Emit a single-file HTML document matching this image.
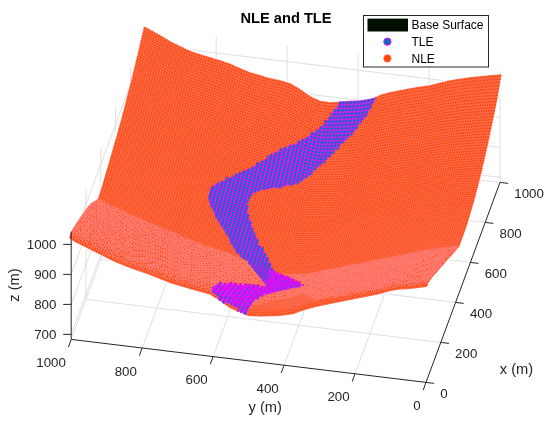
<!DOCTYPE html>
<html><head><meta charset="utf-8"><title>NLE and TLE</title>
<style>
html,body{margin:0;padding:0;background:#fff;}
body{width:550px;height:422px;overflow:hidden;font-family:"Liberation Sans",sans-serif;}
svg{display:block}
.g{stroke:#dfdfdf;stroke-width:1;fill:none}
.a{stroke:#262626;stroke-width:1;fill:none;stroke-linecap:butt}
.t{font-family:"Liberation Sans",sans-serif;font-size:13.33px;fill:#262626}
.l{font-family:"Liberation Sans",sans-serif;font-size:14.67px;fill:#262626}
.lg{font-family:"Liberation Sans",sans-serif;font-size:12px;fill:#000}
.ti{font-family:"Liberation Sans",sans-serif;font-size:14.67px;font-weight:bold;fill:#000}
.mo{fill:none;stroke:none;marker-start:url(#mo);marker-mid:url(#mo);marker-end:url(#mo)}
.mb{fill:none;stroke:none;marker-start:url(#mb);marker-mid:url(#mb);marker-end:url(#mb)}
.mp{fill:none;stroke:none;marker-start:url(#mp);marker-mid:url(#mp);marker-end:url(#mp)}
.mc{fill:none;stroke:none;marker-start:url(#mc);marker-mid:url(#mc);marker-end:url(#mc)}
</style></head><body>
<svg width="550" height="422" viewBox="0 0 550 422">
<defs>
<marker id="mo" markerWidth="5" markerHeight="5" refX="2.5" refY="2.5" markerUnits="userSpaceOnUse"><circle cx="2.5" cy="2.5" r="1.4" fill="#ff4500" stroke="#fb8078" stroke-width="0.55"/></marker>
<marker id="mb" markerWidth="5" markerHeight="5" refX="2.5" refY="2.5" markerUnits="userSpaceOnUse"><circle cx="2.5" cy="2.5" r="1.62" fill="#0072bd" stroke="#ff00ff" stroke-width="0.5"/></marker>
<marker id="mp" markerWidth="5" markerHeight="5" refX="2.5" refY="2.5" markerUnits="userSpaceOnUse"><circle shape-rendering="crispEdges" cx="2.5" cy="2.5" r="1.33" fill="#ff4500" stroke="#ff8280" stroke-width="0.67"/></marker>
<marker id="mc" markerWidth="5" markerHeight="5" refX="2.5" refY="2.5" markerUnits="userSpaceOnUse"><circle shape-rendering="crispEdges" cx="2.5" cy="2.5" r="1.4" fill="#0072bd" stroke="#ff00ff" stroke-width="0.8"/></marker>
</defs>
<rect width="550" height="422" fill="#fff"/>
<g><line class="g" x1="440.8" y1="342.4" x2="86.0" y2="299.4"/><line class="g" x1="355.0" y1="373.8" x2="429.0" y2="173.8"/><line class="g" x1="429.0" y1="173.8" x2="429.0" y2="62.8"/><line class="g" x1="86.0" y1="299.4" x2="86.0" y2="188.4"/><line class="g" x1="455.6" y1="302.4" x2="100.8" y2="259.4"/><line class="g" x1="284.1" y1="365.2" x2="358.1" y2="165.2"/><line class="g" x1="358.1" y1="165.2" x2="358.1" y2="54.2"/><line class="g" x1="100.8" y1="259.4" x2="100.8" y2="148.4"/><line class="g" x1="470.4" y1="262.4" x2="115.6" y2="219.4"/><line class="g" x1="213.1" y1="356.6" x2="287.1" y2="156.6"/><line class="g" x1="287.1" y1="156.6" x2="287.1" y2="45.6"/><line class="g" x1="115.6" y1="219.4" x2="115.6" y2="108.4"/><line class="g" x1="485.2" y1="222.4" x2="130.4" y2="179.4"/><line class="g" x1="142.2" y1="348.0" x2="216.2" y2="148.0"/><line class="g" x1="216.2" y1="148.0" x2="216.2" y2="37.0"/><line class="g" x1="130.4" y1="179.4" x2="130.4" y2="68.4"/><line class="g" x1="500.0" y1="182.4" x2="145.2" y2="139.4"/><line class="g" x1="71.2" y1="339.4" x2="145.2" y2="139.4"/><line class="g" x1="145.2" y1="139.4" x2="145.2" y2="28.4"/><line class="g" x1="145.2" y1="139.4" x2="145.2" y2="28.4"/><line class="g" x1="500.0" y1="182.4" x2="500.0" y2="71.4"/><line class="g" x1="500.0" y1="177.4" x2="145.2" y2="134.4"/><line class="g" x1="71.2" y1="334.4" x2="145.2" y2="134.4"/><line class="g" x1="500.0" y1="147.4" x2="145.2" y2="104.4"/><line class="g" x1="71.2" y1="304.4" x2="145.2" y2="104.4"/><line class="g" x1="500.0" y1="117.4" x2="145.2" y2="74.4"/><line class="g" x1="71.2" y1="274.4" x2="145.2" y2="74.4"/><line class="g" x1="500.0" y1="87.4" x2="145.2" y2="44.4"/><line class="g" x1="71.2" y1="244.4" x2="145.2" y2="44.4"/></g>
<polygon points="145.0,26.6 160.0,35.0 170.0,41.0 180.0,46.0 190.0,50.6 200.0,54.0 210.0,57.0 220.0,60.0 230.0,63.5 240.0,68.0 250.0,72.0 260.0,75.0 270.0,78.0 280.0,80.0 290.0,83.0 300.0,89.0 310.0,96.0 320.0,100.6 330.0,102.0 340.0,101.6 350.0,101.0 360.0,100.6 370.0,99.0 376.0,97.0 382.0,94.0 390.0,92.0 400.0,90.0 410.0,88.0 420.0,86.4 430.0,85.0 450.0,80.0 470.0,77.0 490.0,75.0 500.5,74.2 501.6,77.0 499.0,95.0 495.0,115.0 491.6,130.0 487.0,150.0 482.0,170.0 477.0,190.0 471.0,212.0 469.0,220.0 466.0,230.0 462.0,240.0 459.0,247.0 456.0,251.0 450.0,257.0 444.0,264.0 437.0,272.0 430.0,280.0 427.0,284.4 426.0,287.0 410.0,289.0 400.0,289.5 390.0,291.0 380.0,294.0 360.0,298.0 340.0,302.0 320.0,306.0 310.0,308.5 300.0,311.5 294.0,314.0 280.0,316.0 260.0,316.5 248.0,316.0 240.0,312.5 230.0,308.0 220.0,301.0 210.0,294.5 190.0,289.0 170.0,283.0 150.0,275.0 130.0,268.0 115.0,262.0 105.0,257.0 95.0,252.0 85.0,247.0 75.0,242.0 69.4,238.0 70.0,234.0 73.0,228.0 79.0,219.0 85.0,210.0 91.0,203.0 98.0,199.0 101.0,190.0 103.0,180.0 106.5,168.0 111.5,150.0 117.5,130.0 124.0,110.0 130.0,89.0 133.0,75.0 138.0,55.0 142.4,35.0" fill="#fb5a2a" stroke="#fff" stroke-width="2"/>
<polygon points="98.0,199.0 115.0,208.0 135.0,217.0 155.0,225.0 165.0,229.0 190.0,240.0 201.0,245.0 230.0,254.0 240.0,259.0 255.0,266.0 270.0,271.0 285.0,275.0 310.0,274.0 350.0,266.0 390.0,258.0 430.0,250.0 458.0,246.5 456.0,251.0 450.0,257.0 444.0,264.0 437.0,272.0 430.0,280.0 427.0,284.4 426.0,287.0 410.0,289.0 400.0,289.5 390.0,291.0 380.0,294.0 360.0,298.0 340.0,302.0 320.0,306.0 310.0,308.5 300.0,311.5 294.0,314.0 280.0,316.0 260.0,316.5 248.0,316.0 240.0,312.5 230.0,308.0 220.0,301.0 210.0,294.5 190.0,289.0 170.0,283.0 150.0,275.0 130.0,268.0 115.0,262.0 105.0,257.0 95.0,252.0 85.0,247.0 75.0,242.0 69.4,238.0 70.0,234.0 73.0,228.0 79.0,219.0 85.0,210.0 91.0,203.0" fill="#fd7a68"/>
<polygon points="339.0,102.0 335.0,109.0 330.0,115.0 324.0,123.0 316.0,130.0 308.0,136.0 300.0,141.0 290.0,144.5 280.0,149.0 270.0,155.0 260.0,162.0 250.0,168.0 240.0,173.0 230.0,177.0 220.0,181.0 212.0,186.0 209.0,192.0 208.0,200.0 210.0,206.0 214.0,215.0 220.0,225.0 226.0,235.0 231.0,245.0 238.0,255.0 246.0,262.0 256.0,274.0 264.0,284.0 266.0,287.0 250.0,285.0 230.0,283.0 218.0,283.0 212.0,287.0 211.0,292.0 220.0,300.0 230.0,306.0 240.0,311.0 248.0,315.5 250.0,308.0 254.0,302.0 264.0,296.0 276.0,293.0 290.0,290.0 300.0,288.0 304.0,286.0 294.0,280.0 284.0,276.0 276.0,272.0 272.0,268.0 268.0,258.0 264.0,250.0 260.0,245.0 256.0,235.0 252.0,225.0 249.0,215.0 248.0,205.0 250.0,198.0 253.0,195.0 260.0,191.0 270.0,189.0 280.0,188.0 290.0,186.0 300.0,183.0 310.0,176.0 318.0,168.0 326.0,161.0 334.0,153.0 342.0,145.0 350.0,137.0 358.0,128.0 364.0,120.0 370.0,111.0 374.0,104.0 376.4,97.4 370.0,99.0 360.0,100.6 350.0,101.0 340.0,101.6" fill="#c030ee"/>
<g>
<polyline class="mb" points="340.2,103.2 343.8,103 347.4,102.8 350.9,102.6 354.5,102.5 358,102.3 361.6,102 365.1,101.4 368.6,100.9 372.2,99.9 375.8,98.7"/>
<polyline class="mo" points="145,28.3 147.4,29.6 149.7,30.9 152.1,32.2 154.5,33.6 156.8,34.9 159.2,36.2 161.6,37.6 163.9,39 166.3,40.4 168.7,41.9 171,43.2 173.4,44.4 175.8,45.5 178.1,46.7 180.5,47.9 182.9,49 185.2,50.1 187.6,51.2 190,52.2 192.3,53.1 194.7,53.9 197.1,54.7 199.4,55.5 201.8,56.2 204.2,56.9 206.5,57.6 208.9,58.3 211.3,59 213.6,59.8 216,60.5 218.4,61.2 220.7,61.9 223.1,62.7 225.5,63.6 227.8,64.4 230.2,65.2 232.6,66.3 234.9,67.4 237.3,68.4 239.7,69.5 242,70.5 244.4,71.4 246.8,72.4 249.1,73.3 251.5,74.1 253.9,74.8 256.2,75.5 258.6,76.2 261,77 263.3,77.7 265.7,78.4 268.1,79.1 270.4,79.7 272.8,80.2 275.2,80.7 277.5,81.2 279.9,81.6 282.3,82.3 284.6,83 287,83.8 289.4,84.5 291.7,85.7 294.1,87.1 296.5,88.5 298.8,90 301.2,91.5 303.6,93.2 305.9,94.8 308.3,96.5 310.7,98 313,99.1 315.4,100.1 317.8,101.2 320.1,102.3 322.5,102.6 324.9,102.9 327.2,103.3 329.6,103.6 332,103.6 334.3,103.5 336.7,103.4"/>
<polyline class="mo" points="376.9,98.2 379.3,97 381.7,95.8 384,95.2 386.4,94.6 388.8,94 391.1,93.4 393.5,93 395.9,92.5 398.2,92 400.6,91.5 403,91.1 405.3,90.6 407.7,90.1 410.1,89.6 412.4,89.3 414.8,88.9 417.2,88.5 419.5,88.1 421.9,87.8 424.3,87.5 426.6,87.1 429,86.8 431.4,86.3 433.7,85.7 436.1,85.1 438.5,84.5 440.8,84 443.2,83.4 445.6,82.8 447.9,82.2 450.3,81.6 452.7,81.3 455,80.9 457.4,80.5 459.8,80.2 462.1,79.8 464.5,79.5 466.9,79.1 469.2,78.8 471.6,78.5 474,78.3 476.3,78 478.7,77.8 481.1,77.6 483.4,77.3 485.8,77.1 488.2,76.8 490.5,76.6 492.9,76.4 495.3,76.3 497.6,76.1 500,75.9"/>
<polyline class="mo" points="144.4,30.9 146.8,32.2 149.1,33.5 151.5,34.8 153.9,36.2 156.2,37.5 158.6,38.8 161,40.2 163.3,41.6 165.7,43.1 168.1,44.5 170.4,45.8 172.8,47 175.2,48.2 177.5,49.4 179.9,50.5 182.3,51.6 184.6,52.7 187,53.8 189.4,54.9 191.7,55.7 194.1,56.5 196.5,57.3 198.8,58.1 201.2,58.9 203.6,59.6 205.9,60.3 208.3,61 210.7,61.7 213,62.5 215.4,63.2 217.8,63.9 220.1,64.7 222.5,65.5 224.9,66.3 227.2,67.2 229.6,68 232,69.1 234.3,70.2 236.7,71.2 239.1,72.3 241.4,73.3 243.8,74.2 246.2,75.2 248.5,76.1 250.9,76.9 253.3,77.6 255.6,78.4 258,79.1 260.4,79.8 262.7,80.5 265.1,81.2 267.5,81.9 269.8,82.6 272.2,83.1 274.6,83.6 276.9,84.1 279.3,84.5 281.7,85.2 284,86 286.4,86.7 288.8,87.4 291.1,88.6 293.5,90.1 295.9,91.5 298.2,92.9 300.6,94.4 303,96.1 305.3,97.7 307.7,99.4 310.1,100.9 312.4,102 314.8,103.1 317.2,104.1 319.5,105.2 321.9,105.5 324.3,105.9 326.6,106.2 329,106.6 331.4,106.5 333.7,106.4 336.1,106.4"/>
<polyline class="mo" points="376.3,101.2 378.7,100.1 381.1,98.9 383.4,98.2 385.8,97.6 388.2,97.1 390.5,96.5 392.9,96.1 395.3,95.6 397.6,95.1 400,94.7 402.4,94.2 404.7,93.7 407.1,93.2 409.5,92.8 411.8,92.4 414.2,92 416.6,91.7 418.9,91.3 421.3,90.9 423.7,90.6 426,90.3 428.4,90 430.8,89.5 433.1,88.9 435.5,88.3 437.9,87.7 440.2,87.1 442.6,86.6 445,86 447.3,85.4 449.7,84.8 452.1,84.5 454.4,84.1 456.8,83.8 459.2,83.4 461.5,83.1 463.9,82.7 466.3,82.4 468.6,82 471,81.7 473.4,81.5 475.7,81.3 478.1,81 480.5,80.8 482.8,80.6 485.2,80.3 487.6,80.1 489.9,79.9 492.3,79.7 494.7,79.5 497,79.4 499.4,79.2"/>
<polyline class="mb" points="339.5,106.9 343.1,106.7 346.6,106.5 350.2,106.4 353.7,106.2 357.3,106.1 360.8,105.8 364.4,105.2 367.9,104.6 371.5,103.7"/>
<polyline class="mo" points="143.8,33.4 146.2,34.8 148.5,36.1 150.9,37.4 153.3,38.8 155.6,40.1 158,41.4 160.4,42.8 162.7,44.2 165.1,45.7 167.5,47.1 169.8,48.4 172.2,49.6 174.6,50.8 176.9,52 179.3,53.1 181.7,54.2 184,55.3 186.4,56.4 188.8,57.5 191.1,58.3 193.5,59.2 195.9,60 198.2,60.8 200.6,61.5 203,62.3 205.3,63 207.7,63.7 210.1,64.4 212.4,65.2 214.8,65.9 217.2,66.6 219.5,67.4 221.9,68.2 224.3,69.1 226.6,69.9 229,70.8 231.4,71.9 233.7,72.9 236.1,74 238.5,75.1 240.8,76 243.2,77 245.6,78 247.9,78.9 250.3,79.7 252.7,80.4 255,81.2 257.4,81.9 259.8,82.6 262.1,83.3 264.5,84 266.9,84.8 269.2,85.4 271.6,85.9 274,86.4 276.3,86.9 278.7,87.4 281.1,88.1 283.4,88.9 285.8,89.6 288.2,90.3 290.5,91.6 292.9,93 295.3,94.4 297.6,95.8 300,97.4 302.4,99 304.7,100.7 307.1,102.3 309.5,103.8 311.8,104.9 314.2,106 316.6,107 318.9,108.1 321.3,108.4 323.7,108.8 326,109.1 328.4,109.5 330.8,109.5 333.1,109.4"/>
<polyline class="mo" points="373.4,105.2 375.7,104.2 378.1,103.1 380.5,101.9 382.8,101.3 385.2,100.7 387.6,100.1 389.9,99.6 392.3,99.1 394.7,98.7 397,98.2 399.4,97.7 401.8,97.3 404.1,96.8 406.5,96.4 408.9,95.9 411.2,95.5 413.6,95.1 416,94.8 418.3,94.4 420.7,94.1 423.1,93.7 425.4,93.4 427.8,93.1 430.2,92.6 432.5,92 434.9,91.5 437.3,90.9 439.6,90.3 442,89.7 444.4,89.1 446.7,88.6 449.1,88 451.5,87.7 453.8,87.3 456.2,87 458.6,86.6 460.9,86.3 463.3,85.9 465.7,85.6 468,85.2 470.4,85 472.8,84.7 475.1,84.5 477.5,84.3 479.9,84 482.2,83.8 484.6,83.6 487,83.4 489.3,83.1 491.7,83 494.1,82.8 496.4,82.6 498.8,82.4"/>
<polyline class="mb" points="335.2,110.8 338.8,110.6 342.3,110.4 345.9,110.2 349.4,110.1 353,109.9 356.5,109.8 360.1,109.5 363.6,108.9 367.2,108.4 370.7,107.4"/>
<polyline class="mo" points="143.2,36 145.6,37.3 148,38.7 150.3,40 152.7,41.4 155.1,42.7 157.4,44 159.8,45.4 162.2,46.8 164.5,48.3 166.9,49.7 169.3,51 171.6,52.2 174,53.4 176.4,54.6 178.7,55.7 181.1,56.8 183.5,57.9 185.8,59 188.2,60.1 190.6,61 192.9,61.8 195.3,62.6 197.7,63.4 200,64.2 202.4,64.9 204.8,65.7 207.1,66.4 209.5,67.1 211.9,67.9 214.2,68.6 216.6,69.3 219,70.1 221.3,71 223.7,71.8 226.1,72.7 228.4,73.5 230.8,74.6 233.2,75.7 235.5,76.8 237.9,77.8 240.3,78.8 242.6,79.8 245,80.7 247.4,81.7 249.7,82.5 252.1,83.2 254.5,84 256.8,84.7 259.2,85.4 261.6,86.1 263.9,86.8 266.3,87.6 268.7,88.3 271,88.8 273.4,89.3 275.8,89.8 278.1,90.3 280.5,91 282.9,91.8 285.2,92.5 287.6,93.2 290,94.5 292.3,95.9 294.7,97.3 297.1,98.7 299.4,100.3 301.8,101.9 304.2,103.5 306.5,105.2 308.9,106.7 311.3,107.8 313.6,108.8 316,109.9 318.4,111 320.7,111.3 323.1,111.7 325.5,112 327.8,112.4 330.2,112.4"/>
<polyline class="mo" points="372.8,108.2 375.2,107.2 377.5,106.1 379.9,105 382.3,104.3 384.6,103.7 387,103.2 389.4,102.7 391.7,102.2 394.1,101.7 396.5,101.3 398.8,100.8 401.2,100.4 403.6,99.9 405.9,99.4 408.3,99 410.7,98.6 413,98.2 415.4,97.9 417.8,97.5 420.1,97.2 422.5,96.8 424.9,96.5 427.2,96.2 429.6,95.7 432,95.2 434.3,94.6 436.7,94 439.1,93.4 441.4,92.9 443.8,92.3 446.2,91.7 448.5,91.2 450.9,90.8 453.3,90.5 455.6,90.1 458,89.8 460.4,89.5 462.7,89.1 465.1,88.8 467.5,88.4 469.8,88.2 472.2,87.9 474.6,87.7 476.9,87.5 479.3,87.2 481.7,87 484,86.8 486.4,86.6 488.8,86.4 491.1,86.2 493.5,86 495.9,85.9 498.2,85.7"/>
<polyline class="mb" points="330.9,114.5 334.5,114.4 338,114.3 341.6,114.1 345.1,113.9 348.7,113.7 352.2,113.6 355.8,113.5 359.3,113.2 362.9,112.6 366.4,112.1"/>
<polyline class="mo" points="142.6,38.6 145,39.9 147.4,41.3 149.7,42.6 152.1,43.9 154.5,45.3 156.8,46.6 159.2,48 161.6,49.4 163.9,50.8 166.3,52.3 168.7,53.6 171,54.8 173.4,56 175.8,57.2 178.1,58.3 180.5,59.4 182.9,60.5 185.2,61.6 187.6,62.7 190,63.6 192.3,64.4 194.7,65.2 197.1,66.1 199.4,66.8 201.8,67.6 204.2,68.3 206.5,69 208.9,69.8 211.3,70.5 213.6,71.3 216,72 218.4,72.8 220.7,73.7 223.1,74.5 225.5,75.4 227.8,76.3 230.2,77.3 232.6,78.4 234.9,79.5 237.3,80.6 239.7,81.6 242,82.5 244.4,83.5 246.8,84.5 249.1,85.3 251.5,86 253.9,86.7 256.2,87.5 258.6,88.2 261,88.9 263.3,89.6 265.7,90.4 268.1,91.1 270.4,91.6 272.8,92.1 275.2,92.6 277.5,93.1 279.9,93.9 282.3,94.6 284.6,95.4 287,96.1 289.4,97.4 291.7,98.8 294.1,100.2 296.5,101.6 298.8,103.2 301.2,104.8 303.6,106.4 305.9,108.1 308.3,109.5 310.7,110.6 313,111.7 315.4,112.8 317.8,113.8 320.1,114.2 322.5,114.6 324.9,114.9 327.2,115.3 329.6,115.3"/>
<polyline class="mo" points="369.8,111.9 372.2,111.1 374.6,110.2 376.9,109.1 379.3,108 381.7,107.3 384,106.8 386.4,106.2 388.8,105.7 391.1,105.2 393.5,104.8 395.9,104.3 398.2,103.9 400.6,103.4 403,103 405.3,102.5 407.7,102 410.1,101.7 412.4,101.3 414.8,100.9 417.2,100.6 419.5,100.3 421.9,99.9 424.3,99.6 426.6,99.3 429,98.8 431.4,98.3 433.7,97.7 436.1,97.1 438.5,96.6 440.8,96 443.2,95.4 445.6,94.9 447.9,94.3 450.3,94 452.7,93.6 455,93.3 457.4,93 459.8,92.6 462.1,92.3 464.5,91.9 466.9,91.6 469.2,91.3 471.6,91.1 474,90.9 476.3,90.7 478.7,90.4 481.1,90.2 483.4,90 485.8,89.8 488.2,89.6 490.5,89.4 492.9,89.2 495.3,89.1 497.6,88.9"/>
<polyline class="mb" points="330.2,118.1 333.7,118 337.3,117.9 340.8,117.7 344.4,117.5 347.9,117.4 351.5,117.3 355,117.1 358.6,116.8 362.1,116.3 365.7,115.7"/>
<polyline class="mo" points="142,41.1 144.4,42.5 146.8,43.8 149.1,45.2 151.5,46.5 153.9,47.8 156.2,49.2 158.6,50.6 161,52 163.3,53.4 165.7,54.8 168.1,56.2 170.4,57.4 172.8,58.6 175.2,59.8 177.5,60.9 179.9,62 182.3,63.1 184.6,64.2 187,65.3 189.4,66.2 191.7,67 194.1,67.8 196.5,68.7 198.8,69.5 201.2,70.2 203.6,70.9 205.9,71.7 208.3,72.4 210.7,73.2 213,74 215.4,74.7 217.8,75.5 220.1,76.4 222.5,77.2 224.9,78.1 227.2,79 229.6,80.1 232,81.1 234.3,82.2 236.7,83.3 239.1,84.3 241.4,85.3 243.8,86.3 246.2,87.2 248.5,88 250.9,88.8 253.3,89.5 255.6,90.2 258,91 260.4,91.7 262.7,92.4 265.1,93.2 267.5,93.9 269.8,94.4 272.2,94.9 274.6,95.4 276.9,96 279.3,96.7 281.7,97.5 284,98.3 286.4,99 288.8,100.3 291.1,101.7 293.5,103.1 295.9,104.5 298.2,106 300.6,107.7 303,109.3 305.3,110.9 307.7,112.4 310.1,113.5 312.4,114.6 314.8,115.6 317.2,116.7 319.5,117.1 321.9,117.4 324.3,117.8 326.6,118.2"/>
<polyline class="mo" points="369.2,114.8 371.6,114.1 374,113.2 376.3,112.1 378.7,111 381.1,110.3 383.4,109.8 385.8,109.2 388.2,108.7 390.5,108.2 392.9,107.8 395.3,107.3 397.6,106.9 400,106.4 402.4,106 404.7,105.5 407.1,105.1 409.5,104.7 411.8,104.4 414.2,104 416.6,103.6 418.9,103.3 421.3,103 423.7,102.7 426,102.4 428.4,101.9 430.8,101.3 433.1,100.8 435.5,100.2 437.9,99.7 440.2,99.1 442.6,98.5 445,98 447.3,97.4 449.7,97.1 452.1,96.8 454.4,96.4 456.8,96.1 459.2,95.7 461.5,95.4 463.9,95.1 466.3,94.7 468.6,94.5 471,94.2 473.4,94 475.7,93.8 478.1,93.6 480.5,93.4 482.8,93.2 485.2,92.9 487.6,92.7 489.9,92.6 492.3,92.4 494.7,92.2 497,92.1"/>
<polyline class="mo" points="141.4,43.7 143.8,45 146.2,46.4 148.5,47.7 150.9,49.1 153.3,50.4 155.6,51.8 158,53.1 160.4,54.6 162.7,56 165.1,57.4 167.5,58.7 169.8,59.9 172.2,61.1 174.6,62.3 176.9,63.5 179.3,64.6 181.7,65.7 184,66.8 186.4,67.9 188.8,68.8 191.1,69.6 193.5,70.4 195.9,71.3 198.2,72.1 200.6,72.8 203,73.6 205.3,74.3 207.7,75.1 210.1,75.8 212.4,76.6 214.8,77.4 217.2,78.2 219.5,79 221.9,79.9 224.3,80.8 226.6,81.7 229,82.8 231.4,83.9 233.7,84.9 236.1,86 238.5,87 240.8,88 243.2,89 245.6,89.9 247.9,90.8 250.3,91.5 252.7,92.2 255,93 257.4,93.7 259.8,94.5 262.1,95.2 264.5,95.9 266.9,96.6 269.2,97.2 271.6,97.7 274,98.2 276.3,98.8 278.7,99.6 281.1,100.3 283.4,101.1 285.8,101.9 288.2,103.1 290.5,104.5 292.9,106 295.3,107.4 297.6,108.9 300,110.5 302.4,112.1 304.7,113.7 307.1,115.2 309.5,116.3 311.8,117.4 314.2,118.5 316.6,119.5 318.9,119.9 321.3,120.3 323.7,120.7"/>
<polyline class="mo" points="366.3,118.5 368.6,117.7 371,117 373.4,116.1 375.7,115 378.1,113.9 380.5,113.3 382.8,112.7 385.2,112.2 387.6,111.7 389.9,111.2 392.3,110.8 394.7,110.3 397,109.9 399.4,109.5 401.8,109 404.1,108.6 406.5,108.1 408.9,107.8 411.2,107.4 413.6,107 416,106.7 418.3,106.4 420.7,106 423.1,105.7 425.4,105.4 427.8,105 430.2,104.4 432.5,103.8 434.9,103.3 437.3,102.7 439.6,102.2 442,101.6 444.4,101.1 446.7,100.5 449.1,100.2 451.5,99.9 453.8,99.5 456.2,99.2 458.6,98.9 460.9,98.5 463.3,98.2 465.7,97.8 468,97.6 470.4,97.4 472.8,97.2 475.1,96.9 477.5,96.7 479.9,96.5 482.2,96.3 484.6,96.1 487,95.9 489.3,95.7 491.7,95.6 494.1,95.4 496.4,95.2"/>
<polyline class="mb" points="325.9,121.7 329.5,121.7 333,121.6 336.6,121.5 340.1,121.3 343.7,121.2 347.2,121 350.8,120.9 354.3,120.8 357.9,120.4 361.4,119.9"/>
<polyline class="mo" points="140.9,46.2 143.2,47.6 145.6,48.9 148,50.3 150.3,51.6 152.7,53 155.1,54.3 157.4,55.7 159.8,57.1 162.2,58.5 164.5,60 166.9,61.3 169.3,62.5 171.6,63.7 174,64.9 176.4,66.1 178.7,67.2 181.1,68.3 183.5,69.4 185.8,70.5 188.2,71.3 190.6,72.2 192.9,73 195.3,73.9 197.7,74.7 200,75.4 202.4,76.2 204.8,77 207.1,77.7 209.5,78.5 211.9,79.3 214.2,80 216.6,80.8 219,81.7 221.3,82.6 223.7,83.5 226.1,84.4 228.4,85.5 230.8,86.6 233.2,87.6 235.5,88.7 237.9,89.7 240.3,90.7 242.6,91.7 245,92.7 247.4,93.5 249.7,94.2 252.1,95 254.5,95.7 256.8,96.5 259.2,97.2 261.6,97.9 263.9,98.7 266.3,99.4 268.7,99.9 271,100.5 273.4,101 275.8,101.6 278.1,102.4 280.5,103.2 282.9,103.9 285.2,104.7 287.6,106 290,107.4 292.3,108.8 294.7,110.2 297.1,111.7 299.4,113.4 301.8,115 304.2,116.6 306.5,118 308.9,119.1 311.3,120.2 313.6,121.3 316,122.3 318.4,122.7 320.7,123.1 323.1,123.5"/>
<polyline class="mo" points="363.3,121.7 365.7,121.3 368.1,120.6 370.4,119.9 372.8,119 375.2,118 377.5,116.9 379.9,116.3 382.3,115.7 384.6,115.2 387,114.7 389.4,114.2 391.7,113.8 394.1,113.3 396.5,112.9 398.8,112.4 401.2,112 403.6,111.6 405.9,111.1 408.3,110.8 410.7,110.4 413,110.1 415.4,109.7 417.8,109.4 420.1,109.1 422.5,108.7 424.9,108.4 427.2,108 429.6,107.4 432,106.9 434.3,106.3 436.7,105.8 439.1,105.2 441.4,104.7 443.8,104.1 446.2,103.6 448.5,103.3 450.9,103 453.3,102.6 455.6,102.3 458,101.9 460.4,101.6 462.7,101.3 465.1,100.9 467.5,100.7 469.8,100.5 472.2,100.3 474.6,100 476.9,99.8 479.3,99.6 481.7,99.4 484,99.2 486.4,99 488.8,98.8 491.1,98.7 493.5,98.5 495.9,98.4"/>
<polyline class="mb" points="325.2,125.3 328.7,125.2 332.3,125.2 335.8,125.1 339.4,124.9 342.9,124.7 346.5,124.6 350,124.5 353.6,124.3 357.1,124 360.7,123.5"/>
<polyline class="mo" points="140.3,48.7 142.6,50.1 145,51.4 147.4,52.8 149.7,54.1 152.1,55.5 154.5,56.8 156.8,58.2 159.2,59.7 161.6,61.1 163.9,62.5 166.3,63.8 168.7,65 171,66.2 173.4,67.4 175.8,68.6 178.1,69.7 180.5,70.8 182.9,71.9 185.2,73.1 187.6,73.9 190,74.8 192.3,75.6 194.7,76.5 197.1,77.3 199.4,78 201.8,78.8 204.2,79.6 206.5,80.3 208.9,81.1 211.3,81.9 213.6,82.7 216,83.5 218.4,84.4 220.7,85.3 223.1,86.1 225.5,87 227.8,88.1 230.2,89.2 232.6,90.3 234.9,91.4 237.3,92.4 239.7,93.4 242,94.4 244.4,95.4 246.8,96.2 249.1,97 251.5,97.7 253.9,98.4 256.2,99.2 258.6,99.9 261,100.7 263.3,101.4 265.7,102.1 268.1,102.7 270.4,103.2 272.8,103.8 275.2,104.4 277.5,105.2 279.9,106 282.3,106.8 284.6,107.6 287,108.8 289.4,110.2 291.7,111.6 294.1,113.1 296.5,114.6 298.8,116.2 301.2,117.8 303.6,119.4 305.9,120.8 308.3,121.9 310.7,123 313,124.1 315.4,125.1 317.8,125.5 320.1,125.9"/>
<polyline class="mo" points="360.4,124.9 362.7,124.6 365.1,124.2 367.5,123.5 369.8,122.8 372.2,121.9 374.6,120.9 376.9,119.8 379.3,119.2 381.7,118.6 384,118.1 386.4,117.6 388.8,117.2 391.1,116.7 393.5,116.3 395.9,115.9 398.2,115.4 400.6,115 403,114.5 405.3,114.1 407.7,113.7 410.1,113.4 412.4,113 414.8,112.7 417.2,112.4 419.5,112.1 421.9,111.7 424.3,111.4 426.6,111 429,110.4 431.4,109.9 433.7,109.4 436.1,108.8 438.5,108.3 440.8,107.7 443.2,107.2 445.6,106.7 447.9,106.3 450.3,106 452.7,105.7 455,105.3 457.4,105 459.8,104.7 462.1,104.3 464.5,104 466.9,103.8 469.2,103.5 471.6,103.3 474,103.1 476.3,102.9 478.7,102.7 481.1,102.5 483.4,102.3 485.8,102.1 488.2,101.9 490.5,101.8 492.9,101.6 495.3,101.5"/>
<polyline class="mb" points="320.9,128.2 324.4,128.8 328,128.8 331.5,128.7 335.1,128.6 338.6,128.4 342.2,128.3 345.7,128.2 349.3,128.1 352.8,127.9 356.4,127.6"/>
<polyline class="mo" points="139.7,51.3 142,52.6 144.4,54 146.8,55.3 149.1,56.7 151.5,58 153.9,59.4 156.2,60.8 158.6,62.2 161,63.6 163.3,65 165.7,66.4 168.1,67.6 170.4,68.8 172.8,70 175.2,71.2 177.5,72.3 179.9,73.4 182.3,74.5 184.6,75.6 187,76.5 189.4,77.3 191.7,78.2 194.1,79 196.5,79.8 198.8,80.6 201.2,81.4 203.6,82.2 205.9,82.9 208.3,83.7 210.7,84.5 213,85.3 215.4,86.1 217.8,87 220.1,87.9 222.5,88.8 224.9,89.7 227.2,90.8 229.6,91.9 232,93 234.3,94.1 236.7,95.1 239.1,96.1 241.4,97.1 243.8,98.1 246.2,98.9 248.5,99.7 250.9,100.4 253.3,101.2 255.6,101.9 258,102.7 260.4,103.4 262.7,104.2 265.1,104.9 267.5,105.4 269.8,106 272.2,106.6 274.6,107.2 276.9,108 279.3,108.8 281.7,109.6 284,110.4 286.4,111.6 288.8,113 291.1,114.5 293.5,115.9 295.9,117.4 298.2,119 300.6,120.6 303,122.2 305.3,123.6 307.7,124.7 310.1,125.8 312.4,126.9 314.8,127.9 317.2,128.3"/>
<polyline class="mo" points="359.8,127.8 362.1,127.4 364.5,127.1 366.9,126.4 369.2,125.7 371.6,124.8 374,123.8 376.3,122.7 378.7,122.1 381.1,121.6 383.4,121 385.8,120.5 388.2,120.1 390.5,119.7 392.9,119.2 395.3,118.8 397.6,118.4 400,117.9 402.4,117.5 404.7,117.1 407.1,116.7 409.5,116.4 411.8,116 414.2,115.7 416.6,115.3 418.9,115 421.3,114.7 423.7,114.4 426,114 428.4,113.4 430.8,112.9 433.1,112.4 435.5,111.8 437.9,111.3 440.2,110.7 442.6,110.2 445,109.7 447.3,109.4 449.7,109 452.1,108.7 454.4,108.4 456.8,108 459.2,107.7 461.5,107.4 463.9,107.1 466.3,106.8 468.6,106.6 471,106.4 473.4,106.2 475.7,106 478.1,105.8 480.5,105.6 482.8,105.4 485.2,105.2 487.6,105 489.9,104.9 492.3,104.7 494.7,104.6"/>
<polyline class="mb" points="316.6,131.1 320.1,131.7 323.7,132.3 327.2,132.3 330.8,132.2 334.3,132.1 337.9,132 341.4,131.8 345,131.7 348.5,131.6 352.1,131.4"/>
<polyline class="mo" points="139.1,53.8 141.4,55.1 143.8,56.5 146.2,57.8 148.5,59.2 150.9,60.5 153.3,61.9 155.6,63.3 158,64.7 160.4,66.1 162.7,67.5 165.1,68.9 167.5,70.1 169.8,71.3 172.2,72.5 174.6,73.7 176.9,74.8 179.3,75.9 181.7,77 184,78.1 186.4,79 188.8,79.9 191.1,80.7 193.5,81.6 195.9,82.4 198.2,83.2 200.6,84 203,84.7 205.3,85.5 207.7,86.3 210.1,87.1 212.4,87.9 214.8,88.7 217.2,89.6 219.5,90.5 221.9,91.4 224.3,92.4 226.6,93.5 229,94.6 231.4,95.7 233.7,96.8 236.1,97.8 238.5,98.8 240.8,99.8 243.2,100.8 245.6,101.6 247.9,102.3 250.3,103.1 252.7,103.9 255,104.6 257.4,105.4 259.8,106.1 262.1,106.9 264.5,107.6 266.9,108.1 269.2,108.7 271.6,109.3 274,109.9 276.3,110.7 278.7,111.6 281.1,112.4 283.4,113.2 285.8,114.4 288.2,115.8 290.5,117.3 292.9,118.7 295.3,120.2 297.6,121.8 300,123.3 302.4,124.9 304.7,126.4 307.1,127.5 309.5,128.5 311.8,129.6 314.2,130.6"/>
<polyline class="mo" points="356.8,131 359.2,130.6 361.5,130.3 363.9,129.9 366.3,129.2 368.6,128.5 371,127.7 373.4,126.6 375.7,125.6 378.1,125 380.5,124.5 382.8,123.9 385.2,123.4 387.6,123 389.9,122.6 392.3,122.2 394.7,121.7 397,121.3 399.4,120.9 401.8,120.4 404.1,120 406.5,119.7 408.9,119.3 411.2,119 413.6,118.6 416,118.3 418.3,118 420.7,117.7 423.1,117.4 425.4,116.9 427.8,116.4 430.2,115.9 432.5,115.3 434.9,114.8 437.3,114.3 439.6,113.7 442,113.2 444.4,112.7 446.7,112.4 449.1,112 451.5,111.7 453.8,111.4 456.2,111.1 458.6,110.7 460.9,110.4 463.3,110.1 465.7,109.8 468,109.6 470.4,109.4 472.8,109.2 475.1,109 477.5,108.8 479.9,108.6 482.2,108.4 484.6,108.2 487,108.1 489.3,107.9 491.7,107.8 494.1,107.6"/>
<polyline class="mo" points="138.5,56.3 140.9,57.6 143.2,59 145.6,60.3 148,61.7 150.3,63.1 152.7,64.4 155.1,65.8 157.4,67.2 159.8,68.6 162.2,70.1 164.5,71.4 166.9,72.6 169.3,73.8 171.6,75 174,76.2 176.4,77.3 178.7,78.4 181.1,79.5 183.5,80.7 185.8,81.5 188.2,82.4 190.6,83.3 192.9,84.1 195.3,85 197.7,85.7 200,86.5 202.4,87.3 204.8,88.1 207.1,88.9 209.5,89.7 211.9,90.5 214.2,91.4 216.6,92.3 219,93.2 221.3,94.1 223.7,95 226.1,96.1 228.4,97.2 230.8,98.3 233.2,99.4 235.5,100.5 237.9,101.5 240.3,102.5 242.6,103.4 245,104.3 247.4,105 249.7,105.8 252.1,106.5 254.5,107.3 256.8,108.1 259.2,108.8 261.6,109.6 263.9,110.3 266.3,110.9 268.7,111.4 271,112.1 273.4,112.7 275.8,113.5 278.1,114.3 280.5,115.1 282.9,115.9 285.2,117.2 287.6,118.6 290,120 292.3,121.5 294.7,123 297.1,124.5 299.4,126.1 301.8,127.7 304.2,129.1 306.5,130.2 308.9,131.3 311.3,132.4"/>
<polyline class="mo" points="353.9,134.1 356.2,133.8 358.6,133.4 361,133.1 363.3,132.7 365.7,132.1 368.1,131.4 370.4,130.5 372.8,129.5 375.2,128.5 377.5,127.9 379.9,127.3 382.3,126.8 384.6,126.3 387,125.9 389.4,125.5 391.7,125.1 394.1,124.6 396.5,124.2 398.8,123.8 401.2,123.3 403.6,122.9 405.9,122.6 408.3,122.2 410.7,121.9 413,121.5 415.4,121.2 417.8,120.9 420.1,120.6 422.5,120.3 424.9,119.9 427.2,119.3 429.6,118.8 432,118.3 434.3,117.8 436.7,117.2 439.1,116.7 441.4,116.2 443.8,115.7 446.2,115.4 448.5,115 450.9,114.7 453.3,114.4 455.6,114.1 458,113.7 460.4,113.4 462.7,113.1 465.1,112.8 467.5,112.6 469.8,112.4 472.2,112.2 474.6,112 476.9,111.8 479.3,111.6 481.7,111.4 484,111.2 486.4,111.1 488.8,110.9 491.1,110.8 493.5,110.6"/>
<polyline class="mb" points="312.3,133.6 315.8,134.5 319.4,135.1 322.9,135.7 326.5,135.7 330,135.7 333.6,135.6 337.1,135.4 340.7,135.3 344.2,135.2 347.8,135.1 351.3,135"/>
<polyline class="mo" points="137.9,58.7 140.3,60.1 142.6,61.5 145,62.8 147.4,64.2 149.7,65.6 152.1,66.9 154.5,68.3 156.8,69.7 159.2,71.1 161.6,72.6 163.9,73.9 166.3,75.1 168.7,76.3 171,77.5 173.4,78.7 175.8,79.8 178.1,80.9 180.5,82.1 182.9,83.2 185.2,84.1 187.6,84.9 190,85.8 192.3,86.7 194.7,87.5 197.1,88.3 199.4,89.1 201.8,89.9 204.2,90.7 206.5,91.5 208.9,92.3 211.3,93.1 213.6,94 216,94.9 218.4,95.8 220.7,96.7 223.1,97.6 225.5,98.7 227.8,99.8 230.2,101 232.6,102.1 234.9,103.1 237.3,104.1 239.7,105.1 242,106.1 244.4,106.9 246.8,107.7 249.1,108.4 251.5,109.2 253.9,110 256.2,110.7 258.6,111.5 261,112.3 263.3,113 265.7,113.5 268.1,114.1 270.4,114.8 272.8,115.4 275.2,116.2 277.5,117.1 279.9,117.9 282.3,118.7 284.6,120 287,121.4 289.4,122.8 291.7,124.2 294.1,125.7 296.5,127.3 298.8,128.9 301.2,130.4 303.6,131.9 305.9,132.9 308.3,134"/>
<polyline class="mo" points="350.9,137 353.3,136.9 355.6,136.6 358,136.2 360.4,135.9 362.7,135.5 365.1,134.9 367.5,134.2 369.8,133.4 372.2,132.3 374.6,131.3 376.9,130.7 379.3,130.2 381.7,129.7 384,129.2 386.4,128.8 388.8,128.4 391.1,127.9 393.5,127.5 395.9,127.1 398.2,126.7 400.6,126.2 403,125.8 405.3,125.5 407.7,125.1 410.1,124.8 412.4,124.4 414.8,124.1 417.2,123.8 419.5,123.5 421.9,123.2 424.3,122.8 426.6,122.3 429,121.7 431.4,121.2 433.7,120.7 436.1,120.2 438.5,119.7 440.8,119.1 443.2,118.6 445.6,118.3 447.9,118 450.3,117.7 452.7,117.3 455,117 457.4,116.7 459.8,116.4 462.1,116.1 464.5,115.8 466.9,115.6 469.2,115.4 471.6,115.2 474,115 476.3,114.8 478.7,114.6 481.1,114.4 483.4,114.2 485.8,114.1 488.2,113.9 490.5,113.8 492.9,113.6"/>
<polyline class="mb" points="311.6,137 315.1,137.9 318.7,138.6 322.2,139.2 325.8,139.2 329.3,139.1 332.9,139 336.4,138.9 340,138.8 343.5,138.7 347.1,138.6"/>
<polyline class="mo" points="137.3,61.2 139.7,62.6 142,63.9 144.4,65.3 146.8,66.7 149.1,68 151.5,69.4 153.9,70.8 156.2,72.2 158.6,73.6 161,75 163.3,76.4 165.7,77.6 168.1,78.8 170.4,80 172.8,81.2 175.2,82.3 177.5,83.4 179.9,84.6 182.3,85.7 184.6,86.6 187,87.4 189.4,88.3 191.7,89.2 194.1,90 196.5,90.8 198.8,91.6 201.2,92.4 203.6,93.2 205.9,94.1 208.3,94.9 210.7,95.7 213,96.5 215.4,97.5 217.8,98.4 220.1,99.3 222.5,100.2 224.9,101.3 227.2,102.5 229.6,103.6 232,104.7 234.3,105.7 236.7,106.8 239.1,107.8 241.4,108.7 243.8,109.6 246.2,110.3 248.5,111.1 250.9,111.9 253.3,112.6 255.6,113.4 258,114.2 260.4,114.9 262.7,115.7 265.1,116.2 267.5,116.8 269.8,117.5 272.2,118.1 274.6,119 276.9,119.8 279.3,120.6 281.7,121.5 284,122.7 286.4,124.1 288.8,125.6 291.1,127 293.5,128.5 295.9,130 298.2,131.6 300.6,133.1 303,134.6 305.3,135.7"/>
<polyline class="mo" points="347.9,139.9 350.3,139.8 352.7,139.7 355,139.3 357.4,139 359.8,138.6 362.1,138.3 364.5,137.6 366.9,137 369.2,136.2 371.6,135.1 374,134.1 376.3,133.6 378.7,133 381.1,132.5 383.4,132.1 385.8,131.6 388.2,131.2 390.5,130.8 392.9,130.4 395.3,130 397.6,129.5 400,129.1 402.4,128.7 404.7,128.4 407.1,128 409.5,127.7 411.8,127.3 414.2,127 416.6,126.7 418.9,126.4 421.3,126.1 423.7,125.7 426,125.2 428.4,124.7 430.8,124.1 433.1,123.6 435.5,123.1 437.9,122.6 440.2,122.1 442.6,121.6 445,121.3 447.3,120.9 449.7,120.6 452.1,120.3 454.4,120 456.8,119.6 459.2,119.3 461.5,119 463.9,118.7 466.3,118.5 468.6,118.3 471,118.2 473.4,118 475.7,117.8 478.1,117.6 480.5,117.4 482.8,117.2 485.2,117.1 487.6,116.9 489.9,116.8 492.3,116.6"/>
<polyline class="mb" points="307.3,138.8 310.8,140.3 314.4,141.3 317.9,141.9 321.5,142.6 325,142.6 328.6,142.5 332.1,142.5 335.7,142.3 339.2,142.2 342.8,142.1"/>
<polyline class="mo" points="136.7,63.7 139.1,65.1 141.4,66.4 143.8,67.8 146.2,69.2 148.5,70.5 150.9,71.9 153.3,73.3 155.6,74.7 158,76.1 160.4,77.5 162.7,78.8 165.1,80.1 167.5,81.3 169.8,82.5 172.2,83.7 174.6,84.8 176.9,85.9 179.3,87 181.7,88.2 184,89.1 186.4,89.9 188.8,90.8 191.1,91.7 193.5,92.5 195.9,93.3 198.2,94.2 200.6,95 203,95.8 205.3,96.6 207.7,97.4 210.1,98.3 212.4,99.1 214.8,100 217.2,101 219.5,101.9 221.9,102.8 224.3,103.9 226.6,105.1 229,106.2 231.4,107.3 233.7,108.3 236.1,109.4 238.5,110.4 240.8,111.3 243.2,112.2 245.6,113 247.9,113.7 250.3,114.5 252.7,115.3 255,116 257.4,116.8 259.8,117.6 262.1,118.3 264.5,118.9 266.9,119.5 269.2,120.2 271.6,120.8 274,121.7 276.3,122.5 278.7,123.4 281.1,124.2 283.4,125.5 285.8,126.9 288.2,128.3 290.5,129.7 292.9,131.2 295.3,132.7 297.6,134.3 300,135.8 302.4,137.3"/>
<polyline class="mo" points="345,142.8 347.3,142.7 349.7,142.6 352.1,142.4 354.4,142.1 356.8,141.7 359.2,141.4 361.5,141.1 363.9,140.4 366.3,139.7 368.6,138.9 371,137.9 373.4,137 375.7,136.4 378.1,135.9 380.5,135.3 382.8,134.9 385.2,134.5 387.6,134 389.9,133.6 392.3,133.2 394.7,132.8 397,132.4 399.4,132 401.8,131.6 404.1,131.2 406.5,130.9 408.9,130.5 411.2,130.2 413.6,129.9 416,129.6 418.3,129.3 420.7,129 423.1,128.6 425.4,128 427.8,127.5 430.2,127 432.5,126.5 434.9,126 437.3,125.5 439.6,125 442,124.5 444.4,124.2 446.7,123.8 449.1,123.5 451.5,123.2 453.8,122.9 456.2,122.6 458.6,122.3 460.9,121.9 463.3,121.7 465.7,121.5 468,121.3 470.4,121.1 472.8,120.9 475.1,120.7 477.5,120.5 479.9,120.3 482.2,120.2 484.6,120 487,119.9 489.3,119.7 491.7,119.6"/>
<polyline class="mb" points="303,140.5 306.5,142.1 310.1,143.7 313.6,144.6 317.2,145.3 320.7,146 324.3,146 327.8,145.9 331.4,145.9 334.9,145.7 338.5,145.6"/>
<polyline class="mo" points="136.1,66.1 138.5,67.5 140.9,68.9 143.2,70.3 145.6,71.6 148,73 150.3,74.4 152.7,75.8 155.1,77.2 157.4,78.6 159.8,80 162.2,81.3 164.5,82.5 166.9,83.8 169.3,85 171.6,86.2 174,87.3 176.4,88.4 178.7,89.5 181.1,90.6 183.5,91.5 185.8,92.4 188.2,93.3 190.6,94.2 192.9,95 195.3,95.9 197.7,96.7 200,97.5 202.4,98.3 204.8,99.1 207.1,100 209.5,100.8 211.9,101.7 214.2,102.6 216.6,103.5 219,104.5 221.3,105.4 223.7,106.5 226.1,107.7 228.4,108.8 230.8,109.9 233.2,111 235.5,112 237.9,113 240.3,114 242.6,114.8 245,115.6 247.4,116.3 249.7,117.1 252.1,117.9 254.5,118.7 256.8,119.4 259.2,120.2 261.6,121 263.9,121.5 266.3,122.1 268.7,122.8 271,123.5 273.4,124.4 275.8,125.2 278.1,126.1 280.5,126.9 282.9,128.2 285.2,129.6 287.6,131 290,132.4 292.3,133.9 294.7,135.4 297.1,137 299.4,138.5"/>
<polyline class="mo" points="342,145.5 344.4,145.5 346.8,145.4 349.1,145.3 351.5,145.2 353.9,144.8 356.2,144.5 358.6,144.1 361,143.8 363.3,143.2 365.7,142.5 368.1,141.7 370.4,140.7 372.8,139.7 375.2,139.2 377.5,138.7 379.9,138.2 382.3,137.7 384.6,137.3 387,136.9 389.4,136.4 391.7,136 394.1,135.6 396.5,135.2 398.8,134.8 401.2,134.4 403.6,134 405.9,133.7 408.3,133.4 410.7,133 413,132.7 415.4,132.4 417.8,132.1 420.1,131.8 422.5,131.4 424.9,130.9 427.2,130.4 429.6,129.9 432,129.4 434.3,128.9 436.7,128.4 439.1,127.9 441.4,127.4 443.8,127.1 446.2,126.7 448.5,126.4 450.9,126.1 453.3,125.8 455.6,125.5 458,125.2 460.4,124.8 462.7,124.6 465.1,124.4 467.5,124.2 469.8,124 472.2,123.8 474.6,123.6 476.9,123.4 479.3,123.2 481.7,123.1 484,122.9 486.4,122.8 488.8,122.6 491.1,122.5"/>
<polyline class="mo" points="135.5,68.6 137.9,70 140.3,71.3 142.6,72.7 145,74.1 147.4,75.4 149.7,76.8 152.1,78.2 154.5,79.6 156.8,81 159.2,82.4 161.6,83.8 163.9,85 166.3,86.2 168.7,87.4 171,88.6 173.4,89.8 175.8,90.9 178.1,92 180.5,93.1 182.9,94 185.2,94.9 187.6,95.8 190,96.7 192.3,97.5 194.7,98.4 197.1,99.2 199.4,100 201.8,100.8 204.2,101.7 206.5,102.5 208.9,103.4 211.3,104.2 213.6,105.2 216,106.1 218.4,107 220.7,108 223.1,109.1 225.5,110.2 227.8,111.4 230.2,112.5 232.6,113.5 234.9,114.6 237.3,115.6 239.7,116.5 242,117.4 244.4,118.2 246.8,119 249.1,119.7 251.5,120.5 253.9,121.3 256.2,122.1 258.6,122.8 261,123.6 263.3,124.2 265.7,124.8 268.1,125.5 270.4,126.2 272.8,127 275.2,127.9 277.5,128.8 279.9,129.6 282.3,130.9 284.6,132.3 287,133.7 289.4,135.1 291.7,136.6 294.1,138.1 296.5,139.7 298.8,141.2"/>
<polyline class="mo" points="339.1,148.3 341.4,148.3 343.8,148.2 346.2,148.1 348.5,148 350.9,147.9 353.3,147.5 355.6,147.2 358,146.9 360.4,146.5 362.7,145.9 365.1,145.2 367.5,144.4 369.8,143.5 372.2,142.5 374.6,141.9 376.9,141.4 379.3,140.9 381.7,140.5 384,140.1 386.4,139.7 388.8,139.2 391.1,138.8 393.5,138.4 395.9,138 398.2,137.6 400.6,137.2 403,136.9 405.3,136.5 407.7,136.2 410.1,135.9 412.4,135.5 414.8,135.2 417.2,134.9 419.5,134.7 421.9,134.2 424.3,133.7 426.6,133.2 429,132.7 431.4,132.2 433.7,131.7 436.1,131.2 438.5,130.7 440.8,130.2 443.2,129.9 445.6,129.6 447.9,129.3 450.3,129 452.7,128.7 455,128.3 457.4,128 459.8,127.7 462.1,127.5 464.5,127.3 466.9,127.1 469.2,126.9 471.6,126.7 474,126.5 476.3,126.3 478.7,126.1 481.1,126 483.4,125.8 485.8,125.7 488.2,125.5 490.5,125.4"/>
<polyline class="mb" points="298.7,141.9 302.2,143.8 305.8,145.4 309.3,147 312.9,148 316.4,148.7 320,149.3 323.5,149.3 327.1,149.3 330.6,149.2 334.2,149.1 337.7,149"/>
<polyline class="mo" points="134.9,71 137.3,72.4 139.7,73.8 142,75.1 144.4,76.5 146.8,77.9 149.1,79.3 151.5,80.7 153.9,82.1 156.2,83.5 158.6,84.9 161,86.2 163.3,87.4 165.7,88.7 168.1,89.9 170.4,91.1 172.8,92.2 175.2,93.3 177.5,94.4 179.9,95.6 182.3,96.5 184.6,97.4 187,98.3 189.4,99.2 191.7,100 194.1,100.8 196.5,101.7 198.8,102.5 201.2,103.3 203.6,104.2 205.9,105 208.3,105.9 210.7,106.8 213,107.7 215.4,108.6 217.8,109.6 220.1,110.5 222.5,111.7 224.9,112.8 227.2,113.9 229.6,115.1 232,116.1 234.3,117.2 236.7,118.2 239.1,119.1 241.4,120 243.8,120.8 246.2,121.5 248.5,122.3 250.9,123.1 253.3,123.9 255.6,124.7 258,125.4 260.4,126.2 262.7,126.8 265.1,127.4 267.5,128.1 269.8,128.8 272.2,129.7 274.6,130.6 276.9,131.4 279.3,132.3 281.7,133.6 284,135 286.4,136.4 288.8,137.8 291.1,139.3 293.5,140.8 295.9,142.3"/>
<polyline class="mo" points="336.1,151.1 338.5,151 340.8,151 343.2,150.9 345.6,150.8 347.9,150.7 350.3,150.6 352.7,150.2 355,149.9 357.4,149.6 359.8,149.2 362.1,148.6 364.5,147.9 366.9,147.2 369.2,146.2 371.6,145.3 374,144.7 376.3,144.2 378.7,143.7 381.1,143.2 383.4,142.8 385.8,142.4 388.2,142 390.5,141.6 392.9,141.2 395.3,140.8 397.6,140.4 400,140 402.4,139.7 404.7,139.3 407.1,139 409.5,138.7 411.8,138.3 414.2,138 416.6,137.8 418.9,137.5 421.3,137 423.7,136.5 426,136 428.4,135.5 430.8,135.1 433.1,134.6 435.5,134.1 437.9,133.6 440.2,133.1 442.6,132.8 445,132.5 447.3,132.1 449.7,131.8 452.1,131.5 454.4,131.2 456.8,130.9 459.2,130.6 461.5,130.3 463.9,130.1 466.3,129.9 468.6,129.7 471,129.6 473.4,129.4 475.7,129.2 478.1,129 480.5,128.8 482.8,128.7 485.2,128.6 487.6,128.4 489.9,128.3"/>
<polyline class="mb" points="297.9,145.2 301.5,147.1 305,148.7 308.6,150.3 312.1,151.3 315.7,152 319.2,152.6 322.8,152.6 326.3,152.6 329.9,152.6 333.4,152.5"/>
<polyline class="mo" points="134.3,73.5 136.7,74.8 139.1,76.2 141.4,77.6 143.8,79 146.2,80.3 148.5,81.7 150.9,83.1 153.3,84.5 155.6,85.9 158,87.3 160.4,88.6 162.7,89.9 165.1,91.1 167.5,92.3 169.8,93.5 172.2,94.6 174.6,95.8 176.9,96.9 179.3,98 181.7,98.9 184,99.8 186.4,100.7 188.8,101.6 191.1,102.5 193.5,103.3 195.9,104.2 198.2,105 200.6,105.8 203,106.7 205.3,107.5 207.7,108.4 210.1,109.3 212.4,110.2 214.8,111.2 217.2,112.1 219.5,113.1 221.9,114.2 224.3,115.3 226.6,116.5 229,117.6 231.4,118.7 233.7,119.7 236.1,120.7 238.5,121.7 240.8,122.6 243.2,123.3 245.6,124.1 247.9,124.9 250.3,125.7 252.7,126.5 255,127.3 257.4,128 259.8,128.8 262.1,129.4 264.5,130 266.9,130.7 269.2,131.5 271.6,132.3 274,133.2 276.3,134.1 278.7,135 281.1,136.3 283.4,137.7 285.8,139.1 288.2,140.5 290.5,141.9 292.9,143.5"/>
<polyline class="mo" points="335.5,153.7 337.9,153.7 340.2,153.6 342.6,153.6 345,153.5 347.3,153.4 349.7,153.2 352.1,152.9 354.4,152.6 356.8,152.2 359.2,151.9 361.5,151.3 363.9,150.6 366.3,149.9 368.6,148.9 371,148 373.4,147.4 375.7,146.9 378.1,146.4 380.5,146 382.8,145.6 385.2,145.2 387.6,144.8 389.9,144.4 392.3,144 394.7,143.6 397,143.2 399.4,142.8 401.8,142.4 404.1,142.1 406.5,141.8 408.9,141.4 411.2,141.1 413.6,140.8 416,140.5 418.3,140.2 420.7,139.8 423.1,139.3 425.4,138.8 427.8,138.3 430.2,137.9 432.5,137.4 434.9,136.9 437.3,136.4 439.6,135.9 442,135.6 444.4,135.3 446.7,135 449.1,134.6 451.5,134.3 453.8,134 456.2,133.7 458.6,133.4 460.9,133.1 463.3,132.9 465.7,132.8 468,132.6 470.4,132.4 472.8,132.2 475.1,132 477.5,131.9 479.9,131.7 482.2,131.5 484.6,131.4 487,131.3 489.3,131.1"/>
<polyline class="mb" points="293.7,146.2 297.2,148.5 300.8,150.4 304.3,152 307.9,153.6 311.4,154.5 315,155.3 318.5,155.9 322.1,156 325.6,155.9 329.2,155.9"/>
<polyline class="mo" points="133.8,75.9 136.1,77.2 138.5,78.6 140.9,80 143.2,81.4 145.6,82.8 148,84.1 150.3,85.5 152.7,86.9 155.1,88.3 157.4,89.7 159.8,91.1 162.2,92.3 164.5,93.5 166.9,94.7 169.3,96 171.6,97.1 174,98.2 176.4,99.3 178.7,100.4 181.1,101.4 183.5,102.3 185.8,103.2 188.2,104.1 190.6,104.9 192.9,105.8 195.3,106.6 197.7,107.5 200,108.3 202.4,109.2 204.8,110 207.1,110.9 209.5,111.8 211.9,112.7 214.2,113.7 216.6,114.7 219,115.6 221.3,116.8 223.7,117.9 226.1,119 228.4,120.2 230.8,121.2 233.2,122.3 235.5,123.3 237.9,124.3 240.3,125.1 242.6,125.9 245,126.7 247.4,127.5 249.7,128.3 252.1,129 254.5,129.8 256.8,130.6 259.2,131.4 261.6,132 263.9,132.6 266.3,133.4 268.7,134.1 271,135 273.4,135.9 275.8,136.8 278.1,137.6 280.5,138.9 282.9,140.3 285.2,141.7 287.6,143.2"/>
<polyline class="mo" points="332.6,156.4 334.9,156.4 337.3,156.3 339.7,156.3 342,156.3 344.4,156.2 346.8,156 349.1,155.9 351.5,155.6 353.9,155.2 356.2,154.9 358.6,154.6 361,153.9 363.3,153.3 365.7,152.6 368.1,151.6 370.4,150.7 372.8,150.1 375.2,149.7 377.5,149.2 379.9,148.7 382.3,148.3 384.6,147.9 387,147.5 389.4,147.1 391.7,146.7 394.1,146.3 396.5,145.9 398.8,145.5 401.2,145.2 403.6,144.8 405.9,144.5 408.3,144.2 410.7,143.9 413,143.6 415.4,143.3 417.8,143 420.1,142.6 422.5,142.1 424.9,141.6 427.2,141.1 429.6,140.6 432,140.1 434.3,139.7 436.7,139.2 439.1,138.7 441.4,138.4 443.8,138.1 446.2,137.8 448.5,137.4 450.9,137.1 453.3,136.8 455.6,136.5 458,136.2 460.4,135.9 462.7,135.7 465.1,135.6 467.5,135.4 469.8,135.2 472.2,135 474.6,134.9 476.9,134.7 479.3,134.5 481.7,134.4 484,134.2 486.4,134.1 488.8,134"/>
<polyline class="mb" points="289.4,147.2 292.9,149.5 296.5,151.7 300,153.6 303.6,155.3 307.1,156.8 310.7,157.8 314.2,158.5 317.8,159.2 321.3,159.2 324.9,159.2"/>
<polyline class="mo" points="133.2,78.3 135.5,79.7 137.9,81 140.3,82.4 142.6,83.8 145,85.2 147.4,86.6 149.7,88 152.1,89.4 154.5,90.8 156.8,92.2 159.2,93.5 161.6,94.7 163.9,95.9 166.3,97.2 168.7,98.4 171,99.5 173.4,100.6 175.8,101.7 178.1,102.9 180.5,103.8 182.9,104.7 185.2,105.6 187.6,106.5 190,107.4 192.3,108.2 194.7,109.1 197.1,109.9 199.4,110.8 201.8,111.7 204.2,112.5 206.5,113.4 208.9,114.3 211.3,115.2 213.6,116.2 216,117.2 218.4,118.1 220.7,119.3 223.1,120.4 225.5,121.5 227.8,122.7 230.2,123.8 232.6,124.8 234.9,125.8 237.3,126.8 239.7,127.7 242,128.4 244.4,129.2 246.8,130 249.1,130.8 251.5,131.6 253.9,132.4 256.2,133.2 258.6,133.9 261,134.6 263.3,135.2 265.7,135.9 268.1,136.7 270.4,137.6 272.8,138.5 275.2,139.4 277.5,140.3 279.9,141.6 282.3,143 284.6,144.4 287,145.8"/>
<polyline class="mo" points="329.6,159.1 332,159.1 334.3,159 336.7,159 339.1,158.9 341.4,158.9 343.8,158.8 346.2,158.7 348.5,158.5 350.9,158.2 353.3,157.9 355.6,157.5 358,157.2 360.4,156.6 362.7,156 365.1,155.2 367.5,154.3 369.8,153.4 372.2,152.8 374.6,152.4 376.9,151.9 379.3,151.4 381.7,151 384,150.6 386.4,150.2 388.8,149.8 391.1,149.4 393.5,149 395.9,148.6 398.2,148.2 400.6,147.9 403,147.6 405.3,147.2 407.7,146.9 410.1,146.6 412.4,146.3 414.8,146 417.2,145.7 419.5,145.3 421.9,144.8 424.3,144.4 426.6,143.9 429,143.4 431.4,142.9 433.7,142.4 436.1,141.9 438.5,141.5 440.8,141.2 443.2,140.9 445.6,140.5 447.9,140.2 450.3,139.9 452.7,139.6 455,139.3 457.4,139 459.8,138.7 462.1,138.5 464.5,138.3 466.9,138.2 469.2,138 471.6,137.8 474,137.6 476.3,137.5 478.7,137.3 481.1,137.2 483.4,137 485.8,136.9 488.2,136.8"/>
<polyline class="mo" points="132.6,80.7 134.9,82.1 137.3,83.4 139.7,84.8 142,86.2 144.4,87.6 146.8,89 149.1,90.4 151.5,91.8 153.9,93.2 156.2,94.6 158.6,95.9 161,97.1 163.3,98.3 165.7,99.6 168.1,100.8 170.4,101.9 172.8,103 175.2,104.1 177.5,105.3 179.9,106.2 182.3,107.1 184.6,108 187,109 189.4,109.8 191.7,110.7 194.1,111.5 196.5,112.4 198.8,113.2 201.2,114.1 203.6,115 205.9,115.9 208.3,116.8 210.7,117.7 213,118.7 215.4,119.7 217.8,120.6 220.1,121.8 222.5,122.9 224.9,124.1 227.2,125.2 229.6,126.3 232,127.3 234.3,128.4 236.7,129.3 239.1,130.2 241.4,131 243.8,131.8 246.2,132.6 248.5,133.4 250.9,134.1 253.3,134.9 255.6,135.7 258,136.5 260.4,137.1 262.7,137.8 265.1,138.5 267.5,139.3 269.8,140.2 272.2,141.1 274.6,142 276.9,142.9 279.3,144.2 281.7,145.6 284,147"/>
<polyline class="mo" points="326.6,161.8 329,161.7 331.4,161.7 333.7,161.6 336.1,161.6 338.5,161.5 340.8,161.5 343.2,161.4 345.6,161.3 347.9,161.1 350.3,160.8 352.7,160.5 355,160.2 357.4,159.8 359.8,159.2 362.1,158.6 364.5,157.9 366.9,157 369.2,156.1 371.6,155.5 374,155 376.3,154.6 378.7,154.1 381.1,153.7 383.4,153.3 385.8,152.9 388.2,152.5 390.5,152.1 392.9,151.7 395.3,151.3 397.6,150.9 400,150.6 402.4,150.3 404.7,150 407.1,149.6 409.5,149.3 411.8,149 414.2,148.7 416.6,148.4 418.9,148 421.3,147.6 423.7,147.1 426,146.6 428.4,146.1 430.8,145.6 433.1,145.2 435.5,144.7 437.9,144.2 440.2,143.9 442.6,143.6 445,143.3 447.3,143 449.7,142.7 452.1,142.4 454.4,142 456.8,141.7 459.2,141.5 461.5,141.3 463.9,141.1 466.3,140.9 468.6,140.8 471,140.6 473.4,140.4 475.7,140.2 478.1,140.1 480.5,139.9 482.8,139.8 485.2,139.7 487.6,139.5"/>
<polyline class="mb" points="285.1,148.4 288.6,150.5 292.2,152.7 295.7,155 299.3,156.9 302.8,158.5 306.4,160 309.9,161 313.5,161.8 317,162.4 320.6,162.5 324.1,162.4"/>
<polyline class="mo" points="132,83.1 134.3,84.4 136.7,85.8 139.1,87.2 141.4,88.6 143.8,90 146.2,91.4 148.5,92.8 150.9,94.2 153.3,95.6 155.6,97 158,98.3 160.4,99.5 162.7,100.7 165.1,102 167.5,103.2 169.8,104.3 172.2,105.4 174.6,106.5 176.9,107.7 179.3,108.6 181.7,109.5 184,110.4 186.4,111.4 188.8,112.2 191.1,113.1 193.5,114 195.9,114.8 198.2,115.7 200.6,116.6 203,117.5 205.3,118.3 207.7,119.2 210.1,120.2 212.4,121.2 214.8,122.2 217.2,123.1 219.5,124.3 221.9,125.4 224.3,126.6 226.6,127.7 229,128.8 231.4,129.8 233.7,130.9 236.1,131.8 238.5,132.7 240.8,133.5 243.2,134.3 245.6,135.1 247.9,135.9 250.3,136.7 252.7,137.5 255,138.3 257.4,139 259.8,139.7 262.1,140.3 264.5,141.1 266.9,141.9 269.2,142.8 271.6,143.7 274,144.6 276.3,145.5 278.7,146.8 281.1,148.2"/>
<polyline class="mo" points="323.7,164.4 326,164.4 328.4,164.3 330.8,164.3 333.1,164.2 335.5,164.2 337.9,164.1 340.2,164.1 342.6,164 345,163.9 347.3,163.7 349.7,163.4 352.1,163.1 354.4,162.8 356.8,162.4 359.2,161.8 361.5,161.2 363.9,160.5 366.3,159.6 368.6,158.7 371,158.2 373.4,157.7 375.7,157.2 378.1,156.8 380.5,156.4 382.8,156 385.2,155.6 387.6,155.2 389.9,154.8 392.3,154.4 394.7,154 397,153.6 399.4,153.3 401.8,153 404.1,152.6 406.5,152.3 408.9,152 411.2,151.7 413.6,151.4 416,151.1 418.3,150.7 420.7,150.3 423.1,149.8 425.4,149.3 427.8,148.8 430.2,148.4 432.5,147.9 434.9,147.4 437.3,147 439.6,146.6 442,146.3 444.4,146 446.7,145.7 449.1,145.4 451.5,145.1 453.8,144.8 456.2,144.5 458.6,144.2 460.9,144 463.3,143.8 465.7,143.7 468,143.5 470.4,143.3 472.8,143.1 475.1,143 477.5,142.8 479.9,142.7 482.2,142.5 484.6,142.4 487,142.3"/>
<polyline class="mb" points="280.8,149.5 284.3,151.6 287.9,153.7 291.4,155.9 295,158.2 298.5,160.1 302.1,161.7 305.6,163.2 309.2,164.2 312.7,165 316.3,165.7 319.8,165.7"/>
<polyline class="mo" points="131.4,85.4 133.8,86.8 136.1,88.2 138.5,89.6 140.9,91 143.2,92.4 145.6,93.7 148,95.2 150.3,96.5 152.7,97.9 155.1,99.3 157.4,100.7 159.8,101.9 162.2,103.1 164.5,104.3 166.9,105.6 169.3,106.7 171.6,107.8 174,108.9 176.4,110.1 178.7,111 181.1,111.9 183.5,112.8 185.8,113.8 188.2,114.6 190.6,115.5 192.9,116.4 195.3,117.2 197.7,118.1 200,119 202.4,119.9 204.8,120.8 207.1,121.7 209.5,122.7 211.9,123.7 214.2,124.6 216.6,125.6 219,126.8 221.3,127.9 223.7,129 226.1,130.2 228.4,131.3 230.8,132.3 233.2,133.4 235.5,134.3 237.9,135.2 240.3,136 242.6,136.8 245,137.6 247.4,138.4 249.7,139.2 252.1,140 254.5,140.8 256.8,141.6 259.2,142.2 261.6,142.9 263.9,143.6 266.3,144.4 268.7,145.3 271,146.3 273.4,147.2 275.8,148.1 278.1,149.4"/>
<polyline class="mo" points="320.7,167 323.1,167 325.5,166.9 327.8,166.9 330.2,166.9 332.6,166.8 334.9,166.8 337.3,166.7 339.7,166.7 342,166.6 344.4,166.5 346.8,166.3 349.1,166 351.5,165.7 353.9,165.3 356.2,165 358.6,164.4 361,163.8 363.3,163.1 365.7,162.2 368.1,161.3 370.4,160.8 372.8,160.3 375.2,159.9 377.5,159.4 379.9,159 382.3,158.6 384.6,158.2 387,157.9 389.4,157.5 391.7,157.1 394.1,156.7 396.5,156.3 398.8,156 401.2,155.6 403.6,155.3 405.9,155 408.3,154.7 410.7,154.4 413,154.1 415.4,153.8 417.8,153.4 420.1,152.9 422.5,152.5 424.9,152 427.2,151.5 429.6,151 432,150.6 434.3,150.1 436.7,149.7 439.1,149.3 441.4,149 443.8,148.7 446.2,148.4 448.5,148.1 450.9,147.8 453.3,147.5 455.6,147.2 458,146.9 460.4,146.7 462.7,146.6 465.1,146.4 467.5,146.2 469.8,146 472.2,145.9 474.6,145.7 476.9,145.5 479.3,145.4 481.7,145.3 484,145.1 486.4,145"/>
<polyline class="mb" points="280,152.7 283.6,154.8 287.1,156.9 290.7,159.1 294.2,161.3 297.8,163.2 301.3,164.8 304.9,166.4 308.4,167.4 312,168.1 315.5,168.8"/>
<polyline class="mo" points="130.8,87.8 133.2,89.2 135.5,90.6 137.9,92 140.3,93.4 142.6,94.7 145,96.1 147.4,97.5 149.7,98.9 152.1,100.3 154.5,101.7 156.8,103 159.2,104.3 161.6,105.5 163.9,106.7 166.3,107.9 168.7,109.1 171,110.2 173.4,111.3 175.8,112.4 178.1,113.4 180.5,114.3 182.9,115.2 185.2,116.2 187.6,117 190,117.9 192.3,118.8 194.7,119.6 197.1,120.5 199.4,121.4 201.8,122.3 204.2,123.2 206.5,124.1 208.9,125.1 211.3,126.1 213.6,127.1 216,128.1 218.4,129.2 220.7,130.4 223.1,131.5 225.5,132.7 227.8,133.8 230.2,134.8 232.6,135.9 234.9,136.8 237.3,137.7 239.7,138.5 242,139.3 244.4,140.1 246.8,140.9 249.1,141.7 251.5,142.5 253.9,143.3 256.2,144.1 258.6,144.7 261,145.4 263.3,146.2 265.7,147 268.1,147.9 270.4,148.8 272.8,149.8 275.2,150.7"/>
<polyline class="mo" points="317.8,169.5 320.1,169.5 322.5,169.5 324.9,169.5 327.2,169.5 329.6,169.4 332,169.4 334.3,169.3 336.7,169.3 339.1,169.3 341.4,169.2 343.8,169 346.2,168.9 348.5,168.6 350.9,168.2 353.3,167.9 355.6,167.6 358,167 360.4,166.4 362.7,165.7 365.1,164.8 367.5,163.9 369.8,163.4 372.2,162.9 374.6,162.5 376.9,162 379.3,161.7 381.7,161.3 384,160.9 386.4,160.5 388.8,160.1 391.1,159.7 393.5,159.3 395.9,158.9 398.2,158.6 400.6,158.3 403,158 405.3,157.6 407.7,157.3 410.1,157 412.4,156.7 414.8,156.5 417.2,156.1 419.5,155.6 421.9,155.1 424.3,154.7 426.6,154.2 429,153.7 431.4,153.2 433.7,152.8 436.1,152.3 438.5,152 440.8,151.7 443.2,151.4 445.6,151.1 447.9,150.8 450.3,150.5 452.7,150.2 455,149.9 457.4,149.6 459.8,149.4 462.1,149.2 464.5,149.1 466.9,148.9 469.2,148.7 471.6,148.6 474,148.4 476.3,148.2 478.7,148.1 481.1,148 483.4,147.8 485.8,147.7"/>
<polyline class="mb" points="275.8,153.8 279.3,155.9 282.9,158 286.4,160.1 290,162.3 293.5,164.5 297.1,166.4 300.6,168 304.2,169.5 307.7,170.5 311.3,171.3"/>
<polyline class="mo" points="130.2,90.2 132.6,91.6 134.9,92.9 137.3,94.3 139.7,95.7 142,97.1 144.4,98.5 146.8,99.9 149.1,101.3 151.5,102.7 153.9,104.1 156.2,105.4 158.6,106.6 161,107.8 163.3,109.1 165.7,110.3 168.1,111.4 170.4,112.5 172.8,113.7 175.2,114.8 177.5,115.7 179.9,116.7 182.3,117.6 184.6,118.5 187,119.4 189.4,120.3 191.7,121.2 194.1,122 196.5,122.9 198.8,123.8 201.2,124.7 203.6,125.7 205.9,126.6 208.3,127.6 210.7,128.6 213,129.5 215.4,130.5 217.8,131.7 220.1,132.8 222.5,134 224.9,135.1 227.2,136.2 229.6,137.3 232,138.3 234.3,139.3 236.7,140.2 239.1,141 241.4,141.8 243.8,142.6 246.2,143.4 248.5,144.2 250.9,145 253.3,145.8 255.6,146.6 258,147.2 260.4,147.9 262.7,148.7 265.1,149.5 267.5,150.4 269.8,151.4 272.2,152.3"/>
<polyline class="mo" points="314.8,172 317.2,172.1 319.5,172 321.9,172 324.3,172 326.6,172 329,172 331.4,171.9 333.7,171.9 336.1,171.8 338.5,171.8 340.8,171.7 343.2,171.6 345.6,171.4 347.9,171.1 350.3,170.8 352.7,170.4 355,170.1 357.4,169.5 359.8,168.9 362.1,168.2 364.5,167.4 366.9,166.5 369.2,166 371.6,165.5 374,165.1 376.3,164.7 378.7,164.3 381.1,163.9 383.4,163.5 385.8,163.1 388.2,162.7 390.5,162.3 392.9,161.9 395.3,161.6 397.6,161.2 400,160.9 402.4,160.6 404.7,160.3 407.1,160 409.5,159.7 411.8,159.4 414.2,159.1 416.6,158.7 418.9,158.2 421.3,157.8 423.7,157.3 426,156.8 428.4,156.4 430.8,155.9 433.1,155.4 435.5,155 437.9,154.7 440.2,154.4 442.6,154.1 445,153.8 447.3,153.4 449.7,153.1 452.1,152.8 454.4,152.5 456.8,152.3 459.2,152.1 461.5,151.9 463.9,151.7 466.3,151.6 468.6,151.4 471,151.2 473.4,151.1 475.7,150.9 478.1,150.8 480.5,150.6 482.8,150.5 485.2,150.4"/>
<polyline class="mo" points="129.6,92.5 132,93.9 134.3,95.3 136.7,96.7 139.1,98.1 141.4,99.5 143.8,100.8 146.2,102.2 148.5,103.6 150.9,105 153.3,106.4 155.6,107.7 158,109 160.4,110.2 162.7,111.4 165.1,112.6 167.5,113.8 169.8,114.9 172.2,116 174.6,117.1 176.9,118.1 179.3,119 181.7,120 184,120.9 186.4,121.8 188.8,122.7 191.1,123.6 193.5,124.4 195.9,125.3 198.2,126.2 200.6,127.2 203,128.1 205.3,129 207.7,130 210.1,131 212.4,132 214.8,133 217.2,134.1 219.5,135.3 221.9,136.4 224.3,137.6 226.6,138.7 229,139.8 231.4,140.8 233.7,141.7 236.1,142.6 238.5,143.4 240.8,144.2 243.2,145 245.6,145.8 247.9,146.6 250.3,147.5 252.7,148.3 255,149 257.4,149.7 259.8,150.4 262.1,151.2 264.5,152 266.9,153 269.2,153.9"/>
<polyline class="mo" points="314.2,174.5 316.6,174.6 318.9,174.6 321.3,174.5 323.7,174.5 326,174.5 328.4,174.5 330.8,174.4 333.1,174.4 335.5,174.4 337.9,174.4 340.2,174.3 342.6,174.1 345,173.9 347.3,173.6 349.7,173.3 352.1,173 354.4,172.6 356.8,172.1 359.2,171.5 361.5,170.8 363.9,169.9 366.3,169.1 368.6,168.6 371,168.1 373.4,167.7 375.7,167.2 378.1,166.9 380.5,166.5 382.8,166.1 385.2,165.7 387.6,165.3 389.9,164.9 392.3,164.5 394.7,164.2 397,163.8 399.4,163.5 401.8,163.2 404.1,162.9 406.5,162.6 408.9,162.3 411.2,162 413.6,161.7 416,161.3 418.3,160.8 420.7,160.4 423.1,159.9 425.4,159.4 427.8,159 430.2,158.5 432.5,158.1 434.9,157.6 437.3,157.3 439.6,157 442,156.7 444.4,156.4 446.7,156.1 449.1,155.8 451.5,155.5 453.8,155.2 456.2,154.9 458.6,154.7 460.9,154.5 463.3,154.4 465.7,154.2 468,154 470.4,153.9 472.8,153.7 475.1,153.5 477.5,153.4 479.9,153.3 482.2,153.1 484.6,153"/>
<polyline class="mb" points="271.5,155.5 275,157 278.6,159.1 282.1,161.2 285.7,163.3 289.2,165.5 292.8,167.6 296.3,169.5 299.9,171.1 303.4,172.6 307,173.6 310.5,174.4"/>
<polyline class="mo" points="129,94.9 131.4,96.2 133.7,97.6 136.1,99 138.5,100.4 140.8,101.8 143.2,103.2 145.6,104.6 147.9,106 150.3,107.4 152.7,108.7 155,110.1 157.4,111.3 159.8,112.5 162.1,113.8 164.5,115 166.9,116.1 169.2,117.2 171.6,118.4 174,119.5 176.3,120.4 178.7,121.4 181.1,122.3 183.4,123.3 185.8,124.2 188.2,125 190.5,125.9 192.9,126.8 195.3,127.7 197.6,128.6 200,129.5 202.4,130.5 204.7,131.4 207.1,132.4 209.5,133.4 211.8,134.4 214.2,135.4 216.6,136.5 218.9,137.7 221.3,138.9 223.7,140 226,141.1 228.4,142.2 230.8,143.2 233.1,144.2 235.5,145.1 237.9,145.9 240.2,146.7 242.6,147.5 245,148.3 247.3,149.1 249.7,149.9 252.1,150.7 254.4,151.5 256.8,152.2 259.2,152.9 261.5,153.7 263.9,154.5 266.3,155.5"/>
<polyline class="mo" points="311.2,176.5 313.6,177 316,177.1 318.3,177 320.7,177 323.1,177 325.4,177 327.8,177 330.2,176.9 332.5,176.9 334.9,176.9 337.3,176.9 339.6,176.8 342,176.6 344.4,176.5 346.7,176.1 349.1,175.8 351.5,175.5 353.8,175.2 356.2,174.6 358.6,174 360.9,173.3 363.3,172.5 365.7,171.7 368,171.1 370.4,170.7 372.8,170.2 375.1,169.8 377.5,169.4 379.9,169 382.2,168.6 384.6,168.3 387,167.9 389.3,167.5 391.7,167.1 394.1,166.7 396.4,166.4 398.8,166.1 401.2,165.8 403.5,165.4 405.9,165.1 408.3,164.8 410.6,164.6 413,164.3 415.4,163.9 417.7,163.4 420.1,163 422.5,162.5 424.8,162 427.2,161.6 429.6,161.1 431.9,160.7 434.3,160.2 436.7,159.9 439,159.6 441.4,159.3 443.8,159 446.1,158.7 448.5,158.4 450.9,158.1 453.2,157.8 455.6,157.5 458,157.3 460.3,157.1 462.7,157 465.1,156.8 467.4,156.6 469.8,156.5 472.2,156.3 474.5,156.2 476.9,156 479.3,155.9 481.6,155.8 484,155.6"/>
<polyline class="mb" points="267.2,157.2 270.7,158.6 274.3,160.2 277.8,162.3 281.4,164.4 284.9,166.4 288.5,168.6 292,170.7 295.6,172.6 299.1,174.2 302.7,175.7 306.2,176.7"/>
<polyline class="mo" points="128.4,97.2 130.8,98.6 133.2,100 135.5,101.4 137.9,102.7 140.3,104.1 142.6,105.5 145,106.9 147.4,108.3 149.7,109.7 152.1,111.1 154.5,112.4 156.8,113.6 159.2,114.9 161.6,116.1 163.9,117.3 166.3,118.4 168.7,119.6 171,120.7 173.4,121.8 175.8,122.8 178.1,123.7 180.5,124.7 182.9,125.6 185.2,126.5 187.6,127.4 190,128.3 192.3,129.2 194.7,130.1 197.1,131 199.4,131.9 201.8,132.9 204.2,133.8 206.5,134.8 208.9,135.8 211.3,136.8 213.6,137.8 216,139 218.4,140.1 220.7,141.3 223.1,142.4 225.5,143.5 227.8,144.6 230.2,145.7 232.6,146.6 234.9,147.5 237.3,148.3 239.7,149.1 242,149.9 244.4,150.7 246.8,151.5 249.1,152.4 251.5,153.2 253.9,154 256.2,154.6 258.6,155.3 261,156.2 263.3,157 265.7,158"/>
<polyline class="mo" points="308.3,178.5 310.7,179 313,179.5 315.4,179.5 317.8,179.5 320.1,179.5 322.5,179.5 324.9,179.5 327.2,179.5 329.6,179.4 332,179.4 334.3,179.4 336.7,179.4 339.1,179.3 341.4,179.1 343.8,178.9 346.2,178.6 348.5,178.3 350.9,178 353.3,177.6 355.6,177.1 358,176.5 360.4,175.8 362.7,175 365.1,174.2 367.5,173.7 369.8,173.2 372.2,172.8 374.6,172.3 376.9,172 379.3,171.6 381.7,171.2 384,170.8 386.4,170.4 388.8,170.1 391.1,169.7 393.5,169.3 395.9,169 398.2,168.6 400.6,168.3 403,168 405.3,167.7 407.7,167.4 410.1,167.1 412.4,166.8 414.8,166.4 417.2,166 419.5,165.5 421.9,165.1 424.3,164.6 426.6,164.2 429,163.7 431.4,163.3 433.7,162.8 436.1,162.5 438.5,162.2 440.8,161.9 443.2,161.6 445.6,161.3 447.9,161 450.3,160.7 452.7,160.4 455,160.1 457.4,159.9 459.8,159.7 462.1,159.6 464.5,159.4 466.9,159.2 469.2,159.1 471.6,158.9 474,158.7 476.3,158.6 478.7,158.5 481.1,158.4 483.4,158.2"/>
<polyline class="mb" points="266.4,160.3 270,161.8 273.5,163.3 277.1,165.4 280.6,167.5 284.2,169.6 287.7,171.7 291.3,173.8 294.8,175.7 298.4,177.2 301.9,178.7"/>
<polyline class="mo" points="127.8,99.5 130.2,100.9 132.6,102.3 134.9,103.7 137.3,105.1 139.7,106.5 142,107.9 144.4,109.3 146.8,110.6 149.1,112 151.5,113.4 153.9,114.7 156.2,115.9 158.6,117.2 161,118.4 163.3,119.6 165.7,120.7 168.1,121.9 170.4,123 172.8,124.1 175.2,125.1 177.5,126 179.9,127 182.3,127.9 184.6,128.8 187,129.7 189.4,130.6 191.7,131.5 194.1,132.4 196.5,133.4 198.8,134.3 201.2,135.2 203.6,136.2 205.9,137.2 208.3,138.2 210.7,139.2 213,140.2 215.4,141.4 217.8,142.5 220.1,143.7 222.5,144.8 224.9,145.9 227.2,147 229.6,148.1 232,149 234.3,149.9 236.7,150.7 239.1,151.5 241.4,152.3 243.8,153.2 246.2,154 248.5,154.8 250.9,155.6 253.3,156.4 255.6,157.1 258,157.8 260.4,158.6 262.7,159.5"/>
<polyline class="mo" points="305.3,180.4 307.7,180.9 310.1,181.5 312.4,181.9 314.8,182 317.2,182 319.5,182 321.9,182 324.3,182 326.6,181.9 329,181.9 331.4,181.9 333.7,181.8 336.1,181.8 338.5,181.7 340.8,181.6 343.2,181.4 345.6,181.1 347.9,180.8 350.3,180.4 352.7,180.1 355,179.6 357.4,179 359.8,178.3 362.1,177.5 364.5,176.7 366.9,176.2 369.2,175.7 371.6,175.3 374,174.9 376.3,174.5 378.7,174.1 381.1,173.7 383.4,173.3 385.8,173 388.2,172.6 390.5,172.2 392.9,171.8 395.3,171.5 397.6,171.2 400,170.9 402.4,170.5 404.7,170.2 407.1,169.9 409.5,169.6 411.8,169.4 414.2,169 416.6,168.5 418.9,168.1 421.3,167.6 423.7,167.2 426,166.7 428.4,166.3 430.8,165.8 433.1,165.4 435.5,165.1 437.9,164.8 440.2,164.5 442.6,164.2 445,163.8 447.3,163.5 449.7,163.2 452.1,162.9 454.4,162.7 456.8,162.5 459.2,162.3 461.5,162.1 463.9,162 466.3,161.8 468.6,161.6 471,161.5 473.4,161.3 475.7,161.2 478.1,161.1 480.5,160.9 482.8,160.8"/>
<polyline class="mb" points="262.1,161.9 265.7,163.4 269.2,164.9 272.8,166.4 276.3,168.5 279.9,170.6 283.4,172.6 287,174.8 290.5,176.9 294.1,178.7 297.6,180.3 301.2,181.8"/>
<polyline class="mo" points="127.2,101.8 129.6,103.2 132,104.6 134.3,106 136.7,107.4 139.1,108.8 141.4,110.2 143.8,111.6 146.2,112.9 148.5,114.3 150.9,115.7 153.3,117 155.6,118.2 158,119.5 160.4,120.7 162.7,121.9 165.1,123.1 167.5,124.2 169.8,125.3 172.2,126.4 174.6,127.4 176.9,128.3 179.3,129.3 181.7,130.3 184,131.2 186.4,132.1 188.8,133 191.1,133.9 193.5,134.8 195.9,135.7 198.2,136.7 200.6,137.6 203,138.5 205.3,139.6 207.7,140.6 210.1,141.6 212.4,142.6 214.8,143.7 217.2,144.9 219.5,146.1 221.9,147.2 224.3,148.3 226.6,149.4 229,150.5 231.4,151.4 233.7,152.3 236.1,153.1 238.5,153.9 240.8,154.7 243.2,155.6 245.6,156.4 247.9,157.2 250.3,158 252.7,158.8 255,159.5 257.4,160.2 259.8,161.1"/>
<polyline class="mo" points="302.4,182.3 304.7,182.8 307.1,183.4 309.5,183.9 311.8,184.4 314.2,184.4 316.6,184.4 318.9,184.4 321.3,184.4 323.7,184.4 326,184.4 328.4,184.3 330.8,184.3 333.1,184.3 335.5,184.3 337.9,184.2 340.2,184 342.6,183.8 345,183.5 347.3,183.2 349.7,182.9 352.1,182.6 354.4,182 356.8,181.4 359.2,180.8 361.5,180 363.9,179.2 366.3,178.7 368.6,178.2 371,177.8 373.4,177.4 375.7,177 378.1,176.6 380.5,176.2 382.8,175.9 385.2,175.5 387.6,175.1 389.9,174.7 392.3,174.3 394.7,174 397,173.7 399.4,173.4 401.8,173.1 404.1,172.8 406.5,172.5 408.9,172.2 411.2,171.9 413.6,171.5 416,171 418.3,170.6 420.7,170.1 423.1,169.7 425.4,169.3 427.8,168.8 430.2,168.4 432.5,167.9 434.9,167.6 437.3,167.3 439.6,167 442,166.7 444.4,166.4 446.7,166.1 449.1,165.8 451.5,165.5 453.8,165.2 456.2,165 458.6,164.8 460.9,164.7 463.3,164.5 465.7,164.3 468,164.2 470.4,164 472.8,163.9 475.1,163.7 477.5,163.6 479.9,163.5 482.2,163.3"/>
<polyline class="mo" points="126.6,104.1 129,105.5 131.4,106.9 133.7,108.3 136.1,109.7 138.5,111.1 140.8,112.5 143.2,113.9 145.6,115.2 147.9,116.6 150.3,118 152.7,119.3 155,120.5 157.4,121.8 159.8,123 162.1,124.2 164.5,125.3 166.9,126.5 169.2,127.6 171.6,128.7 174,129.7 176.3,130.6 178.7,131.6 181.1,132.6 183.4,133.5 185.8,134.4 188.2,135.3 190.5,136.2 192.9,137.1 195.3,138.1 197.6,139 200,139.9 202.4,140.9 204.7,141.9 207.1,142.9 209.5,143.9 211.8,145 214.2,146.1 216.6,147.3 218.9,148.4 221.3,149.6 223.7,150.7 226,151.8 228.4,152.9 230.8,153.8 233.1,154.7 235.5,155.5 237.9,156.3 240.2,157.1 242.6,158 245,158.8 247.3,159.6 249.7,160.4 252.1,161.2 254.4,161.9 256.8,162.6"/>
<polyline class="mo" points="299.4,183.7 301.8,184.7 304.1,185.2 306.5,185.8 308.9,186.3 311.2,186.8 313.6,186.8 316,186.8 318.3,186.8 320.7,186.8 323.1,186.8 325.4,186.8 327.8,186.8 330.2,186.8 332.5,186.7 334.9,186.7 337.3,186.6 339.6,186.5 342,186.3 344.4,186 346.7,185.6 349.1,185.3 351.5,185 353.8,184.4 356.2,183.9 358.6,183.2 360.9,182.4 363.3,181.7 365.7,181.2 368,180.7 370.4,180.3 372.8,179.9 375.1,179.5 377.5,179.1 379.9,178.7 382.2,178.3 384.6,178 387,177.6 389.3,177.2 391.7,176.8 394.1,176.5 396.4,176.2 398.8,175.9 401.2,175.5 403.5,175.2 405.9,175 408.3,174.7 410.6,174.4 413,174 415.4,173.5 417.7,173.1 420.1,172.6 422.5,172.2 424.8,171.8 427.2,171.3 429.6,170.9 431.9,170.4 434.3,170.1 436.7,169.8 439,169.5 441.4,169.2 443.8,168.9 446.1,168.6 448.5,168.3 450.9,168 453.2,167.7 455.6,167.5 458,167.4 460.3,167.2 462.7,167 465.1,166.9 467.4,166.7 469.8,166.5 472.2,166.4 474.5,166.2 476.9,166.1 479.3,166 481.6,165.8"/>
<polyline class="mb" points="257.9,163.6 261.4,165 265,166.5 268.5,167.9 272.1,169.5 275.6,171.6 279.2,173.7 282.7,175.7 286.3,177.8 289.8,179.9 293.4,181.7 296.9,183.3"/>
<polyline class="mo" points="126.1,106.4 128.4,107.8 130.8,109.2 133.2,110.6 135.5,112 137.9,113.4 140.3,114.8 142.6,116.2 145,117.5 147.4,118.9 149.7,120.3 152.1,121.6 154.5,122.8 156.8,124 159.2,125.3 161.6,126.5 163.9,127.6 166.3,128.8 168.7,129.9 171,131 173.4,132 175.8,132.9 178.1,133.9 180.5,134.9 182.9,135.8 185.2,136.7 187.6,137.6 190,138.5 192.3,139.4 194.7,140.4 197.1,141.3 199.4,142.3 201.8,143.2 204.2,144.3 206.5,145.3 208.9,146.3 211.3,147.3 213.6,148.5 216,149.6 218.4,150.8 220.7,152 223.1,153.1 225.5,154.2 227.8,155.2 230.2,156.2 232.6,157.1 234.9,157.9 237.3,158.7 239.7,159.5 242,160.3 244.4,161.2 246.8,162 249.1,162.8 251.5,163.6 253.9,164.3"/>
<polyline class="mo" points="296.5,185.1 298.8,186.1 301.2,187 303.6,187.6 305.9,188.2 308.3,188.7 310.7,189.2 313,189.2 315.4,189.3 317.8,189.3 320.1,189.3 322.5,189.2 324.9,189.2 327.2,189.2 329.6,189.2 332,189.2 334.3,189.2 336.7,189 339.1,188.9 341.4,188.7 343.8,188.4 346.2,188 348.5,187.7 350.9,187.4 353.3,186.9 355.6,186.3 358,185.7 360.4,184.9 362.7,184.1 365.1,183.6 367.5,183.2 369.8,182.7 372.2,182.3 374.6,181.9 376.9,181.6 379.3,181.2 381.7,180.8 384,180.4 386.4,180.1 388.8,179.7 391.1,179.3 393.5,179 395.9,178.7 398.2,178.3 400.6,178 403,177.7 405.3,177.4 407.7,177.1 410.1,176.8 412.4,176.5 414.8,176 417.2,175.6 419.5,175.1 421.9,174.7 424.3,174.2 426.6,173.8 429,173.4 431.4,172.9 433.7,172.6 436.1,172.3 438.5,172 440.8,171.7 443.2,171.4 445.6,171.1 447.9,170.8 450.3,170.5 452.7,170.2 455,170 457.4,169.8 459.8,169.7 462.1,169.5 464.5,169.4 466.9,169.2 469.2,169 471.6,168.9 474,168.7 476.3,168.6 478.7,168.5 481.1,168.3"/>
<polyline class="mb" points="257.1,166.6 260.7,168 264.2,169.5 267.8,171 271.3,172.6 274.9,174.6 278.4,176.7 282,178.7 285.5,180.8 289.1,182.9 292.6,184.7"/>
<polyline class="mo" points="125.5,108.7 127.8,110.1 130.2,111.5 132.6,112.9 134.9,114.3 137.3,115.7 139.7,117 142,118.4 144.4,119.8 146.8,121.2 149.1,122.5 151.5,123.9 153.9,125.1 156.2,126.3 158.6,127.6 161,128.8 163.3,129.9 165.7,131 168.1,132.2 170.4,133.3 172.8,134.2 175.2,135.2 177.5,136.2 179.9,137.1 182.3,138.1 184.6,139 187,139.9 189.4,140.8 191.7,141.7 194.1,142.7 196.5,143.6 198.8,144.6 201.2,145.6 203.6,146.6 205.9,147.6 208.3,148.6 210.7,149.7 213,150.8 215.4,152 217.8,153.2 220.1,154.3 222.5,155.4 224.9,156.6 227.2,157.6 229.6,158.5 232,159.4 234.3,160.2 236.7,161.1 239.1,161.9 241.4,162.7 243.8,163.5 246.2,164.3 248.5,165.2 250.9,166"/>
<polyline class="mo" points="293.5,186.4 295.9,187.5 298.2,188.4 300.6,189.4 303,190 305.3,190.5 307.7,191.1 310.1,191.6 312.4,191.6 314.8,191.6 317.2,191.6 319.5,191.6 321.9,191.6 324.3,191.6 326.6,191.6 329,191.6 331.4,191.6 333.7,191.6 336.1,191.4 338.5,191.3 340.8,191.1 343.2,190.8 345.6,190.4 347.9,190.1 350.3,189.8 352.7,189.3 355,188.7 357.4,188.1 359.8,187.3 362.1,186.5 364.5,186 366.9,185.6 369.2,185.2 371.6,184.8 374,184.4 376.3,184 378.7,183.6 381.1,183.3 383.4,182.9 385.8,182.5 388.2,182.1 390.5,181.8 392.9,181.4 395.3,181.1 397.6,180.8 400,180.5 402.4,180.2 404.7,179.9 407.1,179.6 409.5,179.3 411.8,178.9 414.2,178.5 416.6,178 418.9,177.6 421.3,177.1 423.7,176.7 426,176.3 428.4,175.8 430.8,175.4 433.1,175.1 435.5,174.8 437.9,174.5 440.2,174.2 442.6,173.9 445,173.6 447.3,173.2 449.7,172.9 452.1,172.7 454.4,172.5 456.8,172.3 459.2,172.1 461.5,172 463.9,171.8 466.3,171.7 468.6,171.5 471,171.3 473.4,171.2 475.7,171.1 478.1,170.9 480.5,170.8"/>
<polyline class="mb" points="252.8,168.4 256.4,169.6 259.9,171 263.5,172.5 267,174 270.6,175.6 274.1,177.7 277.7,179.7 281.2,181.8 284.8,183.8 288.3,185.9"/>
<polyline class="mo" points="124.9,110.9 127.2,112.3 129.6,113.7 132,115.1 134.3,116.5 136.7,117.9 139.1,119.3 141.4,120.7 143.8,122.1 146.2,123.4 148.5,124.8 150.9,126.1 153.3,127.3 155.6,128.6 158,129.8 160.4,131 162.7,132.2 165.1,133.3 167.5,134.4 169.8,135.5 172.2,136.5 174.6,137.5 176.9,138.4 179.3,139.4 181.7,140.3 184,141.3 186.4,142.2 188.8,143.1 191.1,144 193.5,145 195.9,146 198.2,146.9 200.6,147.9 203,148.9 205.3,149.9 207.7,151 210.1,152 212.4,153.2 214.8,154.3 217.2,155.5 219.5,156.7 221.9,157.8 224.3,158.9 226.6,159.9 229,160.9 231.4,161.8 233.7,162.6 236.1,163.4 238.5,164.2 240.8,165.1 243.2,165.9 245.6,166.7 247.9,167.5"/>
<polyline class="mo" points="288.2,186.5 290.5,187.7 292.9,188.8 295.3,189.8 297.6,190.8 300,191.8 302.4,192.3 304.7,192.9 307.1,193.5 309.5,194 311.8,194 314.2,194 316.6,194 318.9,194 321.3,194 323.7,194 326,194 328.4,193.9 330.8,193.9 333.1,193.9 335.5,193.8 337.9,193.6 340.2,193.5 342.6,193.1 345,192.8 347.3,192.5 349.7,192.2 352.1,191.6 354.4,191.1 356.8,190.5 359.2,189.7 361.5,188.9 363.9,188.5 366.3,188 368.6,187.6 371,187.2 373.4,186.8 375.7,186.4 378.1,186.1 380.5,185.7 382.8,185.3 385.2,184.9 387.6,184.6 389.9,184.2 392.3,183.9 394.7,183.5 397,183.2 399.4,182.9 401.8,182.6 404.1,182.3 406.5,182 408.9,181.7 411.2,181.3 413.6,180.9 416,180.5 418.3,180 420.7,179.6 423.1,179.2 425.4,178.7 427.8,178.3 430.2,177.9 432.5,177.5 434.9,177.2 437.3,176.9 439.6,176.6 442,176.3 444.4,176 446.7,175.7 449.1,175.4 451.5,175.1 453.8,174.9 456.2,174.7 458.6,174.6 460.9,174.4 463.3,174.3 465.7,174.1 468,173.9 470.4,173.8 472.8,173.6 475.1,173.5 477.5,173.4 479.9,173.2"/>
<polyline class="mb" points="248.5,170.3 252.1,171.4 255.6,172.6 259.2,173.9 262.7,175.5 266.3,177 269.8,178.6 273.4,180.7 276.9,182.7 280.5,184.7 284,186.8"/>
<polyline class="mo" points="124.3,113.2 126.6,114.6 129,116 131.4,117.4 133.7,118.8 136.1,120.2 138.5,121.6 140.8,123 143.2,124.3 145.6,125.7 147.9,127.1 150.3,128.4 152.7,129.6 155,130.8 157.4,132.1 159.8,133.3 162.1,134.4 164.5,135.5 166.9,136.7 169.2,137.8 171.6,138.8 174,139.7 176.3,140.7 178.7,141.7 181.1,142.6 183.4,143.5 185.8,144.4 188.2,145.4 190.5,146.3 192.9,147.3 195.3,148.2 197.6,149.2 200,150.2 202.4,151.2 204.7,152.3 207.1,153.3 209.5,154.3 211.8,155.5 214.2,156.6 216.6,157.8 218.9,159 221.3,160.1 223.7,161.2 226,162.3 228.4,163.2 230.8,164.1 233.1,164.9 235.5,165.7 237.9,166.6 240.2,167.4 242.6,168.2 245,169"/>
<polyline class="mo" points="285.2,187.5 287.6,188.8 289.9,190.1 292.3,191.1 294.7,192.2 297,193.1 299.4,194.1 301.8,194.7 304.1,195.2 306.5,195.8 308.9,196.3 311.2,196.4 313.6,196.4 316,196.4 318.3,196.4 320.7,196.4 323.1,196.3 325.4,196.3 327.8,196.3 330.2,196.3 332.5,196.3 334.9,196.2 337.3,196 339.6,195.8 342,195.5 344.4,195.2 346.7,194.8 349.1,194.5 351.5,194 353.8,193.4 356.2,192.8 358.6,192.1 360.9,191.3 363.3,190.9 365.7,190.4 368,190 370.4,189.6 372.8,189.2 375.1,188.8 377.5,188.5 379.9,188.1 382.2,187.7 384.6,187.3 387,187 389.3,186.6 391.7,186.3 394.1,186 396.4,185.6 398.8,185.3 401.2,185 403.5,184.7 405.9,184.4 408.3,184.1 410.6,183.7 413,183.3 415.4,182.9 417.7,182.4 420.1,182 422.5,181.6 424.8,181.1 427.2,180.7 429.6,180.3 431.9,180 434.3,179.7 436.7,179.4 439,179 441.4,178.7 443.8,178.4 446.1,178.1 448.5,177.8 450.9,177.5 453.2,177.3 455.6,177.2 458,177 460.3,176.8 462.7,176.7 465.1,176.5 467.4,176.4 469.8,176.2 472.2,176.1 474.5,175.9 476.9,175.8 479.3,175.7"/>
<polyline class="mo" points="123.7,115.5 126.1,116.9 128.4,118.2 130.8,119.6 133.2,121 135.5,122.4 137.9,123.8 140.3,125.2 142.6,126.6 145,127.9 147.4,129.3 149.7,130.6 152.1,131.8 154.5,133.1 156.8,134.3 159.2,135.5 161.6,136.6 163.9,137.8 166.3,138.9 168.7,140 171,141 173.4,142 175.8,142.9 178.1,143.9 180.5,144.9 182.9,145.8 185.2,146.7 187.6,147.6 190,148.6 192.3,149.6 194.7,150.5 197.1,151.5 199.4,152.5 201.8,153.5 204.2,154.6 206.5,155.6 208.9,156.6 211.3,157.8 213.6,159 216,160.1 218.4,161.3 220.7,162.4 223.1,163.5 225.5,164.6 227.8,165.5 230.2,166.4 232.6,167.2 234.9,168.1 237.3,168.9 239.7,169.7 242,170.5"/>
<polyline class="mo" points="282.3,188.5 284.6,189.8 287,191.2 289.4,192.4 291.7,193.5 294.1,194.5 296.5,195.5 298.8,196.4 301.2,197 303.6,197.6 305.9,198.1 308.3,198.6 310.7,198.7 313,198.7 315.4,198.7 317.8,198.7 320.1,198.7 322.5,198.7 324.9,198.7 327.2,198.7 329.6,198.6 332,198.7 334.3,198.5 336.7,198.3 339.1,198.1 341.4,197.8 343.8,197.5 346.2,197.2 348.5,196.8 350.9,196.3 353.3,195.8 355.6,195.2 358,194.4 360.4,193.7 362.7,193.2 365.1,192.8 367.5,192.4 369.8,192 372.2,191.6 374.6,191.2 376.9,190.8 379.3,190.5 381.7,190.1 384,189.7 386.4,189.4 388.8,189 391.1,188.7 393.5,188.3 395.9,188 398.2,187.7 400.6,187.4 403,187.1 405.3,186.8 407.7,186.5 410.1,186.1 412.4,185.7 414.8,185.3 417.2,184.8 419.5,184.4 421.9,184 424.3,183.5 426.6,183.1 429,182.7 431.4,182.4 433.7,182.1 436.1,181.8 438.5,181.4 440.8,181.1 443.2,180.8 445.6,180.5 447.9,180.2 450.3,179.9 452.7,179.7 455,179.6 457.4,179.4 459.8,179.2 462.1,179.1 464.5,178.9 466.9,178.7 469.2,178.6 471.6,178.5 474,178.3 476.3,178.2 478.7,178"/>
<polyline class="mb" points="244.2,171.9 247.8,173.2 251.3,174.3 254.9,175.5 258.4,176.9 262,178.5 265.5,180 269.1,181.6 272.6,183.6 276.2,185.7 279.7,187.7"/>
<polyline class="mo" points="123.1,117.7 125.5,119.1 127.8,120.5 130.2,121.9 132.6,123.3 134.9,124.7 137.3,126.1 139.7,127.5 142,128.8 144.4,130.2 146.8,131.5 149.1,132.8 151.5,134.1 153.9,135.3 156.2,136.5 158.6,137.7 161,138.9 163.3,140 165.7,141.1 168.1,142.2 170.4,143.2 172.8,144.2 175.2,145.2 177.5,146.2 179.9,147.1 182.3,148 184.6,149 187,149.9 189.4,150.8 191.7,151.8 194.1,152.8 196.5,153.8 198.8,154.8 201.2,155.8 203.6,156.8 205.9,157.9 208.3,158.9 210.7,160.1 213,161.2 215.4,162.4 217.8,163.6 220.1,164.7 222.5,165.8 224.9,166.9 227.2,167.8 229.6,168.7 232,169.5 234.3,170.4 236.7,171.2 239.1,172"/>
<polyline class="mo" points="279.3,189.5 281.7,190.8 284,192.1 286.4,193.5 288.8,194.7 291.1,195.8 293.5,196.8 295.9,197.8 298.2,198.7 300.6,199.3 303,199.9 305.3,200.5 307.7,201 310.1,201 312.4,201 314.8,201 317.2,201 319.5,201 321.9,201 324.3,201 326.6,201 329,201 331.4,201 333.7,200.8 336.1,200.7 338.5,200.5 340.8,200.1 343.2,199.8 345.6,199.5 347.9,199.2 350.3,198.6 352.7,198.1 355,197.5 357.4,196.8 359.8,196.1 362.1,195.6 364.5,195.2 366.9,194.7 369.2,194.3 371.6,194 374,193.6 376.3,193.2 378.7,192.8 381.1,192.5 383.4,192.1 385.8,191.7 388.2,191.4 390.5,191 392.9,190.7 395.3,190.4 397.6,190.1 400,189.8 402.4,189.5 404.7,189.2 407.1,188.9 409.5,188.5 411.8,188 414.2,187.6 416.6,187.2 418.9,186.8 421.3,186.3 423.7,185.9 426,185.5 428.4,185.1 430.8,184.8 433.1,184.4 435.5,184.1 437.9,183.8 440.2,183.5 442.6,183.2 445,182.9 447.3,182.6 449.7,182.3 452.1,182.1 454.4,181.9 456.8,181.8 459.2,181.6 461.5,181.4 463.9,181.3 466.3,181.1 468.6,181 471,180.8 473.4,180.7 475.7,180.5 478.1,180.4"/>
<polyline class="mb" points="240,173.6 243.5,174.8 247.1,176.1 250.6,177.2 254.2,178.4 257.7,179.8 261.3,181.4 264.8,182.9 268.4,184.5 271.9,186.6"/>
<polyline class="mo" points="122.5,119.9 124.9,121.3 127.2,122.7 129.6,124.1 132,125.5 134.3,126.9 136.7,128.3 139.1,129.7 141.4,131 143.8,132.4 146.2,133.7 148.5,135 150.9,136.3 153.3,137.5 155.6,138.7 158,140 160.4,141.1 162.7,142.2 165.1,143.3 167.5,144.5 169.8,145.4 172.2,146.4 174.6,147.4 176.9,148.4 179.3,149.3 181.7,150.3 184,151.2 186.4,152.1 188.8,153.1 191.1,154.1 193.5,155 195.9,156 198.2,157 200.6,158.1 203,159.1 205.3,160.2 207.7,161.2 210.1,162.4 212.4,163.5 214.8,164.7 217.2,165.9 219.5,167 221.9,168.1 224.3,169.2 226.6,170.1 229,171 231.4,171.8 233.7,172.7 236.1,173.5"/>
<polyline class="mo" points="274,189.1 276.3,190.5 278.7,191.8 281.1,193.1 283.4,194.5 285.8,195.8 288.2,197 290.5,198.1 292.9,199.1 295.3,200 297.6,201 300,201.6 302.4,202.2 304.7,202.8 307.1,203.3 309.5,203.3 311.8,203.3 314.2,203.3 316.6,203.3 318.9,203.3 321.3,203.3 323.7,203.3 326,203.3 328.4,203.3 330.8,203.3 333.1,203.1 335.5,203 337.9,202.7 340.2,202.4 342.6,202.1 345,201.8 347.3,201.4 349.7,200.9 352.1,200.4 354.4,199.8 356.8,199.1 359.2,198.4 361.5,197.9 363.9,197.5 366.3,197.1 368.6,196.7 371,196.3 373.4,195.9 375.7,195.6 378.1,195.2 380.5,194.8 382.8,194.4 385.2,194.1 387.6,193.7 389.9,193.4 392.3,193.1 394.7,192.7 397,192.4 399.4,192.1 401.8,191.8 404.1,191.5 406.5,191.2 408.9,190.8 411.2,190.4 413.6,190 416,189.5 418.3,189.1 420.7,188.7 423.1,188.3 425.4,187.8 427.8,187.4 430.2,187.1 432.5,186.8 434.9,186.5 437.3,186.2 439.6,185.9 442,185.5 444.4,185.2 446.7,184.9 449.1,184.6 451.5,184.4 453.8,184.3 456.2,184.1 458.6,183.9 460.9,183.8 463.3,183.6 465.7,183.5 468,183.3 470.4,183.2 472.8,183 475.1,182.9 477.5,182.7"/>
<polyline class="mb" points="235.7,175.2 239.2,176.4 242.8,177.7 246.3,178.9 249.9,180 253.4,181.3 257,182.7 260.5,184.3 264.1,185.9 267.6,187.5"/>
<polyline class="mo" points="121.9,122.1 124.3,123.5 126.6,124.9 129,126.3 131.4,127.7 133.7,129.1 136.1,130.5 138.5,131.9 140.8,133.3 143.2,134.6 145.6,136 147.9,137.3 150.3,138.5 152.7,139.7 155,140.9 157.4,142.2 159.8,143.3 162.1,144.4 164.5,145.5 166.9,146.7 169.2,147.6 171.6,148.6 174,149.6 176.3,150.6 178.7,151.5 181.1,152.5 183.4,153.4 185.8,154.4 188.2,155.3 190.5,156.3 192.9,157.3 195.3,158.3 197.6,159.3 200,160.3 202.4,161.4 204.7,162.4 207.1,163.5 209.5,164.6 211.8,165.8 214.2,167 216.6,168.2 218.9,169.3 221.3,170.4 223.7,171.5 226,172.4 228.4,173.3 230.8,174.1 233.1,174.9"/>
<polyline class="mo" points="271,190.1 273.4,191.5 275.7,192.8 278.1,194.1 280.5,195.5 282.8,196.8 285.2,198.1 287.6,199.3 289.9,200.4 292.3,201.4 294.7,202.3 297,203.2 299.4,203.8 301.8,204.4 304.1,205 306.5,205.5 308.9,205.6 311.2,205.6 313.6,205.6 316,205.6 318.3,205.6 320.7,205.6 323.1,205.6 325.4,205.6 327.8,205.6 330.2,205.6 332.5,205.4 334.9,205.2 337.3,205 339.6,204.7 342,204.4 344.4,204 346.7,203.7 349.1,203.2 351.5,202.7 353.8,202.1 356.2,201.4 358.6,200.7 360.9,200.2 363.3,199.8 365.7,199.4 368,199 370.4,198.6 372.8,198.2 375.1,197.9 377.5,197.5 379.9,197.1 382.2,196.8 384.6,196.4 387,196 389.3,195.7 391.7,195.4 394.1,195 396.4,194.7 398.8,194.4 401.2,194.1 403.5,193.8 405.9,193.5 408.3,193.1 410.6,192.7 413,192.3 415.4,191.9 417.7,191.4 420.1,191 422.5,190.6 424.8,190.2 427.2,189.8 429.6,189.4 431.9,189.1 434.3,188.8 436.7,188.5 439,188.2 441.4,187.9 443.8,187.6 446.1,187.2 448.5,187 450.9,186.7 453.2,186.6 455.6,186.4 458,186.3 460.3,186.1 462.7,185.9 465.1,185.8 467.4,185.6 469.8,185.5 472.2,185.3 474.5,185.2 476.9,185.1"/>
<polyline class="mb" points="231.4,176.8 234.9,178 238.5,179.3 242,180.5 245.6,181.8 249.1,182.9 252.7,184.2 256.2,185.6 259.8,187.2 263.3,188.8"/>
<polyline class="mo" points="121.3,124.4 123.7,125.8 126.1,127.1 128.4,128.5 130.8,129.9 133.2,131.3 135.5,132.7 137.9,134.1 140.3,135.5 142.6,136.8 145,138.2 147.4,139.4 149.7,140.7 152.1,141.9 154.5,143.1 156.8,144.4 159.2,145.5 161.6,146.6 163.9,147.7 166.3,148.8 168.7,149.8 171,150.8 173.4,151.8 175.8,152.8 178.1,153.7 180.5,154.7 182.9,155.6 185.2,156.6 187.6,157.5 190,158.5 192.3,159.5 194.7,160.5 197.1,161.5 199.4,162.6 201.8,163.6 204.2,164.7 206.5,165.7 208.9,166.9 211.3,168.1 213.6,169.2 216,170.4 218.4,171.5 220.7,172.7 223.1,173.7 225.5,174.7 227.8,175.5 230.2,176.4"/>
<polyline class="mo" points="268.1,191.1 270.4,192.4 272.8,193.8 275.2,195.2 277.5,196.4 279.9,197.7 282.3,199.1 284.6,200.4 287,201.6 289.4,202.6 291.7,203.6 294.1,204.6 296.5,205.5 298.8,206.1 301.2,206.7 303.6,207.3 305.9,207.8 308.3,207.8 310.7,207.9 313,207.9 315.4,207.9 317.8,207.9 320.1,207.9 322.5,207.8 324.9,207.8 327.2,207.8 329.6,207.8 332,207.7 334.3,207.5 336.7,207.3 339.1,207 341.4,206.6 343.8,206.3 346.2,206 348.5,205.5 350.9,205 353.3,204.4 355.6,203.7 358,203 360.4,202.5 362.7,202.1 365.1,201.7 367.5,201.3 369.8,200.9 372.2,200.5 374.6,200.2 376.9,199.8 379.3,199.4 381.7,199.1 384,198.7 386.4,198.3 388.8,198 391.1,197.7 393.5,197.4 395.9,197 398.2,196.7 400.6,196.4 403,196.1 405.3,195.8 407.7,195.4 410.1,195 412.4,194.6 414.8,194.2 417.2,193.7 419.5,193.3 421.9,192.9 424.3,192.5 426.6,192.1 429,191.7 431.4,191.4 433.7,191.1 436.1,190.8 438.5,190.5 440.8,190.2 443.2,189.9 445.6,189.5 447.9,189.3 450.3,189 452.7,188.9 455,188.7 457.4,188.6 459.8,188.4 462.1,188.2 464.5,188.1 466.9,187.9 469.2,187.8 471.6,187.6 474,187.5 476.3,187.3"/>
<polyline class="mo" points="120.7,126.6 123.1,128 125.5,129.3 127.8,130.7 130.2,132.1 132.6,133.5 134.9,134.9 137.3,136.3 139.7,137.7 142,139 144.4,140.3 146.8,141.6 149.1,142.9 151.5,144.1 153.9,145.3 156.2,146.5 158.6,147.7 161,148.8 163.3,149.9 165.7,151 168.1,152 170.4,153 172.8,154 175.2,155 177.5,155.9 179.9,156.9 182.3,157.8 184.6,158.8 187,159.7 189.4,160.7 191.7,161.7 194.1,162.7 196.5,163.7 198.8,164.8 201.2,165.9 203.6,166.9 205.9,168 208.3,169.1 210.7,170.3 213,171.5 215.4,172.7 217.8,173.8 220.1,174.9 222.5,176 224.9,176.9 227.2,177.8"/>
<polyline class="mo" points="262.7,191.1 265.1,192.1 267.5,193.4 269.8,194.7 272.2,196.1 274.6,197.5 276.9,198.7 279.3,200 281.7,201.3 284,202.6 286.4,203.8 288.8,204.9 291.1,205.8 293.5,206.8 295.9,207.7 298.2,208.3 300.6,208.9 303,209.5 305.3,210 307.7,210.1 310.1,210.1 312.4,210.1 314.8,210.1 317.2,210.1 319.5,210.1 321.9,210.1 324.3,210.1 326.6,210.1 329,210.1 331.4,209.9 333.7,209.7 336.1,209.5 338.5,209.2 340.8,208.9 343.2,208.5 345.6,208.2 347.9,207.7 350.3,207.2 352.7,206.6 355,205.9 357.4,205.3 359.8,204.8 362.1,204.4 364.5,204 366.9,203.6 369.2,203.2 371.6,202.8 374,202.5 376.3,202.1 378.7,201.7 381.1,201.3 383.4,201 385.8,200.6 388.2,200.3 390.5,200 392.9,199.6 395.3,199.3 397.6,199 400,198.7 402.4,198.4 404.7,198.1 407.1,197.7 409.5,197.3 411.8,196.9 414.2,196.4 416.6,196 418.9,195.6 421.3,195.2 423.7,194.8 426,194.3 428.4,194 430.8,193.7 433.1,193.4 435.5,193.1 437.9,192.8 440.2,192.4 442.6,192.1 445,191.8 447.3,191.5 449.7,191.3 452.1,191.1 454.4,191 456.8,190.8 459.2,190.7 461.5,190.5 463.9,190.3 466.3,190.2 468.6,190 471,189.9 473.4,189.7 475.7,189.6"/>
<polyline class="mb" points="227.1,178.3 230.6,179.6 234.2,180.8 237.7,182.1 241.3,183.3 244.8,184.6 248.4,185.7 251.9,187 255.5,188.4 259,190.1"/>
<polyline class="mo" points="120.1,128.7 122.5,130.1 124.9,131.5 127.2,132.9 129.6,134.3 132,135.7 134.3,137.1 136.7,138.5 139.1,139.8 141.4,141.2 143.8,142.5 146.2,143.8 148.5,145 150.9,146.3 153.3,147.5 155.6,148.7 158,149.8 160.4,150.9 162.7,152.1 165.1,153.2 167.5,154.2 169.8,155.2 172.2,156.2 174.6,157.2 176.9,158.1 179.3,159.1 181.7,160 184,161 186.4,161.9 188.8,162.9 191.1,163.9 193.5,164.9 195.9,166 198.2,167 200.6,168.1 203,169.1 205.3,170.2 207.7,171.4 210.1,172.5 212.4,173.7 214.8,174.9 217.2,176 219.5,177.2 221.9,178.2 224.3,179.1"/>
<polyline class="mo" points="259.8,192.3 262.1,193.4 264.5,194.4 266.9,195.7 269.2,197 271.6,198.4 274,199.7 276.3,201 278.7,202.3 281.1,203.6 283.4,204.9 285.8,206.1 288.2,207.1 290.5,208.1 292.9,209 295.3,209.9 297.6,210.5 300,211.2 302.4,211.8 304.7,212.3 307.1,212.3 309.5,212.3 311.8,212.3 314.2,212.4 316.6,212.3 318.9,212.3 321.3,212.3 323.7,212.3 326,212.3 328.4,212.3 330.8,212.2 333.1,212 335.5,211.7 337.9,211.4 340.2,211.1 342.6,210.8 345,210.4 347.3,209.9 349.7,209.4 352.1,208.9 354.4,208.2 356.8,207.5 359.2,207.1 361.5,206.6 363.9,206.2 366.3,205.8 368.6,205.5 371,205.1 373.4,204.7 375.7,204.3 378.1,204 380.5,203.6 382.8,203.2 385.2,202.9 387.6,202.5 389.9,202.2 392.3,201.9 394.7,201.6 397,201.2 399.4,200.9 401.8,200.6 404.1,200.3 406.5,199.9 408.9,199.5 411.2,199.1 413.6,198.7 416,198.3 418.3,197.9 420.7,197.4 423.1,197 425.4,196.6 427.8,196.3 430.2,196 432.5,195.7 434.9,195.3 437.3,195 439.6,194.7 442,194.4 444.4,194.1 446.7,193.8 449.1,193.6 451.5,193.4 453.8,193.2 456.2,193.1 458.6,192.9 460.9,192.7 463.3,192.6 465.7,192.4 468,192.3 470.4,192.1 472.8,192 475.1,191.8"/>
<polyline class="mb" points="226.3,181.1 229.9,182.4 233.4,183.6 237,184.9 240.5,186.1 244.1,187.4 247.6,188.5 251.2,189.8 254.7,191.3"/>
<polyline class="mo" points="119.5,130.9 121.9,132.3 124.3,133.7 126.6,135.1 129,136.5 131.4,137.9 133.7,139.3 136.1,140.7 138.5,142 140.8,143.3 143.2,144.7 145.6,146 147.9,147.2 150.3,148.4 152.7,149.6 155,150.9 157.4,152 159.8,153.1 162.1,154.2 164.5,155.3 166.9,156.3 169.2,157.3 171.6,158.3 174,159.3 176.3,160.3 178.7,161.2 181.1,162.2 183.4,163.1 185.8,164.1 188.2,165.1 190.5,166.1 192.9,167.1 195.3,168.2 197.6,169.2 200,170.3 202.4,171.3 204.7,172.4 207.1,173.6 209.5,174.7 211.8,175.9 214.2,177.1 216.6,178.2 218.9,179.4 221.3,180.4"/>
<polyline class="mo" points="256.8,193.5 259.2,194.6 261.5,195.6 263.9,196.7 266.3,198 268.6,199.3 271,200.7 273.4,202 275.7,203.3 278.1,204.5 280.5,205.8 282.8,207.1 285.2,208.3 287.6,209.3 289.9,210.3 292.3,211.2 294.7,212.1 297,212.7 299.4,213.4 301.8,214 304.1,214.5 306.5,214.5 308.9,214.5 311.2,214.6 313.6,214.6 316,214.6 318.3,214.6 320.7,214.5 323.1,214.5 325.4,214.5 327.8,214.5 330.2,214.4 332.5,214.2 334.9,213.9 337.3,213.6 339.6,213.3 342,213 344.4,212.6 346.7,212.1 349.1,211.6 351.5,211.1 353.8,210.4 356.2,209.7 358.6,209.3 360.9,208.9 363.3,208.5 365.7,208.1 368,207.7 370.4,207.3 372.8,207 375.1,206.6 377.5,206.2 379.9,205.8 382.2,205.5 384.6,205.1 387,204.8 389.3,204.5 391.7,204.1 394.1,203.8 396.4,203.5 398.8,203.2 401.2,202.9 403.5,202.5 405.9,202.2 408.3,201.8 410.6,201.3 413,200.9 415.4,200.5 417.7,200.1 420.1,199.7 422.5,199.3 424.8,198.9 427.2,198.5 429.6,198.2 431.9,197.9 434.3,197.6 436.7,197.2 439,196.9 441.4,196.6 443.8,196.3 446.1,196 448.5,195.8 450.9,195.6 453.2,195.4 455.6,195.3 458,195.1 460.3,194.9 462.7,194.8 465.1,194.6 467.4,194.5 469.8,194.3 472.2,194.2 474.5,194"/>
<polyline class="mb" points="222.1,182.5 225.6,183.9 229.2,185.1 232.7,186.4 236.3,187.6 239.8,188.9 243.4,190.1 246.9,191.3 250.5,192.6 254,194.1"/>
<polyline class="mo" points="119,133.1 121.3,134.5 123.7,135.9 126.1,137.3 128.4,138.7 130.8,140.1 133.2,141.5 135.5,142.9 137.9,144.2 140.3,145.5 142.6,146.8 145,148.1 147.4,149.3 149.7,150.6 152.1,151.8 154.5,153 156.8,154.1 159.2,155.2 161.6,156.4 163.9,157.5 166.3,158.5 168.7,159.5 171,160.5 173.4,161.5 175.8,162.4 178.1,163.4 180.5,164.3 182.9,165.3 185.2,166.3 187.6,167.3 190,168.3 192.3,169.3 194.7,170.3 197.1,171.4 199.4,172.5 201.8,173.5 204.2,174.6 206.5,175.8 208.9,176.9 211.3,178.1 213.6,179.3 216,180.4 218.4,181.6"/>
<polyline class="mo" points="253.9,194.6 256.2,195.7 258.6,196.8 261,197.9 263.3,198.9 265.7,200.2 268.1,201.6 270.4,202.9 272.8,204.3 275.2,205.5 277.5,206.8 279.9,208 282.3,209.3 284.6,210.5 287,211.5 289.4,212.5 291.7,213.4 294.1,214.3 296.5,214.9 298.8,215.5 301.2,216.2 303.6,216.7 305.9,216.7 308.3,216.7 310.7,216.7 313,216.8 315.4,216.8 317.8,216.7 320.1,216.7 322.5,216.7 324.9,216.7 327.2,216.7 329.6,216.6 332,216.4 334.3,216.1 336.7,215.8 339.1,215.5 341.4,215.1 343.8,214.8 346.2,214.3 348.5,213.8 350.9,213.3 353.3,212.6 355.6,212 358,211.5 360.4,211.1 362.7,210.7 365.1,210.3 367.5,209.9 369.8,209.5 372.2,209.2 374.6,208.8 376.9,208.4 379.3,208.1 381.7,207.7 384,207.3 386.4,207 388.8,206.7 391.1,206.3 393.5,206 395.9,205.7 398.2,205.4 400.6,205.1 403,204.8 405.3,204.4 407.7,204 410.1,203.5 412.4,203.1 414.8,202.7 417.2,202.3 419.5,201.9 421.9,201.5 424.3,201.1 426.6,200.7 429,200.4 431.4,200.1 433.7,199.8 436.1,199.5 438.5,199.1 440.8,198.8 443.2,198.5 445.6,198.2 447.9,198 450.3,197.8 452.7,197.6 455,197.5 457.4,197.3 459.8,197.1 462.1,197 464.5,196.8 466.9,196.7 469.2,196.5 471.6,196.4 474,196.2"/>
<polyline class="mb" points="217.8,183.8 221.3,185.3 224.9,186.6 228.4,187.9 232,189.1 235.5,190.4 239.1,191.6 242.6,192.9 246.2,194 249.7,195.3"/>
<polyline class="mo" points="118.4,135.3 120.7,136.7 123.1,138 125.5,139.4 127.8,140.8 130.2,142.2 132.6,143.6 134.9,145 137.3,146.3 139.7,147.7 142,149 144.4,150.3 146.8,151.5 149.1,152.7 151.5,153.9 153.9,155.1 156.2,156.3 158.6,157.4 161,158.5 163.3,159.6 165.7,160.6 168.1,161.6 170.4,162.6 172.8,163.6 175.2,164.6 177.5,165.5 179.9,166.5 182.3,167.5 184.6,168.4 187,169.5 189.4,170.5 191.7,171.5 194.1,172.5 196.5,173.6 198.8,174.7 201.2,175.7 203.6,176.8 205.9,178 208.3,179.1 210.7,180.3 213,181.5 215.4,182.6"/>
<polyline class="mo" points="253.3,196.9 255.6,198 258,199.1 260.4,200.1 262.7,201.2 265.1,202.5 267.5,203.8 269.8,205.2 272.2,206.5 274.6,207.7 276.9,209 279.3,210.2 281.7,211.5 284,212.7 286.4,213.7 288.8,214.6 291.1,215.6 293.5,216.5 295.9,217.1 298.2,217.7 300.6,218.3 303,218.9 305.3,218.9 307.7,218.9 310.1,218.9 312.4,218.9 314.8,218.9 317.2,218.9 319.5,218.9 321.9,218.9 324.3,218.9 326.6,218.9 329,218.8 331.4,218.5 333.7,218.3 336.1,218 338.5,217.6 340.8,217.3 343.2,217 345.6,216.5 347.9,216 350.3,215.4 352.7,214.8 355,214.1 357.4,213.7 359.8,213.3 362.1,212.9 364.5,212.5 366.9,212.1 369.2,211.7 371.6,211.4 374,211 376.3,210.6 378.7,210.3 381.1,209.9 383.4,209.5 385.8,209.2 388.2,208.9 390.5,208.5 392.9,208.2 395.3,207.9 397.6,207.6 400,207.2 402.4,206.9 404.7,206.6 407.1,206.1 409.5,205.7 411.8,205.3 414.2,204.9 416.6,204.5 418.9,204.1 421.3,203.7 423.7,203.3 426,202.9 428.4,202.6 430.8,202.3 433.1,202 435.5,201.6 437.9,201.3 440.2,201 442.6,200.7 445,200.4 447.3,200.2 449.7,200 452.1,199.8 454.4,199.6 456.8,199.5 459.2,199.3 461.5,199.1 463.9,199 466.3,198.8 468.6,198.7 471,198.5 473.4,198.4"/>
<polyline class="mo" points="117.8,137.4 120.1,138.8 122.5,140.2 124.9,141.6 127.2,143 129.6,144.4 132,145.8 134.3,147.2 136.7,148.5 139.1,149.8 141.4,151.1 143.8,152.4 146.2,153.6 148.5,154.8 150.9,156.1 153.3,157.3 155.6,158.4 158,159.5 160.4,160.6 162.7,161.7 165.1,162.7 167.5,163.7 169.8,164.7 172.2,165.7 174.6,166.7 176.9,167.7 179.3,168.6 181.7,169.6 184,170.6 186.4,171.6 188.8,172.6 191.1,173.7 193.5,174.7 195.9,175.8 198.2,176.8 200.6,177.9 203,179 205.3,180.1 207.7,181.3 210.1,182.5 212.4,183.7"/>
<polyline class="mo" points="250.3,198.1 252.7,199.1 255,200.2 257.4,201.3 259.8,202.4 262.1,203.4 264.5,204.7 266.9,206 269.2,207.4 271.6,208.7 274,209.9 276.3,211.2 278.7,212.4 281.1,213.6 283.4,214.8 285.8,215.8 288.2,216.8 290.5,217.7 292.9,218.6 295.3,219.2 297.6,219.9 300,220.5 302.4,221 304.7,221.1 307.1,221.1 309.5,221.1 311.8,221.1 314.2,221.1 316.6,221.1 318.9,221.1 321.3,221.1 323.7,221.1 326,221.1 328.4,220.9 330.8,220.7 333.1,220.4 335.5,220.1 337.9,219.8 340.2,219.4 342.6,219.1 345,218.6 347.3,218.1 349.7,217.6 352.1,217 354.4,216.3 356.8,215.9 359.2,215.5 361.5,215 363.9,214.7 366.3,214.3 368.6,213.9 371,213.5 373.4,213.2 375.7,212.8 378.1,212.4 380.5,212.1 382.8,211.7 385.2,211.4 387.6,211 389.9,210.7 392.3,210.4 394.7,210 397,209.7 399.4,209.4 401.8,209.1 404.1,208.7 406.5,208.3 408.9,207.9 411.2,207.5 413.6,207.1 416,206.7 418.3,206.2 420.7,205.8 423.1,205.4 425.4,205.1 427.8,204.8 430.2,204.5 432.5,204.1 434.9,203.8 437.3,203.5 439.6,203.1 442,202.8 444.4,202.5 446.7,202.3 449.1,202.1 451.5,202 453.8,201.8 456.2,201.6 458.6,201.5 460.9,201.3 463.3,201.1 465.7,201 468,200.8 470.4,200.7 472.8,200.5"/>
<polyline class="mb" points="217,186.5 220.6,188 224.1,189.3 227.7,190.6 231.2,191.8 234.8,193.1 238.3,194.4 241.9,195.6 245.4,196.8 249,198.1"/>
<polyline class="mo" points="117.2,139.6 119.5,140.9 121.9,142.3 124.3,143.7 126.6,145.1 129,146.5 131.4,147.9 133.7,149.3 136.1,150.6 138.5,151.9 140.8,153.2 143.2,154.5 145.6,155.7 147.9,157 150.3,158.2 152.7,159.4 155,160.5 157.4,161.6 159.8,162.7 162.1,163.8 164.5,164.8 166.9,165.8 169.2,166.8 171.6,167.8 174,168.8 176.3,169.8 178.7,170.8 181.1,171.7 183.4,172.7 185.8,173.7 188.2,174.8 190.5,175.8 192.9,176.8 195.3,177.9 197.6,179 200,180.1 202.4,181.1 204.7,182.3 207.1,183.5 209.5,184.6 211.8,185.8"/>
<polyline class="mo" points="249.7,200.2 252.1,201.3 254.4,202.4 256.8,203.5 259.2,204.6 261.5,205.6 263.9,206.9 266.3,208.2 268.6,209.6 271,210.9 273.4,212.1 275.7,213.4 278.1,214.6 280.5,215.8 282.8,217 285.2,218 287.6,218.9 289.9,219.8 292.3,220.7 294.7,221.4 297,222 299.4,222.6 301.8,223.2 304.1,223.2 306.5,223.2 308.9,223.2 311.2,223.2 313.6,223.2 316,223.2 318.3,223.2 320.7,223.2 323.1,223.2 325.4,223.2 327.8,223 330.2,222.8 332.5,222.6 334.9,222.2 337.3,221.9 339.6,221.6 342,221.2 344.4,220.7 346.7,220.3 349.1,219.7 351.5,219.1 353.8,218.5 356.2,218 358.6,217.6 360.9,217.2 363.3,216.8 365.7,216.4 368,216.1 370.4,215.7 372.8,215.3 375.1,215 377.5,214.6 379.9,214.2 382.2,213.9 384.6,213.5 387,213.2 389.3,212.8 391.7,212.5 394.1,212.2 396.4,211.9 398.8,211.6 401.2,211.2 403.5,210.9 405.9,210.4 408.3,210 410.6,209.6 413,209.2 415.4,208.8 417.7,208.4 420.1,208 422.5,207.6 424.8,207.3 427.2,206.9 429.6,206.6 431.9,206.3 434.3,205.9 436.7,205.6 439,205.3 441.4,205 443.8,204.7 446.1,204.4 448.5,204.3 450.9,204.1 453.2,203.9 455.6,203.7 458,203.6 460.3,203.4 462.7,203.2 465.1,203.1 467.4,202.9 469.8,202.8 472.2,202.6"/>
<polyline class="mb" points="212.7,187.5 216.3,189.2 219.8,190.7 223.4,192 226.9,193.3 230.5,194.5 234,195.8 237.6,197.1 241.1,198.3 244.7,199.5 248.2,200.8"/>
<polyline class="mo" points="116.6,141.7 119,143.1 121.3,144.5 123.7,145.9 126.1,147.3 128.4,148.7 130.8,150 133.2,151.4 135.5,152.7 137.9,154 140.3,155.3 142.6,156.6 145,157.8 147.4,159.1 149.7,160.3 152.1,161.5 154.5,162.6 156.8,163.7 159.2,164.8 161.6,165.9 163.9,166.9 166.3,167.9 168.7,168.9 171,169.9 173.4,170.9 175.8,171.9 178.1,172.9 180.5,173.8 182.9,174.8 185.2,175.9 187.6,176.9 190,177.9 192.3,179 194.7,180 197.1,181.1 199.4,182.2 201.8,183.3 204.2,184.4 206.5,185.6 208.9,186.8"/>
<polyline class="mo" points="249.1,202.4 251.5,203.4 253.9,204.6 256.2,205.7 258.6,206.8 261,207.8 263.3,209.1 265.7,210.4 268.1,211.8 270.4,213.1 272.8,214.3 275.2,215.5 277.5,216.7 279.9,217.9 282.3,219.1 284.6,220.1 287,221.1 289.4,222 291.7,222.9 294.1,223.5 296.5,224.1 298.8,224.8 301.2,225.3 303.6,225.3 305.9,225.3 308.3,225.3 310.7,225.3 313,225.3 315.4,225.3 317.8,225.3 320.1,225.3 322.5,225.3 324.9,225.3 327.2,225.2 329.6,224.9 332,224.7 334.3,224.3 336.7,224 339.1,223.7 341.4,223.3 343.8,222.8 346.2,222.4 348.5,221.8 350.9,221.2 353.3,220.6 355.6,220.2 358,219.7 360.4,219.3 362.7,218.9 365.1,218.6 367.5,218.2 369.8,217.8 372.2,217.5 374.6,217.1 376.9,216.7 379.3,216.4 381.7,216 384,215.7 386.4,215.3 388.8,215 391.1,214.6 393.5,214.3 395.9,214 398.2,213.7 400.6,213.3 403,213 405.3,212.6 407.7,212.2 410.1,211.7 412.4,211.3 414.8,210.9 417.2,210.5 419.5,210.1 421.9,209.7 424.3,209.4 426.6,209 429,208.7 431.4,208.4 433.7,208.1 436.1,207.7 438.5,207.4 440.8,207.1 443.2,206.8 445.6,206.5 447.9,206.4 450.3,206.2 452.7,206 455,205.8 457.4,205.7 459.8,205.5 462.1,205.3 464.5,205.2 466.9,205 469.2,204.9 471.6,204.7"/>
<polyline class="mb" points="212,190.2 215.5,191.9 219.1,193.4 222.6,194.7 226.2,196 229.7,197.2 233.3,198.5 236.8,199.7 240.4,201 243.9,202.1 247.5,203.5"/>
<polyline class="mo" points="116,143.8 118.4,145.2 120.7,146.6 123.1,148 125.5,149.4 127.8,150.8 130.2,152.2 132.6,153.5 134.9,154.8 137.3,156.1 139.7,157.4 142,158.7 144.4,159.9 146.8,161.1 149.1,162.4 151.5,163.6 153.9,164.7 156.2,165.8 158.6,166.9 161,168 163.3,169 165.7,170 168.1,171 170.4,172 172.8,173 175.2,174 177.5,175 179.9,175.9 182.3,176.9 184.6,178 187,179 189.4,180 191.7,181.1 194.1,182.2 196.5,183.3 198.8,184.3 201.2,185.4 203.6,186.6 205.9,187.7 208.3,188.9"/>
<polyline class="mo" points="248.5,204.6 250.9,205.6 253.3,206.7 255.6,207.9 258,208.9 260.4,210 262.7,211.3 265.1,212.6 267.5,213.9 269.8,215.3 272.2,216.5 274.6,217.7 276.9,218.9 279.3,220.1 281.7,221.2 284,222.2 286.4,223.2 288.8,224.1 291.1,224.9 293.5,225.6 295.9,226.2 298.2,226.9 300.6,227.4 303,227.4 305.3,227.4 307.7,227.4 310.1,227.4 312.4,227.5 314.8,227.4 317.2,227.4 319.5,227.4 321.9,227.4 324.3,227.4 326.6,227.3 329,227 331.4,226.8 333.7,226.4 336.1,226.1 338.5,225.7 340.8,225.4 343.2,224.9 345.6,224.5 347.9,223.9 350.3,223.3 352.7,222.7 355,222.3 357.4,221.9 359.8,221.5 362.1,221.1 364.5,220.7 366.9,220.3 369.2,220 371.6,219.6 374,219.2 376.3,218.8 378.7,218.5 381.1,218.1 383.4,217.8 385.8,217.4 388.2,217.1 390.5,216.7 392.9,216.4 395.3,216.1 397.6,215.8 400,215.4 402.4,215.1 404.7,214.7 407.1,214.2 409.5,213.8 411.8,213.4 414.2,213 416.6,212.6 418.9,212.2 421.3,211.8 423.7,211.5 426,211.1 428.4,210.8 430.8,210.5 433.1,210.1 435.5,209.8 437.9,209.5 440.2,209.1 442.6,208.8 445,208.6 447.3,208.4 449.7,208.3 452.1,208.1 454.4,207.9 456.8,207.7 459.2,207.6 461.5,207.4 463.9,207.2 466.3,207.1 468.6,206.9 471,206.8"/>
<polyline class="mb" points="211.3,192.8 214.8,194.5 218.4,196 221.9,197.4 225.5,198.6 229,199.9 232.6,201.1 236.1,202.4 239.7,203.6 243.2,204.8 246.8,206.2"/>
<polyline class="mo" points="115.4,145.9 117.8,147.3 120.1,148.7 122.5,150.1 124.9,151.5 127.2,152.9 129.6,154.3 132,155.6 134.3,156.9 136.7,158.2 139.1,159.5 141.4,160.8 143.8,162 146.2,163.2 148.5,164.5 150.9,165.7 153.3,166.8 155.6,167.9 158,169 160.4,170.1 162.7,171.1 165.1,172.1 167.5,173.1 169.8,174.1 172.2,175.1 174.6,176.1 176.9,177.1 179.3,178 181.7,179 184,180.1 186.4,181.1 188.8,182.2 191.1,183.2 193.5,184.3 195.9,185.4 198.2,186.4 200.6,187.5 203,188.7 205.3,189.9 207.7,191"/>
<polyline class="mo" points="250.3,207.8 252.7,208.9 255,210 257.4,211.1 259.8,212.2 262.1,213.5 264.5,214.8 266.9,216.1 269.2,217.4 271.6,218.6 274,219.8 276.3,221 278.7,222.2 281.1,223.3 283.4,224.3 285.8,225.3 288.2,226.1 290.5,227 292.9,227.7 295.3,228.3 297.6,228.9 300,229.5 302.4,229.5 304.7,229.5 307.1,229.5 309.5,229.5 311.8,229.5 314.2,229.5 316.6,229.5 318.9,229.5 321.3,229.5 323.7,229.5 326,229.3 328.4,229.1 330.8,228.8 333.1,228.5 335.5,228.1 337.9,227.8 340.2,227.5 342.6,227 345,226.5 347.3,226 349.7,225.4 352.1,224.8 354.4,224.4 356.8,224 359.2,223.6 361.5,223.2 363.9,222.8 366.3,222.4 368.6,222 371,221.7 373.4,221.3 375.7,220.9 378.1,220.6 380.5,220.2 382.8,219.9 385.2,219.5 387.6,219.2 389.9,218.8 392.3,218.5 394.7,218.2 397,217.8 399.4,217.5 401.8,217.1 404.1,216.7 406.5,216.3 408.9,215.9 411.2,215.5 413.6,215.1 416,214.7 418.3,214.3 420.7,213.9 423.1,213.5 425.4,213.2 427.8,212.9 430.2,212.5 432.5,212.2 434.9,211.9 437.3,211.5 439.6,211.2 442,210.9 444.4,210.7 446.7,210.5 449.1,210.3 451.5,210.1 453.8,209.9 456.2,209.8 458.6,209.6 460.9,209.4 463.3,209.3 465.7,209.1 468,208.9 470.4,208.8"/>
<polyline class="mo" points="114.8,148 117.2,149.4 119.5,150.8 121.9,152.2 124.3,153.6 126.6,155 129,156.4 131.4,157.7 133.7,159 136.1,160.3 138.5,161.6 140.8,162.9 143.2,164.1 145.6,165.3 147.9,166.5 150.3,167.7 152.7,168.8 155,169.9 157.4,171 159.8,172.1 162.1,173.2 164.5,174.2 166.9,175.2 169.2,176.2 171.6,177.2 174,178.2 176.3,179.1 178.7,180.1 181.1,181.1 183.4,182.2 185.8,183.2 188.2,184.2 190.5,185.3 192.9,186.4 195.3,187.5 197.6,188.6 200,189.6 202.4,190.8 204.7,192 207.1,193.2"/>
<polyline class="mo" points="249.7,209.9 252.1,211 254.4,212.2 256.8,213.3 259.2,214.3 261.5,215.6 263.9,216.9 266.3,218.2 268.6,219.6 271,220.7 273.4,221.9 275.7,223.1 278.1,224.3 280.5,225.4 282.8,226.4 285.2,227.3 287.6,228.2 289.9,229.1 292.3,229.7 294.7,230.4 297,231 299.4,231.5 301.8,231.6 304.1,231.6 306.5,231.6 308.9,231.6 311.2,231.6 313.6,231.6 316,231.6 318.3,231.6 320.7,231.6 323.1,231.6 325.4,231.4 327.8,231.1 330.2,230.9 332.5,230.5 334.9,230.2 337.3,229.8 339.6,229.5 342,229 344.4,228.6 346.7,228.1 349.1,227.5 351.5,226.9 353.8,226.4 356.2,226 358.6,225.6 360.9,225.2 363.3,224.9 365.7,224.5 368,224.1 370.4,223.7 372.8,223.4 375.1,223 377.5,222.6 379.9,222.3 382.2,221.9 384.6,221.6 387,221.2 389.3,220.9 391.7,220.6 394.1,220.2 396.4,219.9 398.8,219.6 401.2,219.2 403.5,218.8 405.9,218.4 408.3,218 410.6,217.6 413,217.1 415.4,216.7 417.7,216.3 420.1,215.9 422.5,215.6 424.8,215.3 427.2,214.9 429.6,214.6 431.9,214.2 434.3,213.9 436.7,213.6 439,213.2 441.4,212.9 443.8,212.7 446.1,212.5 448.5,212.3 450.9,212.1 453.2,212 455.6,211.8 458,211.6 460.3,211.4 462.7,211.3 465.1,211.1 467.4,211 469.8,210.8"/>
<polyline class="mb" points="210.5,195.4 214.1,197.2 217.6,198.7 221.2,200 224.7,201.2 228.3,202.5 231.8,203.8 235.4,205 238.9,206.3 242.5,207.4 246,208.8"/>
<polyline class="mo" points="114.2,150.1 116.6,151.5 118.9,152.9 121.3,154.3 123.7,155.7 126,157.1 128.4,158.4 130.8,159.8 133.1,161.1 135.5,162.4 137.9,163.7 140.2,164.9 142.6,166.2 145,167.4 147.3,168.6 149.7,169.8 152.1,170.9 154.4,172 156.8,173.1 159.2,174.2 161.5,175.2 163.9,176.2 166.3,177.2 168.6,178.2 171,179.2 173.4,180.2 175.7,181.2 178.1,182.2 180.5,183.2 182.8,184.2 185.2,185.3 187.6,186.3 189.9,187.4 192.3,188.5 194.7,189.6 197,190.6 199.4,191.7 201.8,192.9 204.1,194.1 206.5,195.2"/>
<polyline class="mo" points="249.1,212 251.5,213.1 253.8,214.3 256.2,215.4 258.6,216.5 260.9,217.7 263.3,219.1 265.7,220.4 268,221.7 270.4,222.9 272.8,224 275.1,225.2 277.5,226.3 279.9,227.5 282.2,228.4 284.6,229.4 287,230.3 289.3,231.1 291.7,231.8 294.1,232.4 296.4,233.1 298.8,233.6 301.2,233.6 303.5,233.6 305.9,233.6 308.3,233.7 310.6,233.7 313,233.6 315.4,233.6 317.7,233.6 320.1,233.6 322.5,233.6 324.8,233.4 327.2,233.2 329.6,232.9 331.9,232.6 334.3,232.2 336.7,231.9 339,231.5 341.4,231.1 343.8,230.6 346.1,230.1 348.5,229.5 350.9,228.9 353.2,228.5 355.6,228.1 358,227.7 360.3,227.3 362.7,226.9 365.1,226.5 367.4,226.2 369.8,225.8 372.2,225.4 374.5,225.1 376.9,224.7 379.3,224.3 381.6,224 384,223.6 386.4,223.3 388.7,222.9 391.1,222.6 393.5,222.3 395.8,221.9 398.2,221.6 400.6,221.2 402.9,220.8 405.3,220.4 407.7,220 410,219.6 412.4,219.2 414.8,218.8 417.1,218.4 419.5,218 421.9,217.6 424.2,217.3 426.6,216.9 429,216.6 431.3,216.3 433.7,215.9 436.1,215.6 438.4,215.2 440.8,214.9 443.2,214.7 445.5,214.5 447.9,214.3 450.3,214.1 452.6,214 455,213.8 457.4,213.6 459.7,213.4 462.1,213.3 464.5,213.1 466.8,212.9 469.2,212.8"/>
<polyline class="mb" points="209.8,198 213.3,199.8 216.9,201.3 220.4,202.6 224,203.8 227.5,205.1 231.1,206.4 234.6,207.6 238.2,208.9 241.7,210 245.3,211.4"/>
<polyline class="mo" points="113.6,152.2 116,153.6 118.4,155 120.7,156.4 123.1,157.7 125.5,159.1 127.8,160.5 130.2,161.9 132.6,163.2 134.9,164.4 137.3,165.7 139.7,167 142,168.2 144.4,169.4 146.8,170.6 149.1,171.8 151.5,172.9 153.9,174 156.2,175.1 158.6,176.2 161,177.2 163.3,178.3 165.7,179.3 168.1,180.3 170.4,181.3 172.8,182.3 175.2,183.2 177.5,184.2 179.9,185.2 182.3,186.3 184.6,187.3 187,188.4 189.4,189.5 191.7,190.5 194.1,191.6 196.5,192.7 198.8,193.8 201.2,195 203.6,196.1 205.9,197.3"/>
<polyline class="mo" points="250.9,215.3 253.3,216.4 255.6,217.5 258,218.6 260.4,219.9 262.7,221.2 265.1,222.5 267.5,223.8 269.8,225 272.2,226.1 274.6,227.3 276.9,228.4 279.3,229.5 281.7,230.5 284,231.4 286.4,232.3 288.8,233.1 291.1,233.8 293.5,234.4 295.9,235.1 298.2,235.6 300.6,235.7 303,235.7 305.3,235.7 307.7,235.7 310.1,235.7 312.4,235.7 314.8,235.7 317.2,235.7 319.5,235.7 321.9,235.7 324.3,235.5 326.6,235.2 329,234.9 331.4,234.6 333.7,234.2 336.1,233.9 338.5,233.5 340.8,233.1 343.2,232.6 345.6,232.1 347.9,231.5 350.3,231 352.7,230.5 355,230.1 357.4,229.7 359.8,229.3 362.1,229 364.5,228.6 366.9,228.2 369.2,227.8 371.6,227.5 374,227.1 376.3,226.7 378.7,226.3 381.1,226 383.4,225.6 385.8,225.3 388.2,224.9 390.5,224.6 392.9,224.3 395.3,223.9 397.6,223.6 400,223.2 402.4,222.8 404.7,222.4 407.1,222 409.5,221.6 411.8,221.2 414.2,220.8 416.6,220.4 418.9,220 421.3,219.6 423.7,219.3 426,218.9 428.4,218.6 430.8,218.3 433.1,217.9 435.5,217.6 437.9,217.2 440.2,216.9 442.6,216.7 445,216.5 447.3,216.3 449.7,216.1 452.1,215.9 454.4,215.7 456.8,215.6 459.2,215.4 461.5,215.2 463.9,215.1 466.3,214.9 468.6,214.7"/>
<polyline class="mb" points="209,200.6 212.6,202.4 216.1,203.9 219.7,205.2 223.2,206.4 226.8,207.7 230.3,208.9 233.9,210.2 237.4,211.4 241,212.6 244.5,214 248.1,215.7"/>
<polyline class="mo" points="113,154.3 115.4,155.7 117.8,157 120.1,158.4 122.5,159.8 124.9,161.2 127.2,162.6 129.6,163.9 132,165.2 134.3,166.5 136.7,167.8 139.1,169 141.4,170.2 143.8,171.5 146.2,172.7 148.5,173.9 150.9,175 153.3,176.1 155.6,177.2 158,178.3 160.4,179.3 162.7,180.3 165.1,181.3 167.5,182.3 169.8,183.3 172.2,184.3 174.6,185.3 176.9,186.3 179.3,187.3 181.7,188.3 184,189.4 186.4,190.5 188.8,191.5 191.1,192.6 193.5,193.7 195.9,194.8 198.2,195.9 200.6,197 203,198.2 205.3,199.4 207.7,200.6"/>
<polyline class="mo" points="250.3,217.3 252.7,218.5 255,219.6 257.4,220.7 259.8,222 262.1,223.3 264.5,224.6 266.9,225.9 269.2,227 271.6,228.2 274,229.3 276.3,230.4 278.7,231.5 281.1,232.5 283.4,233.4 285.8,234.3 288.2,235.2 290.5,235.8 292.9,236.5 295.3,237.1 297.6,237.6 300,237.7 302.4,237.7 304.7,237.7 307.1,237.7 309.5,237.7 311.8,237.7 314.2,237.7 316.6,237.7 318.9,237.7 321.3,237.7 323.7,237.5 326,237.2 328.4,236.9 330.8,236.6 333.1,236.2 335.5,235.9 337.9,235.5 340.2,235.1 342.6,234.6 345,234.1 347.3,233.5 349.7,233 352.1,232.5 354.4,232.1 356.8,231.7 359.2,231.3 361.5,231 363.9,230.6 366.3,230.2 368.6,229.8 371,229.5 373.4,229.1 375.7,228.7 378.1,228.3 380.5,228 382.8,227.6 385.2,227.3 387.6,226.9 389.9,226.6 392.3,226.3 394.7,225.9 397,225.6 399.4,225.2 401.8,224.8 404.1,224.4 406.5,224 408.9,223.6 411.2,223.2 413.6,222.8 416,222.4 418.3,222 420.7,221.6 423.1,221.3 425.4,220.9 427.8,220.6 430.2,220.2 432.5,219.9 434.9,219.5 437.3,219.2 439.6,218.9 442,218.6 444.4,218.4 446.7,218.2 449.1,218.1 451.5,217.9 453.8,217.7 456.2,217.5 458.6,217.3 460.9,217.2 463.3,217 465.7,216.8 468,216.6"/>
<polyline class="mb" points="211.8,204.9 215.4,206.4 218.9,207.7 222.5,209 226,210.2 229.6,211.5 233.1,212.8 236.7,214 240.2,215.2 243.8,216.6 247.3,218.2"/>
<polyline class="mo" points="112.4,156.3 114.8,157.7 117.2,159.1 119.5,160.5 121.9,161.9 124.3,163.3 126.6,164.6 129,166 131.4,167.3 133.7,168.5 136.1,169.8 138.5,171.1 140.8,172.3 143.2,173.5 145.6,174.7 147.9,175.9 150.3,177 152.7,178.1 155,179.2 157.4,180.3 159.8,181.3 162.1,182.3 164.5,183.3 166.9,184.3 169.2,185.3 171.6,186.3 174,187.3 176.3,188.3 178.7,189.3 181.1,190.4 183.4,191.4 185.8,192.5 188.2,193.6 190.5,194.7 192.9,195.8 195.3,196.8 197.6,197.9 200,199.1 202.4,200.3 204.7,201.4 207.1,202.6"/>
<polyline class="mo" points="252.1,220.6 254.4,221.7 256.8,222.8 259.2,224.1 261.5,225.3 263.9,226.6 266.3,227.9 268.6,229.1 271,230.2 273.4,231.3 275.7,232.5 278.1,233.6 280.5,234.5 282.8,235.4 285.2,236.3 287.6,237.1 289.9,237.8 292.3,238.5 294.7,239.1 297,239.6 299.4,239.7 301.8,239.7 304.1,239.7 306.5,239.7 308.9,239.7 311.2,239.7 313.6,239.7 316,239.7 318.3,239.7 320.7,239.7 323.1,239.5 325.4,239.2 327.8,238.9 330.2,238.5 332.5,238.2 334.9,237.8 337.3,237.5 339.6,237 342,236.6 344.4,236.1 346.7,235.5 349.1,235 351.5,234.5 353.8,234.1 356.2,233.7 358.6,233.3 360.9,233 363.3,232.6 365.7,232.2 368,231.8 370.4,231.5 372.8,231.1 375.1,230.7 377.5,230.3 379.9,230 382.2,229.6 384.6,229.3 387,228.9 389.3,228.6 391.7,228.2 394.1,227.9 396.4,227.5 398.8,227.2 401.2,226.8 403.5,226.4 405.9,225.9 408.3,225.5 410.6,225.1 413,224.7 415.4,224.3 417.7,223.9 420.1,223.6 422.5,223.2 424.8,222.9 427.2,222.5 429.6,222.2 431.9,221.8 434.3,221.5 436.7,221.1 439,220.8 441.4,220.5 443.8,220.4 446.1,220.2 448.5,220 450.9,219.8 453.2,219.6 455.6,219.4 458,219.2 460.3,219.1 462.7,218.9 465.1,218.7 467.4,218.5"/>
<polyline class="mo" points="111.8,158.4 114.2,159.8 116.6,161.1 118.9,162.5 121.3,163.9 123.7,165.3 126,166.7 128.4,168 130.8,169.3 133.1,170.6 135.5,171.8 137.9,173.1 140.2,174.3 142.6,175.5 145,176.7 147.3,177.9 149.7,179 152.1,180.1 154.4,181.2 156.8,182.3 159.2,183.3 161.5,184.3 163.9,185.3 166.3,186.3 168.6,187.3 171,188.3 173.4,189.3 175.7,190.3 178.1,191.3 180.5,192.4 182.8,193.5 185.2,194.5 187.6,195.6 189.9,196.7 192.3,197.8 194.7,198.9 197,200 199.4,201.1 201.8,202.3 204.1,203.5 206.5,204.7 208.9,205.8"/>
<polyline class="mo" points="251.5,222.6 253.8,223.8 256.2,224.9 258.6,226.1 260.9,227.4 263.3,228.7 265.7,230 268,231.1 270.4,232.3 272.8,233.4 275.1,234.5 277.5,235.6 279.9,236.5 282.2,237.4 284.6,238.3 287,239.1 289.3,239.8 291.7,240.4 294.1,241.1 296.4,241.6 298.8,241.7 301.2,241.7 303.5,241.7 305.9,241.7 308.3,241.7 310.6,241.7 313,241.7 315.4,241.6 317.7,241.6 320.1,241.6 322.5,241.4 324.8,241.1 327.2,240.8 329.6,240.5 331.9,240.1 334.3,239.8 336.7,239.4 339,239 341.4,238.5 343.8,238 346.1,237.5 348.5,236.9 350.9,236.5 353.2,236.1 355.6,235.7 358,235.3 360.3,234.9 362.7,234.6 365.1,234.2 367.4,233.8 369.8,233.4 372.2,233 374.5,232.7 376.9,232.3 379.3,231.9 381.6,231.6 384,231.2 386.4,230.9 388.7,230.5 391.1,230.2 393.5,229.8 395.8,229.5 398.2,229.1 400.6,228.7 402.9,228.3 405.3,227.9 407.7,227.5 410,227.1 412.4,226.7 414.8,226.3 417.1,225.9 419.5,225.5 421.9,225.2 424.2,224.8 426.6,224.4 429,224.1 431.3,223.7 433.7,223.4 436.1,223 438.4,222.7 440.8,222.4 443.2,222.3 445.5,222.1 447.9,221.9 450.3,221.7 452.6,221.5 455,221.3 457.4,221.1 459.7,221 462.1,220.8 464.5,220.6 466.8,220.4"/>
<polyline class="mb" points="211.1,207.5 214.7,209 218.2,210.3 221.8,211.5 225.3,212.8 228.9,214 232.4,215.3 236,216.5 239.5,217.7 243.1,219.1 246.6,220.8 250.2,222.6"/>
<polyline class="mo" points="111.3,160.4 113.6,161.8 116,163.2 118.4,164.6 120.7,166 123.1,167.3 125.5,168.7 127.8,170.1 130.2,171.3 132.6,172.6 134.9,173.9 137.3,175.1 139.7,176.3 142,177.5 144.4,178.7 146.8,179.9 149.1,181 151.5,182.1 153.9,183.2 156.2,184.3 158.6,185.3 161,186.3 163.3,187.3 165.7,188.3 168.1,189.3 170.4,190.3 172.8,191.3 175.2,192.3 177.5,193.3 179.9,194.4 182.3,195.5 184.6,196.5 187,197.6 189.4,198.7 191.7,199.8 194.1,200.9 196.5,202 198.8,203.2 201.2,204.3 203.6,205.5 205.9,206.7 208.3,207.8 210.7,209"/>
<polyline class="mo" points="253.3,225.8 255.6,226.9 258,228.2 260.4,229.5 262.7,230.8 265.1,232 267.5,233.2 269.8,234.3 272.2,235.4 274.6,236.5 276.9,237.5 279.3,238.5 281.7,239.4 284,240.2 286.4,241.1 288.8,241.7 291.1,242.4 293.5,243.1 295.9,243.6 298.2,243.6 300.6,243.6 303,243.6 305.3,243.6 307.7,243.6 310.1,243.6 312.4,243.6 314.8,243.6 317.2,243.6 319.5,243.6 321.9,243.4 324.3,243.1 326.6,242.8 329,242.4 331.4,242.1 333.7,241.7 336.1,241.4 338.5,240.9 340.8,240.5 343.2,240 345.6,239.4 347.9,238.9 350.3,238.5 352.7,238.1 355,237.7 357.4,237.3 359.8,236.9 362.1,236.5 364.5,236.1 366.9,235.7 369.2,235.4 371.6,235 374,234.6 376.3,234.2 378.7,233.9 381.1,233.5 383.4,233.2 385.8,232.8 388.2,232.4 390.5,232.1 392.9,231.7 395.3,231.4 397.6,231 400,230.6 402.4,230.2 404.7,229.8 407.1,229.4 409.5,229 411.8,228.6 414.2,228.2 416.6,227.8 418.9,227.4 421.3,227.1 423.7,226.7 426,226.4 428.4,226 430.8,225.6 433.1,225.3 435.5,224.9 437.9,224.6 440.2,224.3 442.6,224.1 445,223.9 447.3,223.8 449.7,223.6 452.1,223.4 454.4,223.2 456.8,223 459.2,222.8 461.5,222.6 463.9,222.4 466.3,222.3"/>
<polyline class="mb" points="213.9,211.5 217.5,212.8 221,214 224.6,215.3 228.1,216.5 231.7,217.8 235.2,219.1 238.8,220.2 242.3,221.7 245.9,223.4 249.4,225.1"/>
<polyline class="mo" points="110.7,162.5 113,163.8 115.4,165.2 117.8,166.6 120.1,168 122.5,169.4 124.9,170.7 127.2,172.1 129.6,173.3 132,174.6 134.3,175.9 136.7,177.1 139.1,178.3 141.4,179.5 143.8,180.7 146.2,181.9 148.5,183 150.9,184.1 153.3,185.2 155.6,186.2 158,187.3 160.4,188.3 162.7,189.3 165.1,190.3 167.5,191.3 169.8,192.3 172.2,193.3 174.6,194.3 176.9,195.3 179.3,196.4 181.7,197.5 184,198.6 186.4,199.6 188.8,200.7 191.1,201.8 193.5,202.9 195.9,204 198.2,205.2 200.6,206.3 203,207.5 205.3,208.7 207.7,209.9 210.1,211 212.4,212.1"/>
<polyline class="mo" points="255,229 257.4,230.2 259.8,231.5 262.1,232.8 264.5,234.1 266.9,235.2 269.2,236.3 271.6,237.4 274,238.4 276.3,239.5 278.7,240.5 281.1,241.4 283.4,242.2 285.8,243 288.2,243.7 290.5,244.3 292.9,245 295.3,245.5 297.6,245.6 300,245.6 302.4,245.6 304.7,245.6 307.1,245.6 309.5,245.6 311.8,245.5 314.2,245.5 316.6,245.5 318.9,245.5 321.3,245.3 323.7,245 326,244.7 328.4,244.3 330.8,244 333.1,243.6 335.5,243.3 337.9,242.8 340.2,242.4 342.6,241.9 345,241.4 347.3,240.8 349.7,240.4 352.1,240 354.4,239.6 356.8,239.2 359.2,238.8 361.5,238.4 363.9,238.1 366.3,237.7 368.6,237.3 371,236.9 373.4,236.5 375.7,236.2 378.1,235.8 380.5,235.4 382.8,235.1 385.2,234.7 387.6,234.4 389.9,234 392.3,233.6 394.7,233.3 397,232.9 399.4,232.5 401.8,232.1 404.1,231.7 406.5,231.3 408.9,230.9 411.2,230.5 413.6,230.1 416,229.7 418.3,229.3 420.7,228.9 423.1,228.6 425.4,228.2 427.8,227.9 430.2,227.5 432.5,227.1 434.9,226.8 437.3,226.4 439.6,226.2 442,226 444.4,225.8 446.7,225.6 449.1,225.4 451.5,225.2 453.8,225 456.2,224.8 458.6,224.6 460.9,224.5 463.3,224.3 465.7,224.1"/>
<polyline class="mb" points="216.7,215.3 220.3,216.5 223.8,217.8 227.4,219 230.9,220.3 234.5,221.5 238,222.7 241.6,224.2 245.1,225.9 248.7,227.7 252.2,229.4"/>
<polyline class="mo" points="110.1,164.5 112.4,165.9 114.8,167.2 117.2,168.6 119.5,170 121.9,171.4 124.3,172.8 126.6,174.1 129,175.3 131.4,176.6 133.7,177.9 136.1,179.1 138.5,180.3 140.8,181.5 143.2,182.7 145.6,183.9 147.9,185 150.3,186 152.7,187.1 155,188.2 157.4,189.2 159.8,190.3 162.1,191.3 164.5,192.3 166.9,193.3 169.2,194.3 171.6,195.3 174,196.3 176.3,197.3 178.7,198.4 181.1,199.5 183.4,200.5 185.8,201.6 188.2,202.7 190.5,203.8 192.9,204.9 195.3,206 197.6,207.2 200,208.3 202.4,209.5 204.7,210.7 207.1,211.9 209.5,213 211.8,214.1"/>
<polyline class="mo" points="254.4,231 256.8,232.2 259.2,233.5 261.5,234.8 263.9,236.1 266.3,237.2 268.6,238.3 271,239.3 273.4,240.4 275.7,241.4 278.1,242.4 280.5,243.3 282.8,244.1 285.2,244.9 287.6,245.6 289.9,246.3 292.3,246.9 294.7,247.5 297,247.5 299.4,247.5 301.8,247.5 304.1,247.5 306.5,247.5 308.9,247.5 311.2,247.5 313.6,247.5 316,247.5 318.3,247.5 320.7,247.2 323.1,246.9 325.4,246.6 327.8,246.2 330.2,245.9 332.5,245.5 334.9,245.1 337.3,244.7 339.6,244.3 342,243.8 344.4,243.3 346.7,242.7 349.1,242.3 351.5,241.9 353.8,241.5 356.2,241.1 358.6,240.7 360.9,240.3 363.3,240 365.7,239.6 368,239.2 370.4,238.8 372.8,238.4 375.1,238.1 377.5,237.7 379.9,237.3 382.2,237 384.6,236.6 387,236.2 389.3,235.9 391.7,235.5 394.1,235.2 396.4,234.8 398.8,234.4 401.2,234 403.5,233.6 405.9,233.2 408.3,232.7 410.6,232.3 413,231.9 415.4,231.5 417.7,231.2 420.1,230.8 422.5,230.4 424.8,230.1 427.2,229.7 429.6,229.4 431.9,229 434.3,228.6 436.7,228.3 439,228 441.4,227.8 443.8,227.6 446.1,227.4 448.5,227.2 450.9,227 453.2,226.8 455.6,226.6 458,226.5 460.3,226.3 462.7,226.1 465.1,225.9"/>
<polyline class="mb" points="216,217.8 219.5,219 223.1,220.3 226.6,221.5 230.2,222.8 233.7,224 237.3,225.2 240.8,226.6 244.4,228.4 247.9,230.2 251.5,231.9 255,233.6"/>
<polyline class="mo" points="109.5,166.5 111.8,167.9 114.2,169.2 116.6,170.6 118.9,172 121.3,173.4 123.7,174.8 126,176.1 128.4,177.3 130.8,178.6 133.1,179.8 135.5,181.1 137.9,182.3 140.2,183.5 142.6,184.7 145,185.8 147.3,186.9 149.7,188 152.1,189.1 154.4,190.2 156.8,191.2 159.2,192.2 161.5,193.2 163.9,194.3 166.3,195.3 168.6,196.3 171,197.3 173.4,198.3 175.7,199.3 178.1,200.4 180.5,201.4 182.8,202.5 185.2,203.6 187.6,204.7 189.9,205.8 192.3,206.9 194.7,208 197,209.2 199.4,210.3 201.8,211.5 204.1,212.7 206.5,213.8 208.9,215 211.2,216 213.6,216.9"/>
<polyline class="mo" points="256.2,234.2 258.6,235.5 260.9,236.8 263.3,238.1 265.7,239.2 268,240.2 270.4,241.3 272.8,242.3 275.1,243.4 277.5,244.3 279.9,245.2 282.2,246 284.6,246.8 287,247.5 289.3,248.2 291.7,248.9 294.1,249.4 296.4,249.4 298.8,249.4 301.2,249.4 303.5,249.4 305.9,249.4 308.3,249.4 310.6,249.4 313,249.4 315.4,249.4 317.7,249.4 320.1,249.1 322.5,248.8 324.8,248.5 327.2,248.1 329.6,247.7 331.9,247.4 334.3,247 336.7,246.6 339,246.1 341.4,245.7 343.8,245.1 346.1,244.6 348.5,244.2 350.9,243.8 353.2,243.4 355.6,243 358,242.6 360.3,242.2 362.7,241.9 365.1,241.5 367.4,241.1 369.8,240.7 372.2,240.3 374.5,239.9 376.9,239.6 379.3,239.2 381.6,238.8 384,238.5 386.4,238.1 388.7,237.7 391.1,237.4 393.5,237 395.8,236.6 398.2,236.2 400.6,235.8 402.9,235.4 405.3,235 407.7,234.6 410,234.2 412.4,233.8 414.8,233.4 417.1,233 419.5,232.6 421.9,232.3 424.2,231.9 426.6,231.5 429,231.2 431.3,230.8 433.7,230.4 436.1,230.1 438.4,229.8 440.8,229.6 443.2,229.4 445.5,229.2 447.9,229 450.3,228.8 452.6,228.6 455,228.4 457.4,228.2 459.7,228 462.1,227.9 464.5,227.7"/>
<polyline class="mo" points="108.9,168.5 111.3,169.9 113.6,171.2 116,172.6 118.4,174 120.7,175.4 123.1,176.7 125.5,178.1 127.8,179.3 130.2,180.6 132.6,181.8 134.9,183 137.3,184.2 139.7,185.4 142,186.6 144.4,187.8 146.8,188.9 149.1,190 151.5,191 153.9,192.1 156.2,193.1 158.6,194.2 161,195.2 163.3,196.2 165.7,197.2 168.1,198.2 170.4,199.2 172.8,200.2 175.2,201.3 177.5,202.3 179.9,203.4 182.3,204.5 184.6,205.6 187,206.7 189.4,207.8 191.7,208.9 194.1,210 196.5,211.1 198.8,212.3 201.2,213.5 203.6,214.7 205.9,215.8 208.3,217 210.7,218 213,218.9 215.4,219.7"/>
<polyline class="mo" points="258,237.5 260.4,238.8 262.7,240 265.1,241.1 267.5,242.2 269.8,243.2 272.2,244.3 274.6,245.3 276.9,246.2 279.3,247.1 281.7,247.9 284,248.7 286.4,249.4 288.8,250.1 291.1,250.8 293.5,251.3 295.9,251.3 298.2,251.3 300.6,251.3 303,251.3 305.3,251.3 307.7,251.3 310.1,251.3 312.4,251.2 314.8,251.2 317.2,251.2 319.5,251 321.9,250.7 324.3,250.3 326.6,250 329,249.6 331.4,249.2 333.7,248.9 336.1,248.4 338.5,248 340.8,247.5 343.2,247 345.6,246.5 347.9,246.1 350.3,245.7 352.7,245.3 355,244.9 357.4,244.5 359.8,244.1 362.1,243.7 364.5,243.3 366.9,242.9 369.2,242.6 371.6,242.2 374,241.8 376.3,241.4 378.7,241 381.1,240.7 383.4,240.3 385.8,239.9 388.2,239.6 390.5,239.2 392.9,238.8 395.3,238.5 397.6,238 400,237.6 402.4,237.2 404.7,236.8 407.1,236.4 409.5,236 411.8,235.6 414.2,235.2 416.6,234.8 418.9,234.5 421.3,234.1 423.7,233.7 426,233.4 428.4,233 430.8,232.6 433.1,232.2 435.5,231.9 437.9,231.6 440.2,231.4 442.6,231.2 445,231 447.3,230.8 449.7,230.6 452.1,230.4 454.4,230.2 456.8,230 459.2,229.8 461.5,229.6 463.9,229.4"/>
<polyline class="mb" points="218.8,221.5 222.3,222.7 225.9,224 229.4,225.2 233,226.4 236.5,227.6 240.1,229.1 243.6,230.8 247.2,232.6 250.7,234.4 254.3,236.1"/>
<polyline class="mo" points="108.3,170.5 110.7,171.9 113,173.2 115.4,174.6 117.8,176 120.1,177.4 122.5,178.7 124.9,180.1 127.2,181.3 129.6,182.5 132,183.8 134.3,185 136.7,186.2 139.1,187.4 141.4,188.6 143.8,189.7 146.2,190.8 148.5,191.9 150.9,193 153.3,194 155.6,195.1 158,196.1 160.4,197.1 162.7,198.1 165.1,199.1 167.5,200.1 169.8,201.1 172.2,202.2 174.6,203.2 176.9,204.3 179.3,205.4 181.7,206.4 184,207.5 186.4,208.6 188.8,209.7 191.1,210.8 193.5,212 195.9,213.1 198.2,214.3 200.6,215.4 203,216.6 205.3,217.8 207.7,218.9 210.1,220 212.4,220.8 214.8,221.7 217.2,222.5"/>
<polyline class="mo" points="259.8,240.7 262.1,242 264.5,243.1 266.9,244.1 269.2,245.1 271.6,246.2 274,247.2 276.3,248.1 278.7,249 281.1,249.8 283.4,250.6 285.8,251.3 288.2,252 290.5,252.6 292.9,253.2 295.3,253.2 297.6,253.2 300,253.2 302.4,253.2 304.7,253.1 307.1,253.1 309.5,253.1 311.8,253.1 314.2,253.1 316.6,253.1 318.9,252.8 321.3,252.5 323.7,252.2 326,251.8 328.4,251.4 330.8,251.1 333.1,250.7 335.5,250.3 337.9,249.8 340.2,249.4 342.6,248.9 345,248.4 347.3,247.9 349.7,247.5 352.1,247.1 354.4,246.7 356.8,246.3 359.2,246 361.5,245.6 363.9,245.2 366.3,244.8 368.6,244.4 371,244 373.4,243.6 375.7,243.3 378.1,242.9 380.5,242.5 382.8,242.1 385.2,241.8 387.6,241.4 389.9,241 392.3,240.7 394.7,240.3 397,239.9 399.4,239.4 401.8,239 404.1,238.6 406.5,238.2 408.9,237.8 411.2,237.4 413.6,237 416,236.6 418.3,236.3 420.7,235.9 423.1,235.5 425.4,235.1 427.8,234.8 430.2,234.4 432.5,234 434.9,233.6 437.3,233.4 439.6,233.2 442,233 444.4,232.7 446.7,232.5 449.1,232.3 451.5,232.1 453.8,231.9 456.2,231.7 458.6,231.5 460.9,231.3 463.3,231.1"/>
<polyline class="mb" points="221.6,225.1 225.2,226.4 228.7,227.6 232.3,228.9 235.8,230.1 239.4,231.5 242.9,233.3 246.5,235.1 250,236.8 253.6,238.6 257.1,240.5"/>
<polyline class="mo" points="107.7,172.5 110.1,173.8 112.4,175.2 114.8,176.6 117.2,178 119.5,179.3 121.9,180.7 124.3,182 126.6,183.3 129,184.5 131.4,185.7 133.7,186.9 136.1,188.1 138.5,189.3 140.8,190.5 143.2,191.7 145.6,192.7 147.9,193.8 150.3,194.9 152.7,196 155,197 157.4,198 159.8,199 162.1,200.1 164.5,201.1 166.9,202.1 169.2,203.1 171.6,204.1 174,205.1 176.3,206.2 178.7,207.3 181.1,208.4 183.4,209.5 185.8,210.6 188.2,211.7 190.5,212.8 192.9,213.9 195.3,215.1 197.6,216.2 200,217.4 202.4,218.5 204.7,219.7 207.1,220.9 209.5,221.9 211.8,222.8 214.2,223.6 216.6,224.4 218.9,225.3"/>
<polyline class="mo" points="259.2,242.7 261.5,243.9 263.9,245 266.3,246 268.6,247.1 271,248.1 273.4,249.1 275.7,250 278.1,250.9 280.5,251.7 282.8,252.5 285.2,253.1 287.6,253.8 289.9,254.5 292.3,255 294.7,255 297,255 299.4,255 301.8,255 304.1,255 306.5,255 308.9,255 311.2,255 313.6,254.9 316,254.9 318.3,254.7 320.7,254.3 323.1,254 325.4,253.6 327.8,253.3 330.2,252.9 332.5,252.5 334.9,252.1 337.3,251.6 339.6,251.2 342,250.7 344.4,250.2 346.7,249.8 349.1,249.4 351.5,249 353.8,248.6 356.2,248.2 358.6,247.8 360.9,247.4 363.3,247 365.7,246.6 368,246.2 370.4,245.8 372.8,245.4 375.1,245.1 377.5,244.7 379.9,244.3 382.2,243.9 384.6,243.6 387,243.2 389.3,242.8 391.7,242.4 394.1,242 396.4,241.6 398.8,241.2 401.2,240.8 403.5,240.4 405.9,240 408.3,239.6 410.6,239.2 413,238.8 415.4,238.4 417.7,238 420.1,237.6 422.5,237.3 424.8,236.9 427.2,236.5 429.6,236.1 431.9,235.8 434.3,235.4 436.7,235.1 439,234.9 441.4,234.7 443.8,234.5 446.1,234.3 448.5,234.1 450.9,233.8 453.2,233.6 455.6,233.4 458,233.2 460.3,233 462.7,232.8"/>
<polyline class="mb" points="224.4,228.8 228,230 231.5,231.3 235.1,232.5 238.6,233.9 242.2,235.7 245.7,237.5 249.3,239.3 252.8,241 256.4,242.9"/>
<polyline class="mo" points="107.1,174.4 109.5,175.8 111.8,177.2 114.2,178.6 116.6,179.9 118.9,181.3 121.3,182.7 123.7,184 126,185.2 128.4,186.4 130.8,187.7 133.1,188.9 135.5,190 137.9,191.2 140.2,192.4 142.6,193.6 145,194.7 147.3,195.7 149.7,196.8 152.1,197.9 154.4,198.9 156.8,199.9 159.2,200.9 161.5,202 163.9,203 166.3,204 168.6,205 171,206 173.4,207 175.7,208.1 178.1,209.2 180.5,210.3 182.8,211.4 185.2,212.5 187.6,213.6 189.9,214.7 192.3,215.8 194.7,217 197,218.1 199.4,219.3 201.8,220.5 204.1,221.6 206.5,222.8 208.9,223.8 211.2,224.7 213.6,225.5 216,226.4 218.3,227.2 220.7,228"/>
<polyline class="mo" points="260.9,245.9 263.3,246.9 265.7,247.9 268,248.9 270.4,250 272.8,250.9 275.1,251.9 277.5,252.7 279.9,253.5 282.2,254.3 284.6,255 287,255.7 289.3,256.3 291.7,256.9 294.1,256.9 296.4,256.9 298.8,256.9 301.2,256.8 303.5,256.8 305.9,256.8 308.3,256.8 310.6,256.8 313,256.8 315.4,256.8 317.7,256.5 320.1,256.2 322.5,255.8 324.8,255.4 327.2,255.1 329.6,254.7 331.9,254.3 334.3,253.9 336.7,253.4 339,253 341.4,252.5 343.8,252 346.1,251.6 348.5,251.2 350.9,250.8 353.2,250.4 355.6,250 358,249.6 360.3,249.2 362.7,248.8 365.1,248.4 367.4,248 369.8,247.6 372.2,247.2 374.5,246.9 376.9,246.5 379.3,246.1 381.6,245.7 384,245.3 386.4,245 388.7,244.6 391.1,244.2 393.5,243.8 395.8,243.4 398.2,243 400.6,242.6 402.9,242.2 405.3,241.8 407.7,241.3 410,240.9 412.4,240.5 414.8,240.1 417.1,239.8 419.5,239.4 421.9,239 424.2,238.6 426.6,238.2 429,237.9 431.3,237.5 433.7,237.1 436.1,236.8 438.4,236.6 440.8,236.4 443.2,236.2 445.5,236 447.9,235.7 450.3,235.5 452.6,235.3 455,235.1 457.4,234.9 459.7,234.7 462.1,234.5"/>
<polyline class="mb" points="227.2,232.4 230.8,233.6 234.3,234.8 237.9,236.3 241.4,238.1 245,239.9 248.5,241.7 252.1,243.4 255.6,245.3 259.2,247.2 262.7,248.8"/>
<polyline class="mo" points="106.5,176.4 108.9,177.8 111.3,179.1 113.6,180.5 116,181.9 118.4,183.2 120.7,184.6 123.1,185.9 125.5,187.1 127.8,188.4 130.2,189.6 132.6,190.8 134.9,192 137.3,193.2 139.7,194.3 142,195.5 144.4,196.6 146.8,197.6 149.1,198.7 151.5,199.8 153.9,200.8 156.2,201.8 158.6,202.8 161,203.9 163.3,204.9 165.7,205.9 168.1,206.9 170.4,207.9 172.8,209 175.2,210 177.5,211.1 179.9,212.2 182.3,213.3 184.6,214.4 187,215.5 189.4,216.7 191.7,217.8 194.1,218.9 196.5,220 198.8,221.2 201.2,222.4 203.6,223.6 205.9,224.7 208.3,225.7 210.7,226.6 213,227.4 215.4,228.3 217.8,229.1 220.1,229.9 222.5,230.7"/>
<polyline class="mo" points="265.1,249.8 267.5,250.8 269.8,251.8 272.2,252.8 274.6,253.7 276.9,254.6 279.3,255.3 281.7,256.1 284,256.8 286.4,257.5 288.8,258.2 291.1,258.7 293.5,258.7 295.9,258.7 298.2,258.7 300.6,258.7 303,258.6 305.3,258.6 307.7,258.6 310.1,258.6 312.4,258.6 314.8,258.6 317.2,258.3 319.5,258 321.9,257.6 324.3,257.2 326.6,256.8 329,256.4 331.4,256.1 333.7,255.6 336.1,255.2 338.5,254.8 340.8,254.3 343.2,253.8 345.6,253.4 347.9,253 350.3,252.6 352.7,252.2 355,251.8 357.4,251.4 359.8,251 362.1,250.6 364.5,250.2 366.9,249.8 369.2,249.4 371.6,249 374,248.6 376.3,248.2 378.7,247.8 381.1,247.5 383.4,247.1 385.8,246.7 388.2,246.3 390.5,245.9 392.9,245.5 395.3,245.1 397.6,244.7 400,244.3 402.4,243.9 404.7,243.5 407.1,243.1 409.5,242.7 411.8,242.3 414.2,241.9 416.6,241.5 418.9,241.1 421.3,240.7 423.7,240.3 426,239.9 428.4,239.6 430.8,239.2 433.1,238.8 435.5,238.5 437.9,238.3 440.2,238.1 442.6,237.8 445,237.6 447.3,237.4 449.7,237.2 452.1,237 454.4,236.8 456.8,236.6 459.2,236.3 461.5,236.1"/>
<polyline class="mo" points="105.9,178.4 108.3,179.7 110.7,181.1 113,182.5 115.4,183.8 117.8,185.2 120.1,186.6 122.5,187.9 124.9,189.1 127.2,190.3 129.6,191.5 132,192.7 134.3,193.9 136.7,195.1 139.1,196.2 141.4,197.4 143.8,198.5 146.2,199.5 148.5,200.6 150.9,201.7 153.3,202.7 155.6,203.7 158,204.7 160.4,205.8 162.7,206.8 165.1,207.8 167.5,208.8 169.8,209.8 172.2,210.8 174.6,211.9 176.9,213 179.3,214.1 181.7,215.2 184,216.3 186.4,217.4 188.8,218.6 191.1,219.7 193.5,220.8 195.9,222 198.2,223.1 200.6,224.3 203,225.5 205.3,226.6 207.7,227.6 210.1,228.5 212.4,229.3 214.8,230.2 217.2,231 219.5,231.8 221.9,232.6 224.3,233.5"/>
<polyline class="mo" points="266.9,252.7 269.2,253.7 271.6,254.6 274,255.5 276.3,256.4 278.7,257.1 281.1,257.9 283.4,258.6 285.8,259.3 288.2,260 290.5,260.5 292.9,260.5 295.3,260.5 297.6,260.5 300,260.5 302.4,260.4 304.7,260.4 307.1,260.4 309.5,260.4 311.8,260.4 314.2,260.4 316.6,260.1 318.9,259.7 321.3,259.4 323.7,259 326,258.6 328.4,258.2 330.8,257.8 333.1,257.4 335.5,257 337.9,256.5 340.2,256 342.6,255.6 345,255.2 347.3,254.7 349.7,254.3 352.1,253.9 354.4,253.5 356.8,253.1 359.2,252.7 361.5,252.3 363.9,251.9 366.3,251.6 368.6,251.2 371,250.8 373.4,250.4 375.7,250 378.1,249.6 380.5,249.2 382.8,248.8 385.2,248.4 387.6,248 389.9,247.7 392.3,247.3 394.7,246.8 397,246.4 399.4,246 401.8,245.6 404.1,245.2 406.5,244.8 408.9,244.4 411.2,244 413.6,243.6 416,243.2 418.3,242.8 420.7,242.4 423.1,242 425.4,241.6 427.8,241.2 430.2,240.8 432.5,240.5 434.9,240.2 437.3,239.9 439.6,239.7 442,239.5 444.4,239.3 446.7,239.1 449.1,238.8 451.5,238.6 453.8,238.4 456.2,238.2 458.6,238 460.9,237.8"/>
<polyline class="mb" points="226.5,234.7 230,236 233.6,237.2 237.1,238.7 240.7,240.5 244.2,242.3 247.8,244.1 251.3,245.8 254.9,247.7 258.4,249.5 262,251.2"/>
<polyline class="mo" points="105.3,180.3 107.7,181.7 110.1,183 112.4,184.4 114.8,185.8 117.2,187.1 119.5,188.5 121.9,189.8 124.3,191 126.6,192.2 129,193.4 131.4,194.6 133.7,195.8 136.1,197 138.5,198.1 140.8,199.3 143.2,200.4 145.6,201.4 147.9,202.5 150.3,203.5 152.7,204.6 155,205.6 157.4,206.6 159.8,207.6 162.1,208.6 164.5,209.7 166.9,210.7 169.2,211.7 171.6,212.7 174,213.8 176.3,214.9 178.7,216 181.1,217.1 183.4,218.2 185.8,219.3 188.2,220.5 190.5,221.6 192.9,222.7 195.3,223.8 197.6,225 200,226.2 202.4,227.3 204.7,228.5 207.1,229.5 209.5,230.4 211.8,231.2 214.2,232 216.6,232.9 218.9,233.7 221.3,234.5 223.7,235.3 226,236.2"/>
<polyline class="mo" points="266.3,254.5 268.6,255.5 271,256.4 273.4,257.3 275.7,258.2 278.1,258.9 280.5,259.7 282.8,260.4 285.2,261.1 287.6,261.8 289.9,262.3 292.3,262.3 294.7,262.3 297,262.3 299.4,262.2 301.8,262.2 304.1,262.2 306.5,262.2 308.9,262.2 311.2,262.1 313.6,262.1 316,261.8 318.3,261.5 320.7,261.1 323.1,260.7 325.4,260.3 327.8,259.9 330.2,259.6 332.5,259.1 334.9,258.7 337.3,258.3 339.6,257.8 342,257.3 344.4,256.9 346.7,256.5 349.1,256.1 351.5,255.7 353.8,255.3 356.2,254.9 358.6,254.5 360.9,254.1 363.3,253.7 365.7,253.3 368,252.9 370.4,252.5 372.8,252.1 375.1,251.7 377.5,251.3 379.9,250.9 382.2,250.5 384.6,250.1 387,249.7 389.3,249.4 391.7,248.9 394.1,248.5 396.4,248.1 398.8,247.7 401.2,247.3 403.5,246.9 405.9,246.5 408.3,246.1 410.6,245.7 413,245.3 415.4,244.9 417.7,244.5 420.1,244.1 422.5,243.7 424.8,243.3 427.2,242.9 429.6,242.5 431.9,242.1 434.3,241.8 436.7,241.6 439,241.3 441.4,241.1 443.8,240.9 446.1,240.7 448.5,240.5 450.9,240.2 453.2,240 455.6,239.8 458,239.6 460.3,239.3"/>
<polyline class="mb" points="229.3,238.3 232.8,239.5 236.4,241 239.9,242.8 243.5,244.7 247,246.4 250.6,248.2 254.1,250 257.7,251.9 261.2,253.5 264.8,254.9"/>
<polyline class="mo" points="104.7,182.2 107.1,183.6 109.5,185 111.8,186.3 114.2,187.7 116.6,189 118.9,190.4 121.3,191.7 123.7,192.9 126,194.1 128.4,195.3 130.8,196.5 133.1,197.7 135.5,198.8 137.9,200 140.2,201.2 142.6,202.2 145,203.3 147.3,204.3 149.7,205.4 152.1,206.4 154.4,207.4 156.8,208.5 159.2,209.5 161.5,210.5 163.9,211.5 166.3,212.5 168.6,213.5 171,214.6 173.4,215.7 175.7,216.8 178.1,217.9 180.5,219 182.8,220.1 185.2,221.2 187.6,222.3 189.9,223.5 192.3,224.6 194.7,225.7 197,226.9 199.4,228.1 201.8,229.2 204.1,230.4 206.5,231.4 208.9,232.2 211.2,233.1 213.6,233.9 216,234.7 218.3,235.5 220.7,236.4 223.1,237.2 225.4,238 227.8,238.8"/>
<polyline class="mo" points="268,257.3 270.4,258.2 272.8,259.1 275.1,260 277.5,260.7 279.9,261.5 282.2,262.2 284.6,262.8 287,263.5 289.3,264.1 291.7,264.1 294.1,264 296.4,264 298.8,264 301.2,264 303.5,264 305.9,263.9 308.3,263.9 310.6,263.9 313,263.9 315.4,263.6 317.7,263.2 320.1,262.8 322.5,262.4 324.8,262.1 327.2,261.7 329.6,261.3 331.9,260.8 334.3,260.4 336.7,260 339,259.5 341.4,259.1 343.8,258.6 346.1,258.2 348.5,257.8 350.9,257.4 353.2,257 355.6,256.6 358,256.2 360.3,255.8 362.7,255.4 365.1,255 367.4,254.6 369.8,254.2 372.2,253.8 374.5,253.4 376.9,253 379.3,252.6 381.6,252.2 384,251.8 386.4,251.4 388.7,251 391.1,250.6 393.5,250.2 395.8,249.8 398.2,249.4 400.6,249 402.9,248.6 405.3,248.1 407.7,247.7 410,247.3 412.4,246.9 414.8,246.5 417.1,246.1 419.5,245.7 421.9,245.3 424.2,244.9 426.6,244.5 429,244.1 431.3,243.7 433.7,243.4 436.1,243.2 438.4,243 440.8,242.7 443.2,242.5 445.5,242.3 447.9,242 450.3,241.8 452.6,241.6 455,241.4 457.4,241.1 459.7,240.9"/>
<polyline class="mb" points="232.1,241.8 235.7,243.3 239.2,245.2 242.8,247 246.3,248.8 249.9,250.5 253.4,252.4 257,254.2 260.5,255.8 264.1,257.2 267.6,258.6"/>
<polyline class="mo" points="104.2,184.2 106.5,185.5 108.9,186.9 111.3,188.2 113.6,189.6 116,191 118.4,192.3 120.7,193.6 123.1,194.8 125.5,196 127.8,197.2 130.2,198.4 132.6,199.5 134.9,200.7 137.3,201.9 139.7,203 142,204.1 144.4,205.1 146.8,206.2 149.1,207.2 151.5,208.3 153.9,209.3 156.2,210.3 158.6,211.3 161,212.4 163.3,213.4 165.7,214.4 168.1,215.4 170.4,216.5 172.8,217.6 175.2,218.7 177.5,219.8 179.9,220.9 182.3,222 184.6,223.1 187,224.2 189.4,225.3 191.7,226.5 194.1,227.6 196.5,228.8 198.8,229.9 201.2,231.1 203.6,232.2 205.9,233.3 208.3,234.1 210.7,234.9 213,235.7 215.4,236.6 217.8,237.4 220.1,238.2 222.5,239 224.9,239.8 227.2,240.7"/>
<polyline class="mo" points="269.8,260 272.2,260.9 274.6,261.7 276.9,262.5 279.3,263.2 281.7,263.9 284,264.6 286.4,265.3 288.8,265.8 291.1,265.8 293.5,265.8 295.9,265.8 298.2,265.7 300.6,265.7 303,265.7 305.3,265.7 307.7,265.6 310.1,265.6 312.4,265.6 314.8,265.3 317.2,264.9 319.5,264.6 321.9,264.2 324.3,263.8 326.6,263.4 329,263 331.4,262.5 333.7,262.1 336.1,261.7 338.5,261.2 340.8,260.8 343.2,260.4 345.6,259.9 347.9,259.5 350.3,259.1 352.7,258.7 355,258.3 357.4,257.9 359.8,257.5 362.1,257.1 364.5,256.7 366.9,256.3 369.2,255.9 371.6,255.5 374,255.1 376.3,254.7 378.7,254.3 381.1,253.9 383.4,253.5 385.8,253.1 388.2,252.7 390.5,252.3 392.9,251.9 395.3,251.4 397.6,251 400,250.6 402.4,250.2 404.7,249.8 407.1,249.4 409.5,248.9 411.8,248.5 414.2,248.1 416.6,247.7 418.9,247.3 421.3,246.9 423.7,246.5 426,246.1 428.4,245.7 430.8,245.3 433.1,245 435.5,244.8 437.9,244.5 440.2,244.3 442.6,244.1 445,243.8 447.3,243.6 449.7,243.4 452.1,243.1 454.4,242.9 456.8,242.7 459.2,242.5"/>
<polyline class="mb" points="231.4,244.1 234.9,245.6 238.5,247.5 242,249.3 245.6,251.1 249.1,252.9 252.7,254.7 256.2,256.5 259.8,258.1 263.3,259.5 266.9,260.9"/>
<polyline class="mo" points="103.6,186.1 105.9,187.4 108.3,188.8 110.7,190.1 113,191.5 115.4,192.9 117.8,194.2 120.1,195.5 122.5,196.7 124.9,197.9 127.2,199.1 129.6,200.2 132,201.4 134.3,202.6 136.7,203.7 139.1,204.9 141.4,205.9 143.8,207 146.2,208 148.5,209.1 150.9,210.1 153.3,211.1 155.6,212.2 158,213.2 160.4,214.2 162.7,215.2 165.1,216.2 167.5,217.2 169.8,218.3 172.2,219.4 174.6,220.5 176.9,221.6 179.3,222.7 181.7,223.8 184,224.9 186.4,226.1 188.8,227.2 191.1,228.3 193.5,229.4 195.9,230.6 198.2,231.8 200.6,232.9 203,234.1 205.3,235.1 207.7,235.9 210.1,236.8 212.4,237.6 214.8,238.4 217.2,239.2 219.5,240 221.9,240.9 224.3,241.7 226.6,242.5 229,243.3"/>
<polyline class="mo" points="271.6,262.7 274,263.5 276.3,264.2 278.7,265 281.1,265.6 283.4,266.3 285.8,267 288.2,267.6 290.5,267.5 292.9,267.5 295.3,267.5 297.6,267.5 300,267.4 302.4,267.4 304.7,267.4 307.1,267.4 309.5,267.3 311.8,267.3 314.2,267 316.6,266.6 318.9,266.2 321.3,265.8 323.7,265.4 326,265 328.4,264.6 330.8,264.2 333.1,263.8 335.5,263.4 337.9,262.9 340.2,262.5 342.6,262.1 345,261.6 347.3,261.2 349.7,260.8 352.1,260.4 354.4,260 356.8,259.6 359.2,259.2 361.5,258.8 363.9,258.4 366.3,258 368.6,257.5 371,257.1 373.4,256.7 375.7,256.3 378.1,255.9 380.5,255.5 382.8,255.1 385.2,254.7 387.6,254.3 389.9,253.9 392.3,253.5 394.7,253.1 397,252.6 399.4,252.2 401.8,251.8 404.1,251.4 406.5,251 408.9,250.6 411.2,250.2 413.6,249.7 416,249.3 418.3,248.9 420.7,248.5 423.1,248.1 425.4,247.7 427.8,247.3 430.2,246.9 432.5,246.6 434.9,246.3 437.3,246.1 439.6,245.9 442,245.6 444.4,245.4 446.7,245.1 449.1,244.9 451.5,244.7 453.8,244.4 456.2,244.2 458.6,244"/>
<polyline class="mo" points="103,188 105.3,189.3 107.7,190.7 110.1,192 112.4,193.4 114.8,194.7 117.2,196.1 119.5,197.4 121.9,198.6 124.3,199.7 126.6,200.9 129,202.1 131.4,203.3 133.7,204.4 136.1,205.6 138.5,206.7 140.8,207.8 143.2,208.8 145.6,209.9 147.9,210.9 150.3,211.9 152.7,213 155,214 157.4,215 159.8,216 162.1,217 164.5,218.1 166.9,219.1 169.2,220.1 171.6,221.2 174,222.3 176.3,223.5 178.7,224.6 181.1,225.7 183.4,226.8 185.8,227.9 188.2,229 190.5,230.1 192.9,231.3 195.3,232.4 197.6,233.6 200,234.8 202.4,235.9 204.7,236.9 207.1,237.8 209.5,238.6 211.8,239.4 214.2,240.2 216.6,241 218.9,241.8 221.3,242.7 223.7,243.5 226,244.3 228.4,245.1 230.8,245.9"/>
<polyline class="mo" points="271,264.4 273.4,265.2 275.7,265.9 278.1,266.7 280.5,267.4 282.8,268.1 285.2,268.7 287.6,269.3 289.9,269.3 292.3,269.2 294.7,269.2 297,269.2 299.4,269.2 301.8,269.1 304.1,269.1 306.5,269.1 308.9,269 311.2,269 313.6,268.7 316,268.3 318.3,267.9 320.7,267.5 323.1,267.1 325.4,266.7 327.8,266.3 330.2,265.9 332.5,265.4 334.9,265 337.3,264.6 339.6,264.1 342,263.7 344.4,263.3 346.7,262.9 349.1,262.5 351.5,262.1 353.8,261.7 356.2,261.3 358.6,260.8 360.9,260.4 363.3,260 365.7,259.6 368,259.2 370.4,258.8 372.8,258.4 375.1,258 377.5,257.6 379.9,257.1 382.2,256.7 384.6,256.3 387,255.9 389.3,255.5 391.7,255.1 394.1,254.7 396.4,254.2 398.8,253.8 401.2,253.4 403.5,253 405.9,252.6 408.3,252.2 410.6,251.7 413,251.3 415.4,250.9 417.7,250.5 420.1,250.1 422.5,249.7 424.8,249.3 427.2,248.8 429.6,248.4 431.9,248.1 434.3,247.9 436.7,247.6 439,247.4 441.4,247.1 443.8,246.9 446.1,246.7 448.5,246.4 450.9,246.2 453.2,245.9 455.6,245.7 458,245.5"/>
<polyline class="mb" points="234.2,247.9 237.7,249.7 241.3,251.6 244.8,253.4 248.4,255.1 251.9,257 255.5,258.8 259,260.3 262.6,261.7 266.1,263.1 269.7,264.4"/>
<polyline class="mo" points="102.4,189.9 104.7,191.2 107.1,192.6 109.5,193.9 111.8,195.3 114.2,196.6 116.6,198 118.9,199.3 121.3,200.4 123.7,201.6 126,202.8 128.4,203.9 130.8,205.1 133.1,206.3 135.5,207.4 137.9,208.6 140.2,209.6 142.6,210.7 145,211.7 147.3,212.7 149.7,213.8 152.1,214.8 154.4,215.8 156.8,216.8 159.2,217.8 161.5,218.9 163.9,219.9 166.3,220.9 168.6,222 171,223.1 173.4,224.2 175.7,225.3 178.1,226.4 180.5,227.5 182.8,228.6 185.2,229.7 187.6,230.8 189.9,232 192.3,233.1 194.7,234.3 197,235.4 199.4,236.6 201.8,237.7 204.1,238.7 206.5,239.6 208.9,240.4 211.2,241.2 213.6,242 216,242.8 218.3,243.6 220.7,244.5 223.1,245.3 225.4,246.1 227.8,246.9 230.2,247.7 232.5,248.6"/>
<polyline class="mo" points="272.8,266.9 275.1,267.6 277.5,268.4 279.9,269.1 282.2,269.8 284.6,270.5 287,271 289.3,271 291.7,270.9 294.1,270.9 296.4,270.9 298.8,270.8 301.2,270.8 303.5,270.8 305.9,270.7 308.3,270.7 310.6,270.7 313,270.4 315.4,270 317.7,269.6 320.1,269.2 322.5,268.7 324.8,268.3 327.2,267.9 329.6,267.5 331.9,267.1 334.3,266.7 336.7,266.2 339,265.8 341.4,265.4 343.8,265 346.1,264.5 348.5,264.1 350.9,263.7 353.2,263.3 355.6,262.9 358,262.5 360.3,262.1 362.7,261.6 365.1,261.2 367.4,260.8 369.8,260.4 372.2,260 374.5,259.6 376.9,259.2 379.3,258.7 381.6,258.3 384,257.9 386.4,257.5 388.7,257.1 391.1,256.7 393.5,256.2 395.8,255.8 398.2,255.4 400.6,255 402.9,254.6 405.3,254.1 407.7,253.7 410,253.3 412.4,252.9 414.8,252.5 417.1,252 419.5,251.6 421.9,251.2 424.2,250.8 426.6,250.4 429,249.9 431.3,249.6 433.7,249.4 436.1,249.1 438.4,248.9 440.8,248.6 443.2,248.4 445.5,248.1 447.9,247.8 450.3,247.5 452.6,247.3 455,247 457.4,246.7"/>
<polyline class="mb" points="237,252 240.5,253.9 244.1,255.6 247.6,257.4 251.2,259.2 254.7,261 258.3,262.6 261.8,263.9 265.4,265.2 268.9,266.5"/>
<polyline class="mo" points="101.8,191.8 104.2,193.1 106.5,194.5 108.9,195.8 111.3,197.1 113.6,198.5 116,199.8 118.4,201.1 120.7,202.3 123.1,203.5 125.5,204.6 127.8,205.8 130.2,206.9 132.6,208.1 134.9,209.2 137.3,210.4 139.7,211.4 142,212.5 144.4,213.5 146.8,214.5 149.1,215.6 151.5,216.6 153.9,217.6 156.2,218.6 158.6,219.6 161,220.7 163.3,221.7 165.7,222.7 168.1,223.8 170.4,224.9 172.8,226 175.2,227.1 177.5,228.2 179.9,229.3 182.3,230.4 184.6,231.5 187,232.7 189.4,233.8 191.7,234.9 194.1,236.1 196.5,237.2 198.8,238.4 201.2,239.5 203.6,240.6 205.9,241.4 208.3,242.2 210.7,243 213,243.8 215.4,244.6 217.8,245.4 220.1,246.2 222.5,247.1 224.9,247.9 227.2,248.7 229.6,249.5 232,250.4 234.3,251.6"/>
<polyline class="mo" points="274.6,269.3 276.9,270 279.3,270.7 281.7,271.4 284,272.1 286.4,272.7 288.8,272.6 291.1,272.6 293.5,272.6 295.9,272.5 298.2,272.5 300.6,272.5 303,272.4 305.3,272.4 307.7,272.4 310.1,272.3 312.4,272 314.8,271.6 317.2,271.2 319.5,270.8 321.9,270.4 324.3,270 326.6,269.5 329,269.1 331.4,268.7 333.7,268.3 336.1,267.9 338.5,267.4 340.8,267 343.2,266.6 345.6,266.2 347.9,265.8 350.3,265.3 352.7,264.9 355,264.5 357.4,264.1 359.8,263.7 362.1,263.3 364.5,262.8 366.9,262.4 369.2,262 371.6,261.6 374,261.2 376.3,260.7 378.7,260.3 381.1,259.8 383.4,259.4 385.8,258.9 388.2,258.5 390.5,258 392.9,257.6 395.3,257.1 397.6,256.6 400,256.2 402.4,255.7 404.7,255.3 407.1,254.8 409.5,254.4 411.8,253.9 414.2,253.5 416.6,253 418.9,252.5 421.3,252.1 423.7,251.6 426,251.2 428.4,250.7 430.8,250.4 433.1,250.1 435.5,249.8 437.9,249.6 440.2,249.3"/>
<polyline class="mp" points="442.6,249 445,248.7 447.3,248.5 449.7,248.2 452.1,247.9 454.4,247.6 456.8,247.4"/>
<polyline class="mb" points="239.8,256.1 243.3,257.9 246.9,259.7 250.4,261.4 254,263.2 257.5,264.8 261.1,266.1 264.6,267.4 268.2,268.7 271.7,269.9"/>
<polyline class="mo" points="101.2,193.6 103.6,195 105.9,196.3 108.3,197.7 110.7,199 113,200.4 115.4,201.7 117.8,203 120.1,204.1 122.5,205.3 124.9,206.4 127.2,207.6 129.6,208.8 132,209.9 134.3,211.1 136.7,212.2 139.1,213.2 141.4,214.3 143.8,215.3 146.2,216.3 148.5,217.4 150.9,218.4 153.3,219.4 155.6,220.4 158,221.4 160.4,222.5 162.7,223.5 165.1,224.5 167.5,225.6 169.8,226.7 172.2,227.8 174.6,228.9 176.9,230 179.3,231.1 181.7,232.2 184,233.4 186.4,234.5 188.8,235.6 191.1,236.7 193.5,237.9 195.9,239 198.2,240.2 200.6,241.3 203,242.3 205.3,243.2 207.7,244 210.1,244.8 212.4,245.6 214.8,246.4 217.2,247.2 219.5,248 221.9,248.8 224.3,249.6 226.6,250.4 229,251.2 231.4,252.2 233.7,253.4 236.1,254.7 238.5,255.9"/>
<polyline class="mo" points="276.3,271.7 278.7,272.4 281.1,273.1 283.4,273.8 285.8,274.3 288.2,274.3 290.5,274.3 292.9,274.2 295.3,274.2 297.6,274.2 300,274.1 302.4,274.1 304.7,274.1 307.1,274 309.5,274 311.8,273.6 314.2,273.2 316.6,272.7 318.9,272.3 321.3,271.8 323.7,271.4 326,270.9 328.4,270.5 330.8,270 333.1,269.6 335.5,269.1 337.9,268.6 340.2,268.2 342.6,267.7 345,267.3 347.3,266.8 349.7,266.4 352.1,265.9 354.4,265.5 356.8,265 359.2,264.5 361.5,264.1 363.9,263.6 366.3,263.2 368.6,262.7 371,262.3 373.4,261.8"/>
<polyline class="mp" points="375.7,261.4 378.1,260.9 380.5,260.5 382.8,260 385.2,259.5 387.6,259.1 389.9,258.6 392.3,258.2 394.7,257.7 397,257.3 399.4,256.8 401.8,256.4 404.1,255.9 406.5,255.5 408.9,255 411.2,254.5 413.6,254.1 416,253.6 418.3,253.2 420.7,252.7 423.1,252.3 425.4,251.8 427.8,251.4 430.2,251 432.5,250.7 434.9,250.5 437.3,250.2 439.6,249.9 442,249.6 444.4,249.4 446.7,249.1 449.1,248.8 451.5,248.5 453.8,248.3 456.2,248"/>
<polyline class="mb" points="246.2,261.9 249.7,263.6 253.3,265.3 256.8,266.7 260.4,268 263.9,269.2 267.5,270.4"/>
<polyline class="mc" points="271,271.6 274.6,272.6 278.1,273.6"/>
<polyline class="mo" points="100.6,195.5 103,196.8 105.3,198.2 107.7,199.5 110.1,200.9 112.4,202.2 114.8,203.5 117.2,204.8 119.5,206 121.9,207.1 124.3,208.3 126.6,209.4 129,210.6 131.4,211.7 133.7,212.9 136.1,214 138.5,215 140.8,216.1 143.2,217.1 145.6,218.1 147.9,219.1 150.3,220.2 152.7,221.2 155,222.2 157.4,223.2 159.8,224.2 162.1,225.3 164.5,226.3 166.9,227.3 169.2,228.5 171.6,229.6 174,230.7 176.3,231.8 178.7,232.9 181.1,234 183.4,235.1 185.8,236.3 188.2,237.4 190.5,238.5 192.9,239.6 195.3,240.8 197.6,242 200,243.1 202.4,244.1 204.7,244.9 207.1,245.7 209.5,246.5 211.8,247.3 214.2,248.2 216.6,249 218.9,249.8 221.3,250.6 223.7,251.4 226,252.2 228.4,253 230.8,253.9 233.1,255.2 235.5,256.4 237.9,257.7 240.2,258.9 242.6,260.1 245,261.3"/>
<polyline class="mo" points="280.5,274.2 282.8,274.9 285.2,275.4 287.6,275.3 289.9,275.2 292.3,275.2 294.7,275.1 297,275 299.4,274.9 301.8,274.9 304.1,274.8 306.5,274.7 308.9,274.7"/>
<polyline class="mp" points="311.2,274.3 313.6,273.8 316,273.4 318.3,272.9 320.7,272.5 323.1,272 325.4,271.6 327.8,271.1 330.2,270.7 332.5,270.2 334.9,269.7 337.3,269.3 339.6,268.8 342,268.4 344.4,267.9 346.7,267.4 349.1,267 351.5,266.5 353.8,266.1 356.2,265.6 358.6,265.2 360.9,264.7 363.3,264.3 365.7,263.8 368,263.4 370.4,262.9 372.8,262.4 375.1,262 377.5,261.5 379.9,261.1 382.2,260.6 384.6,260.2 387,259.7 389.3,259.3 391.7,258.8 394.1,258.4 396.4,257.9 398.8,257.5 401.2,257 403.5,256.5 405.9,256.1 408.3,255.6 410.6,255.2 413,254.7 415.4,254.2 417.7,253.8 420.1,253.3 422.5,252.9 424.8,252.4 427.2,252 429.6,251.6 431.9,251.4 434.3,251.1 436.7,250.8 439,250.6 441.4,250.3 443.8,250 446.1,249.7 448.5,249.5 450.9,249.2 453.2,248.9 455.6,248.6"/>
<polyline class="mo" points="100,197.4 102.4,198.7 104.7,200 107.1,201.4 109.5,202.7 111.8,204 114.2,205.4 116.6,206.6 118.9,207.8 121.3,208.9 123.7,210.1 126,211.2 128.4,212.4 130.8,213.5 133.1,214.7 135.5,215.8 137.9,216.8 140.2,217.8 142.6,218.9 145,219.9 147.3,220.9 149.7,221.9 152.1,222.9 154.4,224 156.8,225 159.2,226 161.5,227 163.9,228 166.3,229.1 168.6,230.2 171,231.3 173.4,232.5 175.7,233.6 178.1,234.7 180.5,235.8 182.8,236.9 185.2,238 187.6,239 189.9,240.1 192.3,241.2 194.7,242.3 197,243.4 199.4,244.5 201.8,245.5 204.1,246.2 206.5,247 208.9,247.8 211.2,248.5 213.6,249.3 216,250.1 218.3,250.8 220.7,251.6 223.1,252.3 225.4,253.1 227.8,253.9 230.2,254.7 232.5,255.9 234.9,257.2 237.3,258.4 239.6,259.6 242,260.7 244.4,261.8"/>
<polyline class="mp" points="246.7,263 246.7,263"/>
<polyline class="mp" points="284.6,276 287,275.9 289.3,275.9 291.7,275.8 294.1,275.7 296.4,275.7 298.8,275.6 301.2,275.5 303.5,275.4 305.9,275.4 308.3,275.3 310.6,274.9 313,274.5 315.4,274.1 317.7,273.6 320.1,273.2 322.5,272.7 324.8,272.2 327.2,271.8 329.6,271.3 331.9,270.8 334.3,270.4 336.7,269.9 339,269.4 341.4,269 343.8,268.5 346.1,268.1 348.5,267.6 350.9,267.2 353.2,266.7 355.6,266.2 358,265.8 360.3,265.3 362.7,264.9 365.1,264.4 367.4,264 369.8,263.5 372.2,263.1 374.5,262.6 376.9,262.2 379.3,261.7 381.6,261.3 384,260.8 386.4,260.4 388.7,259.9 391.1,259.4 393.5,259 395.8,258.5 398.2,258.1 400.6,257.6 402.9,257.2 405.3,256.7 407.7,256.3 410,255.8 412.4,255.3 414.8,254.9 417.1,254.4 419.5,253.9 421.9,253.5 424.2,253.1 426.6,252.6 429,252.2 431.3,252 433.7,251.7 436.1,251.5 438.4,251.2 440.8,250.9 443.2,250.7 445.5,250.4 447.9,250.1 450.3,249.8 452.6,249.6 455,249.3"/>
<polyline class="mb" points="249,264.3 252.5,266 256.1,267.5 259.6,268.7 263.2,270 266.7,271.2"/>
<polyline class="mc" points="270.3,272.4 273.8,273.4 277.4,274.4 280.9,275.4"/>
<polyline class="mo" points="99.4,199.2 101.8,200.5 104.1,201.9 106.5,203.2 108.9,204.5 111.2,205.9 113.6,207.2 116,208.4 118.3,209.5 120.7,210.6 123.1,211.7 125.4,212.8 127.8,213.9 130.2,215 132.5,216.1 134.9,217.2 137.3,218.2 139.6,219.2 142,220.2 144.4,221.1 146.7,222.1 149.1,223.1 151.5,224.1 153.8,225 156.2,226 158.6,227 160.9,228 163.3,229 165.7,230 168,231 170.4,232.1 172.8,233.2 175.1,234.3 177.5,235.3 179.9,236.4"/>
<polyline class="mp" points="182.2,237.5 184.6,238.5 187,239.6 189.3,240.7 191.7,241.8 194.1,242.9 196.4,244 198.8,245.1 201.2,246.1 203.5,246.8 205.9,247.6 208.3,248.3 210.6,249.1 213,249.9 215.4,250.6 217.7,251.4 220.1,252.1 222.5,252.9 224.8,253.7 227.2,254.4 229.6,255.3 231.9,256.5 234.3,257.7 236.7,258.9 239,260.1 241.4,261.2 243.8,262.4 246.1,263.5"/>
<polyline class="mp" points="286.4,276.6 288.7,276.5 291.1,276.4 293.5,276.4 295.8,276.3 298.2,276.2 300.6,276.2 302.9,276.1 305.3,276 307.7,276 310,275.6 312.4,275.2 314.8,274.7 317.1,274.3 319.5,273.8 321.9,273.4 324.2,272.9 326.6,272.4 329,271.9 331.3,271.5 333.7,271 336.1,270.5 338.4,270.1 340.8,269.6 343.2,269.2 345.5,268.7 347.9,268.2 350.3,267.8 352.6,267.3 355,266.9 357.4,266.4 359.7,266 362.1,265.5 364.5,265.1 366.8,264.6 369.2,264.2 371.6,263.7 373.9,263.2 376.3,262.8 378.7,262.3 381,261.9 383.4,261.4 385.8,261 388.1,260.5 390.5,260.1 392.9,259.6 395.2,259.2 397.6,258.7 400,258.3 402.3,257.8 404.7,257.4 407.1,256.9 409.4,256.4 411.8,256 414.2,255.5 416.5,255 418.9,254.6 421.3,254.1 423.6,253.7 426,253.2 428.4,252.9 430.7,252.6 433.1,252.4 435.5,252.1 437.8,251.8 440.2,251.6 442.6,251.3 444.9,251 447.3,250.8 449.7,250.5 452,250.2 454.4,249.9"/>
<polyline class="mb" points="251.8,266.7 255.3,268.2 258.9,269.5 262.4,270.8 266,272"/>
<polyline class="mc" points="269.5,273.2 273.1,274.2 276.6,275.2 280.2,276.2 283.7,277"/>
<polyline class="mo" points="98.8,200.1 101.2,201.4 103.6,202.7 105.9,204 108.3,205.3 110.7,206.5 113,207.8"/>
<polyline class="mp" points="115.4,209 117.8,210.1 120.1,211.2 122.5,212.3 124.9,213.4 127.2,214.5 129.6,215.6 132,216.7 134.3,217.8 136.7,218.8 139.1,219.8 141.4,220.8 143.8,221.8 146.2,222.7 148.5,223.7 150.9,224.7 153.3,225.7 155.6,226.6 158,227.6 160.4,228.6 162.7,229.6 165.1,230.6 167.5,231.7 169.8,232.7 172.2,233.8 174.6,234.9 176.9,235.9 179.3,237 181.7,238.1 184,239.1 186.4,240.2 188.8,241.3 191.1,242.4 193.5,243.5 195.9,244.6 198.2,245.7 200.6,246.6 203,247.4 205.3,248.2 207.7,248.9 210.1,249.7 212.4,250.4 214.8,251.2 217.2,252 219.5,252.7 221.9,253.5 224.3,254.2 226.6,255 229,255.9 231.4,257.1 233.7,258.2 236.1,259.4 238.5,260.6 240.8,261.8 243.2,262.9 245.6,264.1 247.9,265.3"/>
<polyline class="mp" points="288.2,277.2 290.5,277.1 292.9,277 295.3,277 297.6,276.9 300,276.8 302.4,276.8 304.7,276.7 307.1,276.6 309.5,276.3 311.8,275.8 314.2,275.4 316.6,274.9 318.9,274.5 321.3,274.1 323.7,273.6 326,273.1 328.4,272.6 330.8,272.1 333.1,271.7 335.5,271.2 337.9,270.7 340.2,270.3 342.6,269.8 345,269.3 347.3,268.9 349.7,268.4 352.1,268 354.4,267.5 356.8,267.1 359.2,266.6 361.5,266.1 363.9,265.7 366.3,265.2 368.6,264.8 371,264.3 373.4,263.9 375.7,263.4 378.1,263 380.5,262.5 382.8,262.1 385.2,261.6 387.6,261.2 389.9,260.7 392.3,260.3 394.7,259.8 397,259.4 399.4,258.9 401.8,258.5 404.1,258 406.5,257.5 408.9,257.1 411.2,256.6 413.6,256.1 416,255.7 418.3,255.2 420.7,254.7 423.1,254.3 425.4,253.9 427.8,253.5 430.2,253.3 432.5,253 434.9,252.7 437.3,252.5 439.6,252.2 442,251.9 444.4,251.7 446.7,251.4 449.1,251.1 451.5,250.9 453.8,250.6"/>
<polyline class="mb" points="251,267.5 254.6,269 258.1,270.3 261.7,271.6 265.2,272.8 268.8,274"/>
<polyline class="mc" points="272.3,275 275.9,276.1 279.4,277 283,277.8 286.5,277.7"/>
<polyline class="mp" points="98.2,200.7 100.6,202 103,203.3 105.3,204.6 107.7,205.8 110.1,207.1 112.4,208.4 114.8,209.6 117.2,210.7 119.5,211.8 121.9,212.9 124.3,214 126.6,215.1 129,216.2 131.4,217.3 133.7,218.4 136.1,219.4 138.5,220.4 140.8,221.4 143.2,222.4 145.6,223.4 147.9,224.3 150.3,225.3 152.7,226.3 155,227.3 157.4,228.3 159.8,229.2 162.1,230.2 164.5,231.2 166.9,232.3 169.2,233.3 171.6,234.4 174,235.5 176.3,236.5 178.7,237.6 181.1,238.7 183.4,239.7 185.8,240.8 188.2,241.9 190.5,243 192.9,244.1 195.3,245.2 197.6,246.3 200,247.2 202.4,248 204.7,248.7 207.1,249.5 209.5,250.3 211.8,251 214.2,251.8 216.6,252.5 218.9,253.3 221.3,254.1 223.7,254.8 226,255.6 228.4,256.4 230.8,257.6 233.1,258.8 235.5,260 237.9,261.2 240.2,262.3 242.6,263.5 245,264.7 247.3,265.8 249.7,267"/>
<polyline class="mp" points="289.9,277.8 292.3,277.7 294.7,277.6 297,277.6 299.4,277.5 301.8,277.4 304.1,277.4 306.5,277.3 308.9,276.9 311.2,276.5 313.6,276.1 316,275.6 318.3,275.2 320.7,274.7 323.1,274.3 325.4,273.8 327.8,273.3 330.2,272.8 332.5,272.3 334.9,271.8 337.3,271.4 339.6,270.9 342,270.4 344.4,270 346.7,269.5 349.1,269 351.5,268.6 353.8,268.1 356.2,267.7 358.6,267.2 360.9,266.8 363.3,266.3 365.7,265.9 368,265.4 370.4,265 372.8,264.5 375.1,264.1 377.5,263.6 379.9,263.2 382.2,262.7 384.6,262.3 387,261.8 389.3,261.4 391.7,260.9 394.1,260.5 396.4,260 398.8,259.5 401.2,259.1 403.5,258.6 405.9,258.2 408.3,257.7 410.6,257.2 413,256.8 415.4,256.3 417.7,255.8 420.1,255.4 422.5,254.9 424.8,254.5 427.2,254.1 429.6,253.9 431.9,253.6 434.3,253.4 436.7,253.1 439,252.9 441.4,252.6 443.8,252.3 446.1,252.1 448.5,251.8 450.9,251.5 453.2,251.2"/>
<polyline class="mb" points="253.8,269.7 257.4,271.1 260.9,272.4 264.5,273.6 268,274.8"/>
<polyline class="mc" points="271.6,275.9 275.1,276.9 278.7,277.8 282.2,278.6 285.8,278.5 289.3,278.4"/>
<polyline class="mp" points="97.6,201.3 100,202.6 102.4,203.9 104.7,205.2 107.1,206.4 109.5,207.7 111.8,209 114.2,210.2 116.6,211.3 118.9,212.4 121.3,213.5 123.7,214.6 126,215.7 128.4,216.8 130.8,217.9 133.1,219 135.5,220 137.9,221 140.2,222 142.6,223 145,224 147.3,225 149.7,226 152.1,226.9 154.4,227.9 156.8,228.9 159.2,229.9 161.5,230.8 163.9,231.8 166.3,232.9 168.6,234 171,235 173.4,236.1 175.7,237.1 178.1,238.2 180.5,239.3 182.8,240.3 185.2,241.4 187.6,242.5 189.9,243.6 192.3,244.7 194.7,245.8 197,246.8 199.4,247.8 201.8,248.6 204.1,249.3 206.5,250.1 208.9,250.8 211.2,251.6 213.6,252.4 216,253.1 218.3,253.9 220.7,254.6 223.1,255.4 225.4,256.2 227.8,257 230.2,258.2 232.5,259.4 234.9,260.5 237.3,261.7 239.6,262.9 242,264.1 244.4,265.2 246.7,266.4 249.1,267.6 251.5,268.8"/>
<polyline class="mp" points="291.7,278.3 294.1,278.3 296.4,278.2 298.8,278.2 301.2,278.1 303.5,278 305.9,278 308.3,277.6 310.6,277.2 313,276.7 315.4,276.3 317.7,275.9 320.1,275.4 322.5,274.9 324.8,274.4 327.2,273.9 329.6,273.4 331.9,273 334.3,272.5 336.7,272 339,271.5 341.4,271.1 343.8,270.6 346.1,270.1 348.5,269.7 350.9,269.2 353.2,268.8 355.6,268.3 358,267.9 360.3,267.4 362.7,267 365.1,266.5 367.4,266.1 369.8,265.6 372.2,265.2 374.5,264.7 376.9,264.3 379.3,263.8 381.6,263.4 384,262.9 386.4,262.5 388.7,262 391.1,261.5 393.5,261.1 395.8,260.6 398.2,260.2 400.6,259.7 402.9,259.3 405.3,258.8 407.7,258.4 410,257.9 412.4,257.4 414.8,256.9 417.1,256.4 419.5,256 421.9,255.6 424.2,255.1 426.6,254.8 429,254.5 431.3,254.3 433.7,254 436.1,253.8 438.4,253.5 440.8,253.2 443.2,253 445.5,252.7 447.9,252.4 450.3,252.2 452.6,251.9"/>
<polyline class="mp" points="97,201.8 99.4,203.2 101.8,204.5 104.1,205.8 106.5,207 108.9,208.3 111.2,209.6 113.6,210.8 116,211.9 118.3,213 120.7,214.1 123.1,215.2 125.4,216.3 127.8,217.5 130.2,218.6 132.5,219.7 134.9,220.7 137.3,221.7 139.6,222.7 142,223.7 144.4,224.6 146.7,225.6 149.1,226.6 151.5,227.6 153.8,228.5 156.2,229.5 158.6,230.5 160.9,231.5 163.3,232.5 165.7,233.5 168,234.6 170.4,235.6 172.8,236.7 175.1,237.7 177.5,238.8 179.9,239.9 182.2,240.9 184.6,242 187,243.1 189.3,244.2 191.7,245.3 194.1,246.4 196.4,247.4 198.8,248.4 201.2,249.1 203.5,249.9 205.9,250.7 208.3,251.4 210.6,252.2 213,253 215.4,253.7 217.7,254.5 220.1,255.2 222.5,256 224.8,256.7 227.2,257.6 229.6,258.8 231.9,259.9 234.3,261.1 236.7,262.2 239,263.4 241.4,264.6 243.8,265.8 246.1,267 248.5,268.2 250.9,269.4"/>
<polyline class="mp" points="293.5,278.9 295.8,278.9 298.2,278.8 300.6,278.8 302.9,278.7 305.3,278.6 307.7,278.3 310,277.8 312.4,277.4 314.8,277 317.1,276.5 319.5,276.1 321.9,275.6 324.2,275.1 326.6,274.6 329,274.1 331.3,273.6 333.7,273.1 336.1,272.7 338.4,272.2 340.8,271.7 343.2,271.2 345.5,270.8 347.9,270.3 350.3,269.9 352.6,269.4 355,269 357.4,268.5 359.7,268.1 362.1,267.6 364.5,267.2 366.8,266.7 369.2,266.3 371.6,265.8 373.9,265.4 376.3,264.9 378.7,264.5 381,264 383.4,263.5 385.8,263.1 388.1,262.6 390.5,262.2 392.9,261.7 395.2,261.3 397.6,260.8 400,260.4 402.3,259.9 404.7,259.5 407.1,259 409.4,258.5 411.8,258 414.2,257.6 416.5,257.1 418.9,256.6 421.3,256.2 423.6,255.8 426,255.4 428.4,255.2 430.7,254.9 433.1,254.7 435.5,254.4 437.8,254.2 440.2,253.9 442.6,253.6 444.9,253.4 447.3,253.1 449.7,252.8 452,252.5"/>
<polyline class="mb" points="253.1,270.5 256.7,271.9 260.2,273.2 263.8,274.4 267.3,275.7"/>
<polyline class="mc" points="270.9,276.7 274.4,277.8 278,278.7 281.5,279.4 285.1,279.3 288.6,279.2"/>
<polyline class="mp" points="96.5,202.4 98.8,203.8 101.2,205.1 103.6,206.4 105.9,207.6 108.3,208.9 110.7,210.2 113,211.4 115.4,212.5 117.8,213.6 120.1,214.7 122.5,215.9 124.9,217 127.2,218.1 129.6,219.2 132,220.3 134.3,221.3 136.7,222.3 139.1,223.3 141.4,224.3 143.8,225.3 146.2,226.3 148.5,227.2 150.9,228.2 153.3,229.2 155.6,230.2 158,231.1 160.4,232.1 162.7,233.1 165.1,234.2 167.5,235.2 169.8,236.3 172.2,237.3 174.6,238.4 176.9,239.4 179.3,240.5 181.7,241.5 184,242.6 186.4,243.7 188.8,244.8 191.1,245.9 193.5,247 195.9,248 198.2,249 200.6,249.7 203,250.5 205.3,251.3 207.7,252 210.1,252.8 212.4,253.6 214.8,254.3 217.2,255.1 219.5,255.8 221.9,256.6 224.3,257.3 226.6,258.2 229,259.3 231.4,260.5 233.7,261.6 236.1,262.8 238.5,264 240.8,265.2 243.2,266.4 245.6,267.6 247.9,268.8 250.3,270 252.7,271"/>
<polyline class="mp" points="295.3,279.6 297.6,279.5 300,279.4 302.4,279.4 304.7,279.3 307.1,279 309.5,278.5 311.8,278.1 314.2,277.7 316.6,277.2 318.9,276.8 321.3,276.3 323.7,275.8 326,275.3 328.4,274.8 330.8,274.3 333.1,273.8 335.5,273.3 337.9,272.8 340.2,272.4 342.6,271.9 345,271.4 347.3,271 349.7,270.5 352.1,270.1 354.4,269.6 356.8,269.2 359.2,268.7 361.5,268.3 363.9,267.8 366.3,267.4 368.6,266.9 371,266.5 373.4,266 375.7,265.5 378.1,265.1 380.5,264.6 382.8,264.2 385.2,263.7 387.6,263.3 389.9,262.8 392.3,262.4 394.7,261.9 397,261.5 399.4,261 401.8,260.6 404.1,260.1 406.5,259.7 408.9,259.2 411.2,258.7 413.6,258.2 416,257.7 418.3,257.3 420.7,256.8 423.1,256.4 425.4,256.1 427.8,255.8 430.2,255.6 432.5,255.3 434.9,255.1 437.3,254.8 439.6,254.6 442,254.3 444.4,254 446.7,253.7 449.1,253.5 451.5,253.2"/>
<polyline class="mb" points="255.9,272.7 259.5,274 263,275.3 266.6,276.5"/>
<polyline class="mc" points="270.1,277.6 273.7,278.6 277.2,279.5 280.8,280.2 284.3,280.2 287.9,280.1 291.4,280"/>
<polyline class="mp" points="95.9,203 98.2,204.4 100.6,205.7 103,207 105.3,208.3 107.7,209.5 110.1,210.8 112.4,212 114.8,213.1 117.2,214.3 119.5,215.4 121.9,216.5 124.3,217.6 126.6,218.7 129,219.8 131.4,220.9 133.7,221.9 136.1,222.9 138.5,224 140.8,224.9 143.2,225.9 145.6,226.9 147.9,227.9 150.3,228.9 152.7,229.8 155,230.8 157.4,231.8 159.8,232.8 162.1,233.8 164.5,234.8 166.9,235.9 169.2,236.9 171.6,237.9 174,239 176.3,240 178.7,241.1 181.1,242.2 183.4,243.2 185.8,244.3 188.2,245.4 190.5,246.5 192.9,247.6 195.3,248.6 197.6,249.6 200,250.3 202.4,251.1 204.7,251.9 207.1,252.6 209.5,253.4 211.8,254.2 214.2,254.9 216.6,255.7 218.9,256.4 221.3,257.2 223.7,257.9 226,258.8 228.4,259.9 230.8,261 233.1,262.2 235.5,263.4 237.9,264.6 240.2,265.8 242.6,267 245,268.2 247.3,269.4 249.7,270.6 252.1,271.6 254.4,272.6"/>
<polyline class="mp" points="294.7,280.2 297,280.2 299.4,280.1 301.8,280 304.1,280 306.5,279.6 308.9,279.2 311.2,278.8 313.6,278.4 316,277.9 318.3,277.5 320.7,277 323.1,276.5 325.4,275.9 327.8,275.4 330.2,274.9 332.5,274.4 334.9,274 337.3,273.5 339.6,273 342,272.5 344.4,272.1 346.7,271.6 349.1,271.2 351.5,270.7 353.8,270.3 356.2,269.8 358.6,269.4 360.9,268.9 363.3,268.5 365.7,268 368,267.6 370.4,267.1 372.8,266.6 375.1,266.2 377.5,265.7 379.9,265.3 382.2,264.8 384.6,264.4 387,263.9 389.3,263.5 391.7,263 394.1,262.6 396.4,262.1 398.8,261.7 401.2,261.2 403.5,260.8 405.9,260.3 408.3,259.8 410.6,259.3 413,258.8 415.4,258.3 417.7,257.9 420.1,257.5 422.5,257.1 424.8,256.7 427.2,256.5 429.6,256.2 431.9,256 434.3,255.7 436.7,255.5 439,255.2 441.4,254.9 443.8,254.7 446.1,254.4 448.5,254.1 450.9,253.9"/>
<polyline class="mb" points="258.7,274.8 262.3,276.1 265.8,277.3"/>
<polyline class="mc" points="269.4,278.4 272.9,279.5 276.5,280.4 280,281.1 283.6,281 287.1,280.9 290.7,280.8 294.2,280.7"/>
<polyline class="mp" points="95.3,203.7 97.6,205 100,206.3 102.4,207.6 104.7,208.9 107.1,210.2 109.5,211.4 111.8,212.7 114.2,213.8 116.6,214.9 118.9,216 121.3,217.1 123.7,218.2 126,219.3 128.4,220.5 130.8,221.6 133.1,222.6 135.5,223.6 137.9,224.6 140.2,225.6 142.6,226.6 145,227.6 147.3,228.5 149.7,229.5 152.1,230.5 154.4,231.5 156.8,232.4 159.2,233.4 161.5,234.4 163.9,235.5 166.3,236.5 168.6,237.5 171,238.6 173.4,239.6 175.7,240.7 178.1,241.7 180.5,242.8 182.8,243.9 185.2,244.9 187.6,246 189.9,247.1 192.3,248.2 194.7,249.3 197,250.2 199.4,251 201.8,251.7 204.1,252.5 206.5,253.2 208.9,254 211.2,254.8 213.6,255.5 216,256.3 218.3,257 220.7,257.8 223.1,258.5 225.4,259.4 227.8,260.5 230.2,261.6 232.5,262.8 234.9,263.9 237.3,265.1 239.6,266.3 242,267.5 244.4,268.8 246.7,270 249.1,271.2 251.5,272.2 253.8,273.2"/>
<polyline class="mp" points="296.4,280.8 298.8,280.8 301.2,280.7 303.5,280.7 305.9,280.3 308.3,279.9 310.6,279.5 313,279 315.4,278.6 317.7,278.2 320.1,277.7 322.5,277.1 324.8,276.6 327.2,276.1 329.6,275.6 331.9,275.1 334.3,274.6 336.7,274.1 339,273.7 341.4,273.2 343.8,272.7 346.1,272.3 348.5,271.8 350.9,271.4 353.2,270.9 355.6,270.5 358,270 360.3,269.6 362.7,269.1 365.1,268.7 367.4,268.2 369.8,267.8 372.2,267.3 374.5,266.9 376.9,266.4 379.3,265.9 381.6,265.5 384,265 386.4,264.6 388.7,264.1 391.1,263.7 393.5,263.2 395.8,262.8 398.2,262.3 400.6,261.9 402.9,261.4 405.3,261 407.7,260.5 410,260 412.4,259.5 414.8,259 417.1,258.6 419.5,258.1 421.9,257.7 424.2,257.3 426.6,257.1 429,256.9 431.3,256.6 433.7,256.4 436.1,256.1 438.4,255.9 440.8,255.6 443.2,255.3 445.5,255.1 447.9,254.8 450.3,254.5"/>
<polyline class="mb" points="258,275.6 261.5,276.9 265.1,278.2 268.6,279.3"/>
<polyline class="mc" points="272.2,280.4 275.7,281.2 279.3,281.9 282.8,281.9 286.4,281.8 289.9,281.7 293.5,281.6"/>
<polyline class="mp" points="94.7,204.3 97,205.6 99.4,207 101.8,208.2 104.1,209.5 106.5,210.8 108.9,212.1 111.2,213.3 113.6,214.4 116,215.5 118.3,216.6 120.7,217.7 123.1,218.9 125.4,220 127.8,221.1 130.2,222.2 132.5,223.2 134.9,224.3 137.3,225.3 139.6,226.3 142,227.3 144.4,228.2 146.7,229.2 149.1,230.2 151.5,231.2 153.8,232.2 156.2,233.1 158.6,234.1 160.9,235.1 163.3,236.1 165.7,237.1 168,238.2 170.4,239.2 172.8,240.3 175.1,241.3 177.5,242.4 179.9,243.4 182.2,244.5 184.6,245.5 187,246.6 189.3,247.7 191.7,248.8 194.1,249.9 196.4,250.8 198.8,251.6 201.2,252.3 203.5,253.1 205.9,253.8 208.3,254.6 210.6,255.4 213,256.1 215.4,256.9 217.7,257.6 220.1,258.4 222.5,259.1 224.8,260 227.2,261.1 229.6,262.2 231.9,263.3 234.3,264.5 236.7,265.7 239,266.9 241.4,268.1 243.8,269.4 246.1,270.6 248.5,271.8 250.9,272.9 253.2,273.9 255.6,274.8"/>
<polyline class="mp" points="298.2,281.5 300.6,281.4 302.9,281.3 305.3,281 307.7,280.6 310,280.2 312.4,279.7 314.8,279.3 317.1,278.9 319.5,278.4 321.9,277.8 324.2,277.3 326.6,276.8 329,276.3 331.3,275.8 333.7,275.3 336.1,274.8 338.4,274.3 340.8,273.8 343.2,273.4 345.5,272.9 347.9,272.5 350.3,272 352.6,271.6 355,271.1 357.4,270.7 359.7,270.2 362.1,269.8 364.5,269.3 366.8,268.9 369.2,268.4 371.6,268 373.9,267.5 376.3,267.1 378.7,266.6 381,266.2 383.4,265.7 385.8,265.3 388.1,264.8 390.5,264.3 392.9,263.9 395.2,263.4 397.6,263 400,262.5 402.3,262.1 404.7,261.6 407.1,261.1 409.4,260.6 411.8,260.1 414.2,259.6 416.5,259.2 418.9,258.8 421.3,258.3 423.6,258 426,257.8 428.4,257.5 430.7,257.3 433.1,257.1 435.5,256.8 437.8,256.5 440.2,256.3 442.6,256 444.9,255.7 447.3,255.4 449.7,255.2"/>
<polyline class="mp" points="94.1,204.9 96.5,206.3 98.8,207.6 101.2,208.9 103.6,210.2 105.9,211.4 108.3,212.7 110.7,213.9 113,215 115.4,216.2 117.8,217.3 120.1,218.4 122.5,219.5 124.9,220.6 127.2,221.8 129.6,222.9 132,223.9 134.3,224.9 136.7,225.9 139.1,226.9 141.4,227.9 143.8,228.9 146.2,229.9 148.5,230.9 150.9,231.8 153.3,232.8 155.6,233.8 158,234.7 160.4,235.7 162.7,236.8 165.1,237.8 167.5,238.8 169.8,239.9 172.2,240.9 174.6,242 176.9,243 179.3,244.1 181.7,245.1 184,246.2 186.4,247.3 188.8,248.3 191.1,249.4 193.5,250.5 195.9,251.4 198.2,252.2 200.6,252.9 203,253.7 205.3,254.5 207.7,255.2 210.1,256 212.4,256.7 214.8,257.5 217.2,258.2 219.5,259 221.9,259.7 224.3,260.6 226.6,261.7 229,262.8 231.4,263.9 233.7,265 236.1,266.3 238.5,267.5 240.8,268.7 243.2,270 245.6,271.2 247.9,272.5 250.3,273.5 252.7,274.5 255,275.4 257.4,276.3"/>
<polyline class="mp" points="297.6,282.2 300,282.1 302.4,282 304.7,281.7 307.1,281.3 309.5,280.9 311.8,280.4 314.2,280 316.6,279.6 318.9,279.1 321.3,278.5 323.7,278 326,277.5 328.4,277 330.8,276.4 333.1,275.9 335.5,275.5 337.9,275 340.2,274.5 342.6,274 345,273.6 347.3,273.1 349.7,272.7 352.1,272.2 354.4,271.8 356.8,271.3 359.2,270.9 361.5,270.4 363.9,270 366.3,269.5 368.6,269.1 371,268.6 373.4,268.2 375.7,267.7 378.1,267.3 380.5,266.8 382.8,266.4 385.2,265.9 387.6,265.5 389.9,265 392.3,264.6 394.7,264.1 397,263.7 399.4,263.2 401.8,262.8 404.1,262.3 406.5,261.8 408.9,261.3 411.2,260.8 413.6,260.3 416,259.8 418.3,259.4 420.7,259 423.1,258.6 425.4,258.4 427.8,258.2 430.2,258 432.5,257.7 434.9,257.5 437.3,257.2 439.6,256.9 442,256.7 444.4,256.4 446.7,256.1 449.1,255.8"/>
<polyline class="mb" points="260.8,277.8 264.3,279"/>
<polyline class="mc" points="267.9,280.2 271.4,281.2 275,282.1 278.5,282.8 282.1,282.7 285.6,282.6 289.2,282.5 292.7,282.5 296.3,282.4"/>
<polyline class="mp" points="93.5,205.5 95.9,206.9 98.2,208.2 100.6,209.5 103,210.8 105.3,212.1 107.7,213.3 110.1,214.6 112.4,215.7 114.8,216.8 117.2,217.9 119.5,219 121.9,220.2 124.3,221.3 126.6,222.4 129,223.5 131.4,224.6 133.7,225.6 136.1,226.6 138.5,227.6 140.8,228.6 143.2,229.6 145.6,230.6 147.9,231.5 150.3,232.5 152.7,233.5 155,234.5 157.4,235.4 159.8,236.4 162.1,237.4 164.5,238.5 166.9,239.5 169.2,240.5 171.6,241.6 174,242.6 176.3,243.7 178.7,244.7 181.1,245.8 183.4,246.8 185.8,247.9 188.2,249 190.5,250.1 192.9,251.1 195.3,252 197.6,252.8 200,253.6 202.4,254.3 204.7,255.1 207.1,255.8 209.5,256.6 211.8,257.4 214.2,258.1 216.6,258.9 218.9,259.6 221.3,260.4 223.7,261.2 226,262.3 228.4,263.4 230.8,264.5 233.1,265.6 235.5,266.9 237.9,268.1 240.2,269.3 242.6,270.6 245,271.8 247.3,273.1 249.7,274.2 252.1,275.2 254.4,276.1 256.8,277"/>
<polyline class="mp" points="299.4,282.8 301.8,282.7 304.1,282.4 306.5,282 308.9,281.6 311.2,281.1 313.6,280.7 316,280.3 318.3,279.8 320.7,279.2 323.1,278.6 325.4,278.1 327.8,277.6 330.2,277.1 332.5,276.6 334.9,276.1 337.3,275.6 339.6,275.2 342,274.7 344.4,274.2 346.7,273.8 349.1,273.3 351.5,272.9 353.8,272.4 356.2,272 358.6,271.5 360.9,271.1 363.3,270.6 365.7,270.2 368,269.7 370.4,269.3 372.8,268.8 375.1,268.4 377.5,267.9 379.9,267.5 382.2,267 384.6,266.6 387,266.1 389.3,265.7 391.7,265.2 394.1,264.8 396.4,264.3 398.8,263.9 401.2,263.4 403.5,262.9 405.9,262.4 408.3,261.9 410.6,261.4 413,260.9 415.4,260.5 417.7,260.1 420.1,259.6 422.5,259.3 424.8,259.1 427.2,258.8 429.6,258.6 431.9,258.4 434.3,258.1 436.7,257.9 439,257.6 441.4,257.3 443.8,257 446.1,256.8 448.5,256.5"/>
<polyline class="mb" points="260.1,278.6 263.6,279.9"/>
<polyline class="mc" points="267.2,281 270.7,282.1 274.3,282.9 277.8,283.6 281.4,283.6 284.9,283.5 288.5,283.4 292,283.3 295.6,283.2 299.1,283.1"/>
<polyline class="mp" points="92.9,206.2 95.3,207.6 97.6,208.9 100,210.2 102.4,211.4 104.7,212.7 107.1,214 109.5,215.2 111.8,216.3 114.2,217.5 116.6,218.6 118.9,219.7 121.3,220.8 123.7,222 126,223.1 128.4,224.2 130.8,225.2 133.1,226.3 135.5,227.3 137.9,228.3 140.2,229.3 142.6,230.3 145,231.2 147.3,232.2 149.7,233.2 152.1,234.2 154.4,235.1 156.8,236.1 159.2,237.1 161.5,238.1 163.9,239.1 166.3,240.2 168.6,241.2 171,242.2 173.4,243.2 175.7,244.3 178.1,245.4 180.5,246.4 182.8,247.5 185.2,248.5 187.6,249.6 189.9,250.7 192.3,251.8 194.7,252.7 197,253.4 199.4,254.2 201.8,255 204.1,255.7 206.5,256.5 208.9,257.2 211.2,258 213.6,258.7 216,259.5 218.3,260.2 220.7,261 223.1,261.8 225.4,262.9 227.8,264 230.2,265.1 232.5,266.2 234.9,267.4 237.3,268.7 239.6,269.9 242,271.2 244.4,272.4 246.7,273.7 249.1,274.8 251.5,275.8 253.8,276.8 256.2,277.6 258.6,278.5"/>
<polyline class="mp" points="301.2,283.4 303.5,283.1 305.9,282.7 308.3,282.3 310.6,281.9 313,281.4 315.4,281 317.7,280.5 320.1,279.9 322.5,279.3 324.8,278.8 327.2,278.3 329.6,277.8 331.9,277.3 334.3,276.8 336.7,276.3 339,275.8 341.4,275.4 343.8,274.9 346.1,274.4 348.5,274 350.9,273.5 353.2,273.1 355.6,272.6 358,272.2 360.3,271.7 362.7,271.3 365.1,270.8 367.4,270.4 369.8,269.9 372.2,269.5 374.5,269 376.9,268.6 379.3,268.1 381.6,267.7 384,267.2 386.4,266.8 388.7,266.3 391.1,265.9 393.5,265.4 395.8,265 398.2,264.5 400.6,264.1 402.9,263.6 405.3,263.1 407.7,262.6 410,262 412.4,261.5 414.8,261.1 417.1,260.7 419.5,260.3 421.9,259.9 424.2,259.7 426.6,259.5 429,259.3 431.3,259.1 433.7,258.8 436.1,258.5 438.4,258.3 440.8,258 443.2,257.7 445.5,257.4 447.9,257.2"/>
<polyline class="mc" points="262.9,280.8 266.4,281.9 270,283 273.5,283.8 277.1,284.5 280.6,284.4 284.2,284.4 287.7,284.3 291.3,284.2 294.8,284.1 298.4,284"/>
<polyline class="mp" points="92.3,206.8 94.7,208.2 97,209.6 99.4,210.8 101.8,212.1 104.1,213.4 106.5,214.6 108.9,215.9 111.2,217 113.6,218.1 116,219.2 118.3,220.4 120.7,221.5 123.1,222.6 125.4,223.7 127.8,224.9 130.2,225.9 132.5,226.9 134.9,228 137.3,229 139.6,230 142,231 144.4,231.9 146.7,232.9 149.1,233.9 151.5,234.9 153.8,235.8 156.2,236.8 158.6,237.8 160.9,238.8 163.3,239.8 165.7,240.8 168,241.8 170.4,242.9 172.8,243.9 175.1,245 177.5,246 179.9,247.1 182.2,248.1 184.6,249.2 187,250.3 189.3,251.3 191.7,252.4 194.1,253.3 196.4,254.1 198.8,254.8 201.2,255.6 203.5,256.3 205.9,257.1 208.3,257.9 210.6,258.6 213,259.4 215.4,260.1 217.7,260.9 220.1,261.6 222.5,262.4 224.8,263.5 227.2,264.6 229.6,265.7 231.9,266.8 234.3,268 236.7,269.3 239,270.5 241.4,271.8 243.8,273.1 246.1,274.4 248.5,275.5 250.9,276.5 253.2,277.4 255.6,278.3 258,279.2 260.3,280.1"/>
<polyline class="mp" points="302.9,283.8 305.3,283.4 307.7,283 310,282.6 312.4,282.2 314.8,281.7 317.1,281.2 319.5,280.6 321.9,280 324.2,279.5 326.6,279 329,278.5 331.3,278 333.7,277.5 336.1,277 338.4,276.5 340.8,276 343.2,275.6 345.5,275.1 347.9,274.7 350.3,274.2 352.6,273.8 355,273.3 357.4,272.9 359.7,272.4 362.1,272 364.5,271.5 366.8,271.1 369.2,270.6 371.6,270.2 373.9,269.7 376.3,269.3 378.7,268.8 381,268.3 383.4,267.9 385.8,267.4 388.1,267 390.5,266.5 392.9,266.1 395.2,265.6 397.6,265.2 400,264.7 402.3,264.3 404.7,263.7 407.1,263.2 409.4,262.7 411.8,262.2 414.2,261.8 416.5,261.4 418.9,261 421.3,260.6 423.6,260.4 426,260.2 428.4,259.9 430.7,259.7 433.1,259.5 435.5,259.2 437.8,258.9 440.2,258.7 442.6,258.4 444.9,258.1 447.3,257.8"/>
<polyline class="mc" points="262.1,281.6 265.7,282.8 269.2,283.9 272.8,284.7 276.3,285.3 279.9,285.3 283.4,285.2 287,285.2 290.5,285.1 294.1,285 297.6,284.9 301.2,284.7"/>
<polyline class="mp" points="91.7,207.5 94.1,208.9 96.5,210.2 98.8,211.5 101.2,212.8 103.6,214 105.9,215.3 108.3,216.5 110.7,217.7 113,218.8 115.4,219.9 117.8,221 120.1,222.2 122.5,223.3 124.9,224.4 127.2,225.6 129.6,226.6 132,227.6 134.3,228.7 136.7,229.7 139.1,230.7 141.4,231.7 143.8,232.6 146.2,233.6 148.5,234.6 150.9,235.6 153.3,236.5 155.6,237.5 158,238.4 160.4,239.5 162.7,240.5 165.1,241.5 167.5,242.5 169.8,243.5 172.2,244.6 174.6,245.6 176.9,246.7 179.3,247.7 181.7,248.8 184,249.8 186.4,250.9 188.8,252 191.1,253 193.5,254 195.9,254.7 198.2,255.5 200.6,256.2 203,257 205.3,257.7 207.7,258.5 210.1,259.3 212.4,260 214.8,260.7 217.2,261.5 219.5,262.2 221.9,263.1 224.3,264.1 226.6,265.2 229,266.2 231.4,267.4 233.7,268.6 236.1,269.9 238.5,271.2 240.8,272.4 243.2,273.7 245.6,275 247.9,276.1 250.3,277.2 252.7,278.1 255,279 257.4,279.9 259.8,280.8"/>
<polyline class="mp" points="302.4,284.5 304.7,284.1 307.1,283.7 309.5,283.3 311.8,282.9 314.2,282.5 316.6,281.9 318.9,281.3 321.3,280.7 323.7,280.2 326,279.7 328.4,279.2 330.8,278.6 333.1,278.1 335.5,277.7 337.9,277.2 340.2,276.7 342.6,276.2 345,275.8 347.3,275.3 349.7,274.9 352.1,274.4 354.4,274 356.8,273.5 359.2,273.1 361.5,272.6 363.9,272.2 366.3,271.7 368.6,271.3 371,270.8 373.4,270.4 375.7,269.9 378.1,269.5 380.5,269 382.8,268.6 385.2,268.1 387.6,267.7 389.9,267.2 392.3,266.8 394.7,266.3 397,265.9 399.4,265.4 401.8,264.9 404.1,264.4 406.5,263.9 408.9,263.4 411.2,262.8 413.6,262.4 416,262 418.3,261.6 420.7,261.3 423.1,261 425.4,260.8 427.8,260.6 430.2,260.4 432.5,260.1 434.9,259.9 437.3,259.6 439.6,259.3 442,259 444.4,258.8 446.7,258.5"/>
<polyline class="mp" points="91.1,208.1 93.5,209.5 95.9,210.9 98.2,212.2 100.6,213.4 103,214.7 105.3,216 107.7,217.2 110.1,218.3 112.4,219.5 114.8,220.6 117.2,221.7 119.5,222.8 121.9,224 124.3,225.1 126.6,226.2 129,227.3 131.4,228.3 133.7,229.4 136.1,230.4 138.5,231.4 140.8,232.4 143.2,233.3 145.6,234.3 147.9,235.3 150.3,236.3 152.7,237.2 155,238.2 157.4,239.1 159.8,240.2 162.1,241.2 164.5,242.2 166.9,243.2 169.2,244.2 171.6,245.2 174,246.3 176.3,247.3 178.7,248.4 181.1,249.4 183.4,250.5 185.8,251.6 188.2,252.6 190.5,253.7 192.9,254.6 195.3,255.4 197.6,256.1 200,256.9 202.4,257.6 204.7,258.4 207.1,259.1 209.5,259.9 211.8,260.6 214.2,261.4 216.6,262.1 218.9,262.9 221.3,263.7 223.7,264.7 226,265.8 228.4,266.8 230.8,268 233.1,269.2 235.5,270.5 237.9,271.8 240.2,273 242.6,274.3 245,275.6 247.3,276.8 249.7,277.9 252.1,278.8 254.4,279.7 256.8,280.6 259.2,281.5 261.5,282.4"/>
<polyline class="mp" points="304.1,284.8 306.5,284.4 308.9,284 311.2,283.6 313.6,283.2 316,282.6 318.3,282 320.7,281.4 323.1,280.9 325.4,280.4 327.8,279.8 330.2,279.3 332.5,278.8 334.9,278.3 337.3,277.8 339.6,277.4 342,276.9 344.4,276.5 346.7,276 349.1,275.5 351.5,275.1 353.8,274.6 356.2,274.2 358.6,273.7 360.9,273.3 363.3,272.8 365.7,272.4 368,271.9 370.4,271.5 372.8,271 375.1,270.6 377.5,270.1 379.9,269.7 382.2,269.2 384.6,268.8 387,268.3 389.3,267.9 391.7,267.4 394.1,267 396.4,266.5 398.8,266.1 401.2,265.6 403.5,265.1 405.9,264.5 408.3,264 410.6,263.5 413,263.1 415.4,262.7 417.7,262.3 420.1,261.9 422.5,261.7 424.8,261.5 427.2,261.3 429.6,261.1 431.9,260.8 434.3,260.5 436.7,260.3 439,260 441.4,259.7 443.8,259.4 446.1,259.2"/>
<polyline class="mc" points="264.9,283.7 268.5,284.8 272,285.6 275.6,286.2 279.1,286.2 282.7,286.1 286.2,286 289.8,285.9 293.3,285.9 296.9,285.8 300.4,285.6"/>
<polyline class="mp" points="90.5,208.8 92.9,210.2 95.3,211.6 97.6,212.9 100,214.1 102.4,215.4 104.7,216.7 107.1,217.9 109.5,219 111.8,220.1 114.2,221.3 116.6,222.4 118.9,223.5 121.3,224.7 123.7,225.8 126,226.9 128.4,228 130.8,229 133.1,230.1 135.5,231.1 137.9,232.1 140.2,233.1 142.6,234 145,235 147.3,236 149.7,237 152.1,237.9 154.4,238.9 156.8,239.8 159.2,240.8 161.5,241.9 163.9,242.9 166.3,243.9 168.6,244.9 171,245.9 173.4,247 175.7,248 178.1,249 180.5,250.1 182.8,251.2 185.2,252.2 187.6,253.3 189.9,254.4 192.3,255.2 194.7,256 197,256.8 199.4,257.5 201.8,258.3 204.1,259 206.5,259.8 208.9,260.5 211.2,261.3 213.6,262 216,262.8 218.3,263.5 220.7,264.3 223.1,265.4 225.4,266.4 227.8,267.5 230.2,268.6 232.5,269.8 234.9,271.1 237.3,272.4 239.6,273.7 242,275 244.4,276.3 246.7,277.4 249.1,278.5 251.5,279.5 253.8,280.4 256.2,281.3 258.6,282.2 260.9,283.1 263.3,283.9"/>
<polyline class="mp" points="303.5,285.5 305.9,285.1 308.3,284.7 310.6,284.3 313,283.9 315.4,283.3 317.7,282.7 320.1,282.1 322.5,281.6 324.8,281.1 327.2,280.5 329.6,280 331.9,279.5 334.3,279 336.7,278.5 339,278 341.4,277.6 343.8,277.1 346.1,276.7 348.5,276.2 350.9,275.8 353.2,275.3 355.6,274.9 358,274.4 360.3,274 362.7,273.5 365.1,273.1 367.4,272.6 369.8,272.2 372.2,271.7 374.5,271.3 376.9,270.8 379.3,270.4 381.6,269.9 384,269.5 386.4,269 388.7,268.6 391.1,268.1 393.5,267.7 395.8,267.2 398.2,266.8 400.6,266.3 402.9,265.7 405.3,265.2 407.7,264.7 410,264.2 412.4,263.7 414.8,263.3 417.1,262.9 419.5,262.6 421.9,262.4 424.2,262.2 426.6,262 429,261.7 431.3,261.5 433.7,261.2 436.1,260.9 438.4,260.7 440.8,260.4 443.2,260.1 445.5,259.8"/>
<polyline class="mc" points="267.7,285.7 271.3,286.5 274.8,287.1 278.4,287.1 281.9,287 285.5,286.9 289,286.8 292.6,286.8 296.1,286.7 299.7,286.5 303.2,285.9"/>
<polyline class="mp" points="89.9,209.5 92.3,210.9 94.7,212.3 97,213.5 99.4,214.8 101.8,216.1 104.1,217.3 106.5,218.6 108.9,219.7 111.2,220.8 113.6,222 116,223.1 118.3,224.2 120.7,225.4 123.1,226.5 125.4,227.6 127.8,228.7 130.2,229.7 132.5,230.8 134.9,231.8 137.3,232.8 139.6,233.8 142,234.8 144.4,235.7 146.7,236.7 149.1,237.7 151.5,238.6 153.8,239.6 156.2,240.5 158.6,241.6 160.9,242.6 163.3,243.6 165.7,244.6 168,245.6 170.4,246.6 172.8,247.6 175.1,248.7 177.5,249.7 179.9,250.8 182.2,251.8 184.6,252.9 187,254 189.3,255 191.7,255.9 194.1,256.7 196.4,257.4 198.8,258.2 201.2,258.9 203.5,259.7 205.9,260.4 208.3,261.2 210.6,261.9 213,262.7 215.4,263.4 217.7,264.1 220.1,265 222.5,266 224.8,267 227.2,268.1 229.6,269.2 231.9,270.5 234.3,271.7 236.7,273 239,274.3 241.4,275.6 243.8,277 246.1,278.1 248.5,279.2 250.9,280.2 253.2,281.1 255.6,282 258,282.9 260.3,283.8 262.7,284.6"/>
<polyline class="mp" points="305.3,285.9 307.7,285.4 310,285 312.4,284.6 314.8,284.1 317.1,283.4 319.5,282.8 321.9,282.3 324.2,281.8 326.6,281.2 329,280.7 331.3,280.2 333.7,279.7 336.1,279.2 338.4,278.7 340.8,278.3 343.2,277.8 345.5,277.4 347.9,276.9 350.3,276.5 352.6,276 355,275.5 357.4,275.1 359.7,274.6 362.1,274.2 364.5,273.7 366.8,273.3 369.2,272.8 371.6,272.4 373.9,271.9 376.3,271.5 378.7,271 381,270.6 383.4,270.1 385.8,269.7 388.1,269.2 390.5,268.8 392.9,268.3 395.2,267.9 397.6,267.4 400,266.9 402.3,266.4 404.7,265.9 407.1,265.3 409.4,264.8 411.8,264.4 414.2,264 416.5,263.6 418.9,263.2 421.3,263 423.6,262.8 426,262.6 428.4,262.4 430.7,262.2 433.1,261.9 435.5,261.6 437.8,261.3 440.2,261.1 442.6,260.8 444.9,260.5"/>
<polyline class="mc" points="267,286.7 270.6,287.4 274.1,288 277.7,288 281.2,287.9 284.8,287.8 288.3,287.7 291.9,287.6 295.4,287.6 299,287.4"/>
<polyline class="mp" points="89.4,210.2 91.7,211.6 94.1,213 96.5,214.2 98.8,215.5 101.2,216.8 103.6,218 105.9,219.2 108.3,220.4 110.7,221.5 113,222.7 115.4,223.8 117.8,224.9 120.1,226.1 122.5,227.2 124.9,228.3 127.2,229.4 129.6,230.5 132,231.5 134.3,232.5 136.7,233.5 139.1,234.5 141.4,235.5 143.8,236.5 146.2,237.4 148.5,238.4 150.9,239.4 153.3,240.3 155.6,241.3 158,242.3 160.4,243.3 162.7,244.3 165.1,245.3 167.5,246.3 169.8,247.3 172.2,248.3 174.6,249.4 176.9,250.4 179.3,251.4 181.7,252.5 184,253.6 186.4,254.6 188.8,255.7 191.1,256.6 193.5,257.3 195.9,258.1 198.2,258.8 200.6,259.6 203,260.3 205.3,261.1 207.7,261.9 210.1,262.6 212.4,263.3 214.8,264.1 217.2,264.8 219.5,265.6 221.9,266.6 224.3,267.7 226.6,268.7 229,269.8 231.4,271.1 233.7,272.4 236.1,273.7 238.5,274.9 240.8,276.3 243.2,277.6 245.6,278.8 247.9,279.9 250.3,280.9 252.7,281.8 255,282.7 257.4,283.6 259.8,284.5 262.1,285.3 264.5,286.1"/>
<polyline class="mp" points="302.4,287 304.7,286.6 307.1,286.2 309.5,285.8 311.8,285.4 314.2,284.8 316.6,284.2 318.9,283.5 321.3,283 323.7,282.5 326,281.9 328.4,281.4 330.8,280.9 333.1,280.4 335.5,279.9 337.9,279.4 340.2,278.9 342.6,278.5 345,278 347.3,277.6 349.7,277.1 352.1,276.7 354.4,276.2 356.8,275.8 359.2,275.3 361.5,274.9 363.9,274.4 366.3,274 368.6,273.5 371,273.1 373.4,272.6 375.7,272.2 378.1,271.7 380.5,271.3 382.8,270.8 385.2,270.4 387.6,269.9 389.9,269.5 392.3,269 394.7,268.6 397,268.1 399.4,267.6 401.8,267.1 404.1,266.5 406.5,266 408.9,265.5 411.2,265.1 413.6,264.7 416,264.3 418.3,263.9 420.7,263.7 423.1,263.5 425.4,263.3 427.8,263.1 430.2,262.8 432.5,262.6 434.9,262.3 437.3,262 439.6,261.7 442,261.5 444.4,261.2"/>
<polyline class="mc" points="266.3,287.6 269.8,288.3 273.4,288.9 276.9,288.9 280.5,288.8 284,288.7 287.6,288.6 291.1,288.6 294.7,288.5 298.2,288.3"/>
<polyline class="mp" points="88.8,210.9 91.1,212.3 93.5,213.7 95.9,214.9 98.2,216.2 100.6,217.5 103,218.7 105.3,219.9 107.7,221.1 110.1,222.2 112.4,223.4 114.8,224.5 117.2,225.6 119.5,226.8 121.9,227.9 124.3,229.1 126.6,230.1 129,231.2 131.4,232.2 133.7,233.3 136.1,234.3 138.5,235.2 140.8,236.2 143.2,237.2 145.6,238.2 147.9,239.1 150.3,240.1 152.7,241 155,242 157.4,243 159.8,244 162.1,245 164.5,246 166.9,247 169.2,248 171.6,249 174,250.1 176.3,251.1 178.7,252.1 181.1,253.2 183.4,254.2 185.8,255.3 188.2,256.4 190.5,257.2 192.9,258 195.3,258.7 197.6,259.5 200,260.3 202.4,261 204.7,261.8 207.1,262.5 209.5,263.3 211.8,264 214.2,264.7 216.6,265.4 218.9,266.3 221.3,267.3 223.7,268.3 226,269.3 228.4,270.4 230.8,271.7 233.1,273 235.5,274.3 237.9,275.6 240.2,276.9 242.6,278.3 245,279.5 247.3,280.6 249.7,281.6 252.1,282.5 254.4,283.4 256.8,284.4 259.2,285.2 261.5,286"/>
<polyline class="mp" points="301.8,287.7 304.1,287.3 306.5,286.9 308.9,286.5 311.2,286.1 313.6,285.5 316,284.9 318.3,284.2 320.7,283.7 323.1,283.2 325.4,282.6 327.8,282.1 330.2,281.6 332.5,281.1 334.9,280.6 337.3,280.1 339.6,279.6 342,279.2 344.4,278.7 346.7,278.3 349.1,277.8 351.5,277.4 353.8,276.9 356.2,276.5 358.6,276 360.9,275.6 363.3,275.1 365.7,274.7 368,274.2 370.4,273.8 372.8,273.3 375.1,272.9 377.5,272.4 379.9,271.9 382.2,271.5 384.6,271 387,270.6 389.3,270.1 391.7,269.7 394.1,269.2 396.4,268.8 398.8,268.3 401.2,267.7 403.5,267.2 405.9,266.7 408.3,266.1 410.6,265.7 413,265.3 415.4,264.9 417.7,264.6 420.1,264.4 422.5,264.2 424.8,264 427.2,263.8 429.6,263.5 431.9,263.2 434.3,263 436.7,262.7 439,262.4 441.4,262.2 443.8,261.9"/>
<polyline class="mp" points="88.2,211.6 90.5,213 92.9,214.4 95.3,215.7 97.6,216.9 100,218.2 102.4,219.4 104.7,220.6 107.1,221.8 109.5,222.9 111.8,224.1 114.2,225.2 116.6,226.4 118.9,227.5 121.3,228.6 123.7,229.8 126,230.8 128.4,231.9 130.8,233 133.1,234 135.5,235 137.9,236 140.2,236.9 142.6,237.9 145,238.9 147.3,239.9 149.7,240.8 152.1,241.7 154.4,242.7 156.8,243.7 159.2,244.7 161.5,245.7 163.9,246.7 166.3,247.7 168.6,248.7 171,249.7 173.4,250.7 175.7,251.8 178.1,252.8 180.5,253.9 182.8,254.9 185.2,256 187.6,257 189.9,257.9 192.3,258.7 194.7,259.4 197,260.2 199.4,260.9 201.8,261.7 204.1,262.4 206.5,263.2 208.9,263.9 211.2,264.6 213.6,265.4 216,266.1 218.3,266.9 220.7,267.9 223.1,268.9 225.4,269.9 227.8,271 230.2,272.3 232.5,273.6 234.9,274.9 237.3,276.2 239.6,277.6 242,279 244.4,280.2 246.7,281.3 249.1,282.3 251.5,283.2 253.8,284.1 256.2,285.1 258.6,286"/>
<polyline class="mp" points="294.1,289.2 296.4,289.1 298.8,288.8 301.2,288.4 303.5,288 305.9,287.6 308.3,287.3 310.6,286.9 313,286.3 315.4,285.6 317.7,285 320.1,284.4 322.5,283.9 324.8,283.3 327.2,282.8 329.6,282.3 331.9,281.8 334.3,281.3 336.7,280.8 339,280.3 341.4,279.9 343.8,279.4 346.1,279 348.5,278.5 350.9,278 353.2,277.6 355.6,277.1 358,276.7 360.3,276.2 362.7,275.8 365.1,275.3 367.4,274.9 369.8,274.4 372.2,274 374.5,273.5 376.9,273.1 379.3,272.6 381.6,272.2 384,271.7 386.4,271.3 388.7,270.8 391.1,270.4 393.5,269.9 395.8,269.5 398.2,269 400.6,268.4 402.9,267.9 405.3,267.3 407.7,266.8 410,266.4 412.4,266 414.8,265.6 417.1,265.2 419.5,265 421.9,264.8 424.2,264.7 426.6,264.5 429,264.2 431.3,263.9 433.7,263.7 436.1,263.4 438.4,263.1 440.8,262.8 443.2,262.6"/>
<polyline class="mc" points="258.4,286.1 262,287.4 265.5,288.5 269.1,289.2 272.6,289.8 276.2,289.8 279.7,289.7 283.3,289.6 286.8,289.5 290.4,289.5"/>
<polyline class="mp" points="87.6,212.3 89.9,213.7 92.3,215.1 94.7,216.4 97,217.6 99.4,218.9 101.8,220.1 104.1,221.4 106.5,222.5 108.9,223.6 111.2,224.8 113.6,225.9 116,227.1 118.3,228.2 120.7,229.4 123.1,230.5 125.4,231.6 127.8,232.6 130.2,233.7 132.5,234.7 134.9,235.7 137.3,236.7 139.6,237.7 142,238.7 144.4,239.6 146.7,240.6 149.1,241.5 151.5,242.5 153.8,243.4 156.2,244.4 158.6,245.4 160.9,246.4 163.3,247.4 165.7,248.4 168,249.4 170.4,250.4 172.8,251.4 175.1,252.5 177.5,253.5 179.9,254.6 182.2,255.6 184.6,256.7 187,257.7 189.3,258.6 191.7,259.3 194.1,260.1 196.4,260.8 198.8,261.6 201.2,262.3 203.5,263.1 205.9,263.9 208.3,264.6 210.6,265.3 213,266 215.4,266.8 217.7,267.6 220.1,268.6 222.5,269.6 224.8,270.5 227.2,271.6 229.6,273 231.9,274.3 234.3,275.6 236.7,276.9 239,278.3 241.4,279.6 243.8,280.8 246.1,282 248.5,283 250.9,283.9 253.2,284.9"/>
<polyline class="mp" points="291.1,290 293.5,289.9 295.8,289.9 298.2,289.6 300.6,289.2 302.9,288.8 305.3,288.4 307.7,288 310,287.6 312.4,287 314.8,286.3 317.1,285.7 319.5,285.1 321.9,284.6 324.2,284 326.6,283.5 329,283 331.3,282.5 333.7,282 336.1,281.5 338.4,281 340.8,280.5 343.2,280.1 345.5,279.6 347.9,279.2 350.3,278.7 352.6,278.3 355,277.8 357.4,277.4 359.7,276.9 362.1,276.5 364.5,276 366.8,275.6 369.2,275.1 371.6,274.7 373.9,274.2 376.3,273.8 378.7,273.3 381,272.9 383.4,272.4 385.8,272 388.1,271.5 390.5,271.1 392.9,270.6 395.2,270.2 397.6,269.7 400,269.1 402.3,268.5 404.7,268 407.1,267.5 409.4,267.1 411.8,266.7 414.2,266.3 416.5,265.9 418.9,265.7 421.3,265.5 423.6,265.3 426,265.1 428.4,264.9 430.7,264.6 433.1,264.3 435.5,264.1 437.8,263.8 440.2,263.5 442.6,263.2"/>
<polyline class="mc" points="254.1,285.7 257.7,287 261.2,288.3 264.8,289.5 268.3,290.1 271.9,290.7 275.4,290.7 279,290.6 282.5,290.5 286.1,290.5"/>
<polyline class="mp" points="87,213 89.4,214.4 91.7,215.8 94.1,217.1 96.5,218.4 98.8,219.6 101.2,220.9 103.6,222.1 105.9,223.2 108.3,224.4 110.7,225.5 113,226.7 115.4,227.8 117.8,228.9 120.1,230.1 122.5,231.2 124.9,232.3 127.2,233.4 129.6,234.5 132,235.5 134.3,236.5 136.7,237.5 139.1,238.4 141.4,239.4 143.8,240.4 146.2,241.4 148.5,242.3 150.9,243.2 153.3,244.2 155.6,245.1 158,246.1 160.4,247.1 162.7,248.1 165.1,249.1 167.5,250.1 169.8,251.1 172.2,252.1 174.6,253.2 176.9,254.2 179.3,255.3 181.7,256.3 184,257.4 186.4,258.4 188.8,259.3 191.1,260 193.5,260.8 195.9,261.5 198.2,262.3 200.6,263 203,263.8 205.3,264.5 207.7,265.3 210.1,266 212.4,266.7 214.8,267.4 217.2,268.2 219.5,269.2 221.9,270.2 224.3,271.2 226.6,272.3 229,273.6 231.4,274.9 233.7,276.2 236.1,277.6 238.5,278.9 240.8,280.3 243.2,281.5 245.6,282.7 247.9,283.7 250.3,284.7"/>
<polyline class="mp" points="288.2,290.8 290.5,290.7 292.9,290.7 295.3,290.6 297.6,290.3 300,289.9 302.4,289.5 304.7,289.1 307.1,288.7 309.5,288.3 311.8,287.7 314.2,287.1 316.6,286.4 318.9,285.8 321.3,285.3 323.7,284.7 326,284.2 328.4,283.7 330.8,283.2 333.1,282.7 335.5,282.2 337.9,281.7 340.2,281.2 342.6,280.8 345,280.3 347.3,279.9 349.7,279.4 352.1,279 354.4,278.5 356.8,278.1 359.2,277.6 361.5,277.2 363.9,276.7 366.3,276.3 368.6,275.8 371,275.4 373.4,274.9 375.7,274.5 378.1,274 380.5,273.6 382.8,273.1 385.2,272.7 387.6,272.2 389.9,271.7 392.3,271.3 394.7,270.8 397,270.3 399.4,269.8 401.8,269.2 404.1,268.7 406.5,268.1 408.9,267.7 411.2,267.3 413.6,266.9 416,266.6 418.3,266.4 420.7,266.2 423.1,266 425.4,265.8 427.8,265.6 430.2,265.3 432.5,265 434.9,264.7 437.3,264.5 439.6,264.2 442,263.9"/>
<polyline class="mc" points="249.8,285.2 253.4,286.6 256.9,288 260.5,289.2 264,290.4 267.6,291 271.1,291.6 274.7,291.6 278.2,291.5 281.8,291.5"/>
<polyline class="mp" points="86.4,213.7 88.8,215.2 91.1,216.6 93.5,217.8 95.9,219.1 98.2,220.3 100.6,221.6 103,222.8 105.3,223.9 107.7,225.1 110.1,226.2 112.4,227.4 114.8,228.5 117.2,229.7 119.5,230.8 121.9,232 124.3,233.1 126.6,234.1 129,235.2 131.4,236.2 133.7,237.2 136.1,238.2 138.5,239.2 140.8,240.2 143.2,241.1 145.6,242.1 147.9,243 150.3,244 152.7,244.9 155,245.9 157.4,246.9 159.8,247.8 162.1,248.8 164.5,249.8 166.9,250.8 169.2,251.8 171.6,252.9 174,253.9 176.3,254.9 178.7,256 181.1,257 183.4,258.1 185.8,259.1 188.2,260 190.5,260.7 192.9,261.5 195.3,262.2 197.6,263 200,263.7 202.4,264.5 204.7,265.2 207.1,265.9 209.5,266.7 211.8,267.4 214.2,268.1 216.6,268.9 218.9,269.9 221.3,270.9 223.7,271.8 226,272.9 228.4,274.2 230.8,275.6 233.1,276.9 235.5,278.2 237.9,279.6 240.2,281 242.6,282.2 245,283.4 247.3,284.4"/>
<polyline class="mp" points="282.8,291.6 285.2,291.6 287.6,291.5 289.9,291.5 292.3,291.4 294.7,291.3 297,291 299.4,290.7 301.8,290.3 304.1,289.9 306.5,289.5 308.9,289.1 311.2,288.5 313.6,287.8 316,287.1 318.3,286.6 320.7,286 323.1,285.4 325.4,284.9 327.8,284.4 330.2,283.9 332.5,283.4 334.9,282.9 337.3,282.4 339.6,281.9 342,281.5 344.4,281 346.7,280.6 349.1,280.1 351.5,279.7 353.8,279.2 356.2,278.8 358.6,278.3 360.9,277.9 363.3,277.4 365.7,277 368,276.5 370.4,276.1 372.8,275.6 375.1,275.2 377.5,274.7 379.9,274.2 382.2,273.8 384.6,273.3 387,272.9 389.3,272.4 391.7,272 394.1,271.5 396.4,271 398.8,270.5 401.2,269.9 403.5,269.3 405.9,268.8 408.3,268.4 410.6,268 413,267.6 415.4,267.3 417.7,267.1 420.1,266.9 422.5,266.7 424.8,266.5 427.2,266.3 429.6,266 431.9,265.7 434.3,265.4 436.7,265.2 439,264.9 441.4,264.6"/>
<polyline class="mc" points="245.6,284.7 249.1,286.1 252.7,287.5 256.2,288.9 259.8,290.2 263.3,291.4 266.9,292 270.4,292.5 274,292.5 277.5,292.5"/>
<polyline class="mp" points="85.8,214.4 88.2,215.9 90.5,217.3 92.9,218.6 95.3,219.8 97.6,221.1 100,222.3 102.4,223.5 104.7,224.7 107.1,225.8 109.5,227 111.8,228.1 114.2,229.3 116.6,230.4 118.9,231.6 121.3,232.7 123.7,233.8 126,234.9 128.4,236 130.8,237 133.1,238 135.5,239 137.9,239.9 140.2,240.9 142.6,241.9 145,242.9 147.3,243.8 149.7,244.7 152.1,245.7 154.4,246.6 156.8,247.6 159.2,248.6 161.5,249.5 163.9,250.5 166.3,251.5 168.6,252.5 171,253.6 173.4,254.6 175.7,255.6 178.1,256.7 180.5,257.7 182.8,258.8 185.2,259.8 187.6,260.7 189.9,261.4 192.3,262.2 194.7,262.9 197,263.7 199.4,264.4 201.8,265.2 204.1,265.9 206.5,266.6 208.9,267.4 211.2,268.1 213.6,268.8 216,269.6 218.3,270.5 220.7,271.5 223.1,272.5 225.4,273.5 227.8,274.9 230.2,276.2 232.5,277.5 234.9,278.9 237.3,280.3 239.6,281.7 242,282.9 244.4,284.2"/>
<polyline class="mp" points="279.9,292.4 282.2,292.4 284.6,292.3 287,292.2 289.3,292.2 291.7,292.1 294.1,292.1 296.4,291.8 298.8,291.4 301.2,291 303.5,290.6 305.9,290.2 308.3,289.9 310.6,289.2 313,288.5 315.4,287.9 317.7,287.3 320.1,286.7 322.5,286.2 324.8,285.6 327.2,285.1 329.6,284.6 331.9,284.1 334.3,283.6 336.7,283.1 339,282.6 341.4,282.2 343.8,281.7 346.1,281.3 348.5,280.8 350.9,280.4 353.2,279.9 355.6,279.5 358,279 360.3,278.6 362.7,278.1 365.1,277.7 367.4,277.2 369.8,276.8 372.2,276.3 374.5,275.8 376.9,275.4 379.3,274.9 381.6,274.5 384,274 386.4,273.6 388.7,273.1 391.1,272.7 393.5,272.2 395.8,271.7 398.2,271.2 400.6,270.6 402.9,270 405.3,269.5 407.7,269.1 410,268.7 412.4,268.3 414.8,267.9 417.1,267.8 419.5,267.6 421.9,267.4 424.2,267.2 426.6,266.9 429,266.7 431.3,266.4 433.7,266.1 436.1,265.8 438.4,265.6 440.8,265.3"/>
<polyline class="mp" points="85.2,215.2 87.6,216.6 89.9,218.1 92.3,219.3 94.7,220.6 97,221.8 99.4,223.1 101.8,224.3 104.1,225.4 106.5,226.6 108.9,227.7 111.2,228.9 113.6,230 116,231.2 118.3,232.3 120.7,233.5 123.1,234.6 125.4,235.6 127.8,236.7 130.2,237.8 132.5,238.8 134.9,239.7 137.3,240.7 139.6,241.7 142,242.7 144.4,243.6 146.7,244.5 149.1,245.5 151.5,246.4 153.8,247.4 156.2,248.3 158.6,249.3 160.9,250.3 163.3,251.2 165.7,252.3 168,253.3 170.4,254.3 172.8,255.3 175.1,256.3 177.5,257.4 179.9,258.4 182.2,259.5 184.6,260.5 187,261.3 189.3,262.1 191.7,262.8 194.1,263.6 196.4,264.3 198.8,265.1 201.2,265.8 203.5,266.6 205.9,267.3 208.3,268 210.6,268.8 213,269.5 215.4,270.3 217.7,271.2 220.1,272.2 222.5,273.1 224.8,274.2 227.2,275.5 229.6,276.9 231.9,278.2 234.3,279.6 236.7,281 239,282.4 241.4,283.6"/>
<polyline class="mp" points="276.9,293.2 279.3,293.2 281.6,293.1 284,293 286.4,293 288.7,292.9 291.1,292.9 293.5,292.8 295.8,292.5 298.2,292.2 300.6,291.8 302.9,291.4 305.3,291 307.7,290.6 310,290 312.4,289.3 314.8,288.6 317.1,288 319.5,287.4 321.9,286.9 324.2,286.3 326.6,285.8 329,285.3 331.3,284.8 333.7,284.3 336.1,283.8 338.4,283.3 340.8,282.9 343.2,282.4 345.5,282 347.9,281.5 350.3,281.1 352.6,280.6 355,280.2 357.4,279.7 359.7,279.3 362.1,278.8 364.5,278.4 366.8,277.9 369.2,277.5 371.6,277 373.9,276.5 376.3,276.1 378.7,275.6 381,275.2 383.4,274.7 385.8,274.3 388.1,273.8 390.5,273.4 392.9,272.9 395.2,272.4 397.6,271.8 400,271.3 402.3,270.7 404.7,270.2 407.1,269.8 409.4,269.4 411.8,269 414.2,268.6 416.5,268.4 418.9,268.3 421.3,268.1 423.6,267.9 426,267.6 428.4,267.4 430.7,267.1 433.1,266.8 435.5,266.5 437.8,266.3 440.2,266"/>
<polyline class="mc" points="244.8,285.6 248.4,287 251.9,288.5 255.5,289.8 259,291.1 262.6,292.3 266.1,292.9 269.7,293.4 273.2,293.4"/>
<polyline class="mp" points="84.6,215.9 87,217.4 89.3,218.8 91.7,220.1 94.1,221.3 96.4,222.6 98.8,223.8 101.2,225 103.5,226.2 105.9,227.3 108.3,228.5 110.6,229.6 113,230.8 115.4,231.9 117.7,233.1 120.1,234.2 122.5,235.3 124.8,236.4 127.2,237.5 129.6,238.6 131.9,239.5 134.3,240.5 136.7,241.5 139,242.5 141.4,243.4 143.8,244.4 146.1,245.3 148.5,246.2 150.9,247.2 153.2,248.1 155.6,249.1 158,250.1 160.3,251 162.7,252 165.1,253 167.4,254 169.8,255 172.2,256 174.5,257.1 176.9,258.1 179.3,259.1 181.6,260.2 184,261.2 186.4,262.1 188.7,262.8 191.1,263.6 193.5,264.3 195.8,265 198.2,265.8 200.6,266.5 202.9,267.3 205.3,268 207.7,268.7 210,269.5 212.4,270.2 214.8,270.9 217.1,271.9 219.5,272.8 221.9,273.8 224.2,274.8 226.6,276.2 229,277.5 231.3,278.9 233.7,280.2 236.1,281.7 238.4,283.1"/>
<polyline class="mp" points="273.9,294 276.3,294 278.7,293.9 281,293.8 283.4,293.8 285.8,293.7 288.1,293.7 290.5,293.6 292.9,293.6 295.2,293.3 297.6,292.9 300,292.5 302.3,292.1 304.7,291.8 307.1,291.4 309.4,290.7 311.8,290 314.2,289.3 316.5,288.8 318.9,288.2 321.3,287.6 323.6,287 326,286.5 328.4,286 330.7,285.5 333.1,285 335.5,284.5 337.8,284 340.2,283.6 342.6,283.1 344.9,282.7 347.3,282.2 349.7,281.8 352,281.3 354.4,280.9 356.8,280.4 359.1,280 361.5,279.5 363.9,279.1 366.2,278.6 368.6,278.2 371,277.7 373.3,277.2 375.7,276.8 378.1,276.3 380.4,275.9 382.8,275.4 385.2,275 387.5,274.5 389.9,274.1 392.3,273.6 394.6,273.1 397,272.5 399.4,271.9 401.7,271.4 404.1,270.8 406.5,270.4 408.8,270 411.2,269.7 413.6,269.3 415.9,269.1 418.3,268.9 420.7,268.8 423,268.6 425.4,268.3 427.8,268.1 430.1,267.8 432.5,267.5 434.9,267.2 437.2,267 439.6,266.7"/>
<polyline class="mc" points="240.5,284.7 244.1,286.5 247.6,288 251.2,289.4 254.7,290.8 258.3,292.1 261.8,293.3 265.4,293.9 268.9,294.3"/>
<polyline class="mp" points="84,216.6 86.4,218.1 88.8,219.6 91.1,220.8 93.5,222.1 95.9,223.3 98.2,224.6 100.6,225.8 103,226.9 105.3,228.1 107.7,229.2 110.1,230.4 112.4,231.5 114.8,232.7 117.2,233.8 119.5,235 121.9,236.1 124.3,237.2 126.6,238.3 129,239.3 131.4,240.3 133.7,241.3 136.1,242.3 138.5,243.2 140.8,244.2 143.2,245.2 145.6,246.1 147.9,247 150.3,247.9 152.7,248.9 155,249.9 157.4,250.8 159.8,251.8 162.1,252.7 164.5,253.7 166.9,254.7 169.2,255.8 171.6,256.8 174,257.8 176.3,258.8 178.7,259.9 181.1,260.9 183.4,261.9 185.8,262.8 188.2,263.5 190.5,264.3 192.9,265 195.3,265.8 197.6,266.5 200,267.2 202.4,268 204.7,268.7 207.1,269.4 209.5,270.1 211.8,270.9 214.2,271.6 216.6,272.6 218.9,273.5 221.3,274.4 223.7,275.5 226,276.8 228.4,278.2 230.8,279.6 233.1,280.9 235.5,282.3 237.9,283.8"/>
<polyline class="mp" points="271,294.7 273.4,294.8 275.7,294.7 278.1,294.7 280.5,294.6 282.8,294.5 285.2,294.5 287.6,294.4 289.9,294.4 292.3,294.3 294.7,294 297,293.7 299.4,293.3 301.8,292.9 304.1,292.5 306.5,292.1 308.9,291.5 311.2,290.8 313.6,290.1 316,289.5 318.3,288.9 320.7,288.3 323.1,287.7 325.4,287.2 327.8,286.7 330.2,286.2 332.5,285.7 334.9,285.2 337.3,284.8 339.6,284.3 342,283.8 344.4,283.4 346.7,282.9 349.1,282.5 351.5,282 353.8,281.6 356.2,281.1 358.6,280.7 360.9,280.2 363.3,279.8 365.7,279.3 368,278.9 370.4,278.4 372.8,277.9 375.1,277.5 377.5,277 379.9,276.6 382.2,276.1 384.6,275.7 387,275.2 389.3,274.8 391.7,274.3 394.1,273.8 396.4,273.2 398.8,272.6 401.2,272.1 403.5,271.5 405.9,271.1 408.3,270.7 410.6,270.3 413,270 415.4,269.8 417.7,269.6 420.1,269.5 422.5,269.3 424.8,269 427.2,268.8 429.6,268.5 431.9,268.2 434.3,267.9 436.7,267.6 439,267.4"/>
<polyline class="mc" points="239.8,285.6 243.3,287.4 246.9,288.9 250.4,290.3 254,291.7 257.5,293.1 261.1,294.3 264.6,294.8"/>
<polyline class="mp" points="83.4,217.4 85.8,218.9 88.2,220.3 90.5,221.6 92.9,222.8 95.3,224.1 97.6,225.3 100,226.5 102.4,227.7 104.7,228.8 107.1,230 109.5,231.1 111.8,232.3 114.2,233.5 116.6,234.6 118.9,235.8 121.3,236.9 123.7,238 126,239.1 128.4,240.1 130.8,241.1 133.1,242.1 135.5,243 137.9,244 140.2,245 142.6,246 145,246.9 147.3,247.8 149.7,248.7 152.1,249.7 154.4,250.6 156.8,251.6 159.2,252.5 161.5,253.5 163.9,254.5 166.3,255.5 168.6,256.5 171,257.5 173.4,258.5 175.7,259.6 178.1,260.6 180.5,261.6 182.8,262.6 185.2,263.5 187.6,264.2 189.9,265 192.3,265.7 194.7,266.5 197,267.2 199.4,268 201.8,268.7 204.1,269.4 206.5,270.1 208.9,270.9 211.2,271.6 213.6,272.3 216,273.3 218.3,274.2 220.7,275.1 223.1,276.1 225.4,277.5 227.8,278.9 230.2,280.2 232.5,281.6 234.9,283"/>
<polyline class="mp" points="268,295.5 270.4,295.5 272.8,295.5 275.1,295.5 277.5,295.4 279.9,295.4 282.2,295.3 284.6,295.3 287,295.2 289.3,295.1 291.7,295.1 294.1,294.8 296.4,294.4 298.8,294 301.2,293.7 303.5,293.3 305.9,292.9 308.3,292.3 310.6,291.5 313,290.8 315.4,290.2 317.7,289.6 320.1,289.1 322.5,288.5 324.8,287.9 327.2,287.4 329.6,286.9 331.9,286.4 334.3,285.9 336.7,285.5 339,285 341.4,284.6 343.8,284.1 346.1,283.6 348.5,283.2 350.9,282.7 353.2,282.3 355.6,281.8 358,281.4 360.3,280.9 362.7,280.5 365.1,280 367.4,279.6 369.8,279.1 372.2,278.7 374.5,278.2 376.9,277.7 379.3,277.3 381.6,276.8 384,276.4 386.4,275.9 388.7,275.5 391.1,275 393.5,274.5 395.8,273.9 398.2,273.3 400.6,272.7 402.9,272.2 405.3,271.8 407.7,271.4 410,271 412.4,270.7 414.8,270.5 417.1,270.3 419.5,270.2 421.9,270 424.2,269.7 426.6,269.4 429,269.2 431.3,268.9 433.7,268.6 436.1,268.3 438.4,268.1"/>
<polyline class="mc" points="235.5,284.5 239,286.5 242.6,288.4 246.1,289.8 249.7,291.3 253.2,292.7 256.8,294 260.3,295.2 263.9,295.8"/>
<polyline class="mp" points="82.8,218.2 85.2,219.7 87.6,221.1 89.9,222.4 92.3,223.6 94.7,224.8 97,226.1 99.4,227.3 101.8,228.4 104.1,229.6 106.5,230.8 108.9,231.9 111.2,233.1 113.6,234.2 116,235.4 118.3,236.5 120.7,237.6 123.1,238.8 125.4,239.9 127.8,240.9 130.2,241.9 132.5,242.9 134.9,243.8 137.3,244.8 139.6,245.8 142,246.7 144.4,247.6 146.7,248.6 149.1,249.5 151.5,250.4 153.8,251.4 156.2,252.3 158.6,253.3 160.9,254.2 163.3,255.2 165.7,256.2 168,257.2 170.4,258.3 172.8,259.3 175.1,260.3 177.5,261.3 179.9,262.4 182.2,263.4 184.6,264.2 187,264.9 189.3,265.7 191.7,266.4 194.1,267.2 196.4,267.9 198.8,268.7 201.2,269.4 203.5,270.1 205.9,270.8 208.3,271.6 210.6,272.3 213,273 215.4,273.9 217.7,274.8 220.1,275.8 222.5,276.8 224.8,278.2 227.2,279.5 229.6,280.9 231.9,282.3"/>
<polyline class="mp" points="265.1,295.9 267.4,296.2 269.8,296.3 272.2,296.3 274.5,296.2 276.9,296.2 279.3,296.1 281.6,296.1 284,296 286.4,296 288.7,295.9 291.1,295.9 293.5,295.6 295.8,295.2 298.2,294.8 300.6,294.4 302.9,294.1 305.3,293.7 307.7,293 310,292.3 312.4,291.6 314.8,291 317.1,290.4 319.5,289.8 321.9,289.2 324.2,288.7 326.6,288.2 329,287.6 331.3,287.1 333.7,286.6 336.1,286.2 338.4,285.7 340.8,285.3 343.2,284.8 345.5,284.4 347.9,283.9 350.3,283.5 352.6,283 355,282.5 357.4,282.1 359.7,281.6 362.1,281.2 364.5,280.7 366.8,280.3 369.2,279.8 371.6,279.4 373.9,278.9 376.3,278.5 378.7,278 381,277.5 383.4,277.1 385.8,276.6 388.1,276.2 390.5,275.7 392.9,275.2 395.2,274.6 397.6,274 400,273.4 402.3,272.9 404.7,272.5 407.1,272.1 409.4,271.7 411.8,271.4 414.2,271.2 416.5,271 418.9,270.8 421.3,270.7 423.6,270.4 426,270.1 428.4,269.9 430.7,269.6 433.1,269.3 435.5,269 437.8,268.8"/>
<polyline class="mp" points="82.2,218.9 84.6,220.5 87,221.9 89.3,223.1 91.7,224.4 94.1,225.6 96.4,226.9 98.8,228.1 101.2,229.2 103.5,230.4 105.9,231.5 108.3,232.7 110.6,233.9 113,235 115.4,236.2 117.7,237.3 120.1,238.4 122.5,239.5 124.8,240.7 127.2,241.7 129.6,242.7 131.9,243.7 134.3,244.6 136.7,245.6 139,246.6 141.4,247.5 143.8,248.4 146.1,249.3 148.5,250.3 150.9,251.2 153.2,252.2 155.6,253.1 158,254 160.3,255 162.7,256 165.1,257 167.4,258 169.8,259 172.2,260 174.5,261 176.9,262.1 179.3,263.1 181.6,264.1 184,264.9 186.4,265.7 188.7,266.4 191.1,267.2 193.5,267.9 195.8,268.6 198.2,269.4 200.6,270.1 202.9,270.9 205.3,271.6 207.7,272.3 210,273 212.4,273.7 214.8,274.6 217.1,275.5 219.5,276.4 221.9,277.5 224.2,278.8 226.6,280.2 229,281.6 231.3,283"/>
<polyline class="mp" points="264.5,296.7 266.8,297 269.2,297 271.6,297 273.9,297 276.3,296.9 278.7,296.9 281,296.8 283.4,296.8 285.8,296.7 288.1,296.7 290.5,296.6 292.9,296.3 295.2,296 297.6,295.6 300,295.2"/>
<polyline class="mo" points="302.3,294.8 302.3,294.8"/>
<polyline class="mp" points="304.7,294.5 307.1,293.8 309.4,293 311.8,292.3 314.2,291.7 316.5,291.1 318.9,290.5 321.3,289.9 323.6,289.4 326,288.9 328.4,288.3 330.7,287.8 333.1,287.4 335.5,286.9 337.8,286.4 340.2,286 342.6,285.5 344.9,285.1 347.3,284.6 349.7,284.2 352,283.7 354.4,283.3 356.8,282.8 359.1,282.3 361.5,281.9 363.9,281.4 366.2,281 368.6,280.5 371,280.1 373.3,279.6 375.7,279.2 378.1,278.7 380.4,278.2 382.8,277.8 385.2,277.3 387.5,276.9 389.9,276.4 392.3,275.9 394.6,275.3 397,274.7 399.4,274.1 401.7,273.6 404.1,273.2 406.5,272.8 408.8,272.4 411.2,272.1 413.6,271.9 415.9,271.7 418.3,271.5 420.7,271.4 423,271.1 425.4,270.8 427.8,270.6 430.1,270.3 432.5,270 434.9,269.7 437.2,269.5"/>
<polyline class="mc" points="231.2,283.2 234.8,285.3 238.3,287.4 241.9,289.3 245.4,290.8 249,292.2 252.5,293.7 256.1,295 259.6,296.2"/>
<polyline class="mp" points="81.7,219.7 84,221.2 86.4,222.7 88.8,223.9 91.1,225.2 93.5,226.4 95.9,227.6 98.2,228.8 100.6,230 103,231.2 105.3,232.3 107.7,233.5 110.1,234.6 112.4,235.8 114.8,237 117.2,238.1 119.5,239.2 121.9,240.3 124.3,241.5 126.6,242.5 129,243.5 131.4,244.5 133.7,245.4 136.1,246.4 138.5,247.4 140.8,248.3 143.2,249.2 145.6,250.1 147.9,251.1 150.3,252 152.7,252.9 155,253.9 157.4,254.8 159.8,255.8 162.1,256.7 164.5,257.7 166.9,258.8 169.2,259.8 171.6,260.8 174,261.8 176.3,262.8 178.7,263.8 181.1,264.8 183.4,265.7 185.8,266.4 188.2,267.1 190.5,267.9 192.9,268.6 195.3,269.4 197.6,270.1 200,270.9 202.4,271.6 204.7,272.3 207.1,273 209.5,273.7 211.8,274.4 214.2,275.3 216.6,276.2 218.9,277.1 221.3,278.1 223.7,279.5 226,280.9 228.4,282.3"/>
<polyline class="mp" points="263.9,297.5 266.3,297.7 268.6,297.8 271,297.8 273.4,297.8 275.7,297.7 278.1,297.7 280.5,297.6 282.8,297.5 285.2,297.5 287.6,297.4 289.9,297.4 292.3,297.1 294.7,296.7 297,296.4"/>
<polyline class="mo" points="299.4,296 301.8,295.6 304.1,295.2"/>
<polyline class="mp" points="306.5,294.6 308.9,293.8 311.2,293.1 313.6,292.5 316,291.9 318.3,291.3 320.7,290.7 323.1,290.1 325.4,289.6 327.8,289.1 330.2,288.5 332.5,288.1 334.9,287.6 337.3,287.2 339.6,286.7 342,286.3 344.4,285.8 346.7,285.3 349.1,284.9 351.5,284.4 353.8,284 356.2,283.5 358.6,283.1 360.9,282.6 363.3,282.2 365.7,281.7 368,281.2 370.4,280.8 372.8,280.3 375.1,279.9 377.5,279.4 379.9,279 382.2,278.5 384.6,278 387,277.6 389.3,277.1 391.7,276.6 394.1,276 396.4,275.4 398.8,274.8 401.2,274.2 403.5,273.9 405.9,273.5 408.3,273.1 410.6,272.8 413,272.6 415.4,272.4 417.7,272.2 420.1,272.1 422.5,271.8 424.8,271.6 427.2,271.3 429.6,271 431.9,270.7 434.3,270.4 436.7,270.2"/>
<polyline class="mc" points="230.5,284 234,286.2 237.6,288.3 241.1,290.3 244.7,291.7 248.2,293.2 251.8,294.6 255.3,296 258.9,297.2"/>
<polyline class="mp" points="81.1,220.5 83.4,222 85.8,223.5 88.2,224.7 90.5,226 92.9,227.2 95.3,228.4 97.6,229.6 100,230.8 102.4,232 104.7,233.1 107.1,234.3 109.5,235.4 111.8,236.6 114.2,237.8 116.6,238.9 118.9,240 121.3,241.2 123.7,242.3 126,243.3 128.4,244.3 130.8,245.3 133.1,246.2 135.5,247.2 137.9,248.2 140.2,249.1 142.6,250 145,250.9 147.3,251.9 149.7,252.8 152.1,253.7 154.4,254.7 156.8,255.6 159.2,256.5 161.5,257.5 163.9,258.5 166.3,259.5 168.6,260.5 171,261.5 173.4,262.5 175.7,263.6 178.1,264.6 180.5,265.6 182.8,266.4 185.2,267.1 187.6,267.9 189.9,268.6 192.3,269.4 194.7,270.1 197,270.8 199.4,271.6 201.8,272.3 204.1,273 206.5,273.7 208.9,274.4 211.2,275.2 213.6,276 216,276.9 218.3,277.8 220.7,278.8 223.1,280.2 225.4,281.6 227.8,283"/>
<polyline class="mp" points="260.9,297.9 263.3,298.3 265.7,298.5 268,298.6 270.4,298.6 272.8,298.5 275.1,298.5 277.5,298.4 279.9,298.4 282.2,298.3 284.6,298.3 287,298.2 289.3,298.2 291.7,297.9"/>
<polyline class="mo" points="294.1,297.5 296.4,297.1 298.8,296.8 301.2,296.4 303.5,296"/>
<polyline class="mp" points="305.9,295.3 308.3,294.6 310.6,293.8 313,293.2 315.4,292.6 317.7,292 320.1,291.4 322.5,290.9 324.8,290.3 327.2,289.8 329.6,289.3 331.9,288.8 334.3,288.3 336.7,287.9 339,287.4 341.4,287 343.8,286.5 346.1,286.1 348.5,285.6 350.9,285.2 353.2,284.7 355.6,284.2 358,283.8 360.3,283.3 362.7,282.9 365.1,282.4 367.4,282 369.8,281.5 372.2,281 374.5,280.6 376.9,280.1 379.3,279.7 381.6,279.2 384,278.8 386.4,278.3 388.7,277.8 391.1,277.3 393.5,276.7 395.8,276.1 398.2,275.5 400.6,274.9 402.9,274.6 405.3,274.2 407.7,273.8 410,273.4 412.4,273.3 414.8,273.1 417.1,273 419.5,272.8 421.9,272.5 424.2,272.3 426.6,272 429,271.7 431.3,271.4 433.7,271.1 436.1,270.9"/>
<polyline class="mc" points="229.7,284.9 233.3,287.1 236.8,289.3 240.4,291.2 243.9,292.7 247.5,294.2 251,295.6 254.6,297 258.1,298.2"/>
<polyline class="mp" points="80.5,221.3 82.8,222.8 85.2,224.3 87.6,225.5 89.9,226.8 92.3,228 94.7,229.2 97,230.4 99.4,231.6 101.8,232.7 104.1,233.9 106.5,235.1 108.9,236.2 111.2,237.4 113.6,238.6 116,239.7 118.3,240.8 120.7,242 123.1,243.1 125.4,244.1 127.8,245.1 130.2,246.1 132.5,247.1 134.9,248 137.3,249 139.6,250 142,250.8 144.4,251.7 146.7,252.7 149.1,253.6 151.5,254.5 153.8,255.4 156.2,256.4 158.6,257.3 160.9,258.3 163.3,259.3 165.7,260.3 168,261.3 170.4,262.3 172.8,263.3 175.1,264.3 177.5,265.3 179.9,266.3 182.2,267.1 184.6,267.9 187,268.6 189.3,269.4 191.7,270.1 194.1,270.8 196.4,271.6 198.8,272.3 201.2,273 203.5,273.7 205.9,274.4 208.3,275.1 210.6,275.9 213,276.7 215.4,277.6 217.7,278.5 220.1,279.5 222.5,280.9 224.8,282.3"/>
<polyline class="mp" points="260.3,298.7 262.7,299 265.1,299.3 267.4,299.3 269.8,299.4 272.2,299.3 274.5,299.3 276.9,299.2 279.3,299.1 281.6,299.1 284,299 286.4,299 288.7,298.9"/>
<polyline class="mo" points="291.1,298.7 293.5,298.3 295.8,297.9 298.2,297.5 300.6,297.2 302.9,296.8 305.3,296.1"/>
<polyline class="mp" points="307.7,295.3 310,294.6 312.4,294 314.8,293.4 317.1,292.7 319.5,292.1 321.9,291.6 324.2,291.1 326.6,290.5 329,290 331.3,289.5 333.7,289.1 336.1,288.6 338.4,288.2 340.8,287.7 343.2,287.2 345.5,286.8 347.9,286.3 350.3,285.9 352.6,285.4 355,285 357.4,284.5 359.7,284 362.1,283.6 364.5,283.1 366.8,282.7 369.2,282.2 371.6,281.8 373.9,281.3 376.3,280.8 378.7,280.4 381,279.9 383.4,279.5 385.8,279 388.1,278.6 390.5,278 392.9,277.4 395.2,276.8 397.6,276.2 400,275.6 402.3,275.3 404.7,274.9 407.1,274.5 409.4,274.1 411.8,274 414.2,273.8 416.5,273.7 418.9,273.5 421.3,273.2 423.6,273 426,272.7 428.4,272.4 430.7,272.1 433.1,271.8 435.5,271.6"/>
<polyline class="mc" points="225.4,283.7 229,285.8 232.5,288.1 236.1,290.2 239.6,292.2 243.2,293.7 246.7,295.1 250.3,296.6 253.8,298 257.4,299.2"/>
<polyline class="mp" points="79.9,222.1 82.2,223.6 84.6,225.1 87,226.3 89.3,227.6 91.7,228.8 94.1,230 96.4,231.2 98.8,232.4 101.2,233.6 103.5,234.7 105.9,235.9 108.3,237 110.6,238.2 113,239.4 115.4,240.5 117.7,241.7 120.1,242.8 122.5,243.9 124.8,245 127.2,245.9 129.6,246.9 131.9,247.9 134.3,248.8 136.7,249.8 139,250.8 141.4,251.7 143.8,252.6 146.1,253.5 148.5,254.4 150.9,255.3 153.2,256.2 155.6,257.2 158,258.1 160.3,259.1 162.7,260.1 165.1,261.1 167.4,262.1 169.8,263.1 172.2,264.1 174.5,265.1 176.9,266.1 179.3,267.1 181.6,267.9 184,268.6 186.4,269.4 188.7,270.1 191.1,270.8 193.5,271.6 195.8,272.3 198.2,273.1 200.6,273.8 202.9,274.5 205.3,275.2 207.7,275.9 210,276.6 212.4,277.5 214.8,278.3 217.1,279.2 219.5,280.2 221.9,281.6 224.2,283"/>
<polyline class="mp" points="259.7,299.5 262.1,299.8 264.5,300.1 266.8,300.1 269.2,300.1 271.6,300.1 273.9,300 276.3,300 278.7,299.9 281,299.9 283.4,299.8 285.8,299.8"/>
<polyline class="mo" points="288.1,299.7 290.5,299.4 292.9,299.1 295.2,298.7 297.6,298.3 300,298 302.3,297.6 304.7,296.9 307.1,296.1"/>
<polyline class="mp" points="309.4,295.3 311.8,294.7 314.2,294.1 316.5,293.5 318.9,292.9 321.3,292.3 323.6,291.8 326,291.3 328.4,290.7 330.7,290.3 333.1,289.8 335.5,289.3 337.8,288.9 340.2,288.4 342.6,288 344.9,287.5 347.3,287.1 349.7,286.6 352,286.1 354.4,285.7 356.8,285.2 359.1,284.8 361.5,284.3 363.9,283.9 366.2,283.4 368.6,282.9 371,282.5 373.3,282 375.7,281.6 378.1,281.1 380.4,280.6 382.8,280.2 385.2,279.7 387.5,279.3 389.9,278.7 392.3,278.1 394.6,277.5 397,276.9 399.4,276.3 401.7,275.9 404.1,275.6 406.5,275.2 408.8,274.8 411.2,274.7 413.6,274.5 415.9,274.4 418.3,274.2 420.7,274 423,273.7 425.4,273.4 427.8,273.1 430.1,272.8 432.5,272.6 434.9,272.3"/>
<polyline class="mp" points="79.3,222.9 81.7,224.5 84,225.9 86.4,227.1 88.8,228.4 91.1,229.6 93.5,230.8 95.9,232 98.2,233.2 100.6,234.4 103,235.5 105.3,236.7 107.7,237.9 110.1,239 112.4,240.2 114.8,241.4 117.2,242.5 119.5,243.6 121.9,244.7 124.3,245.8 126.6,246.8 129,247.7 131.4,248.7 133.7,249.7 136.1,250.6 138.5,251.6 140.8,252.5 143.2,253.4 145.6,254.3 147.9,255.2 150.3,256.1 152.7,257 155,258 157.4,258.9 159.8,259.8 162.1,260.8 164.5,261.8 166.9,262.8 169.2,263.8 171.6,264.8 174,265.8 176.3,266.9 178.7,267.8 181.1,268.6 183.4,269.4 185.8,270.1 188.2,270.9 190.5,271.6 192.9,272.3 195.3,273.1 197.6,273.8 200,274.5 202.4,275.2 204.7,275.9 207.1,276.6 209.5,277.3 211.8,278.2 214.2,279 216.6,279.9 218.9,280.9 221.3,282.3"/>
<polyline class="mp" points="259.2,300.3 261.5,300.6 263.9,300.8 266.3,300.9 268.6,300.9 271,300.9 273.4,300.8 275.7,300.8 278.1,300.7 280.5,300.7"/>
<polyline class="mo" points="282.8,300.6 285.2,300.5 287.6,300.5 289.9,300.2 292.3,299.9 294.7,299.5 297,299.1 299.4,298.8 301.8,298.4 304.1,297.7 306.5,296.9"/>
<polyline class="mp" points="308.9,296.1 311.2,295.5 313.6,294.9 316,294.2 318.3,293.6 320.7,293.1 323.1,292.6 325.4,292 327.8,291.5 330.2,291 332.5,290.5 334.9,290.1 337.3,289.6 339.6,289.2 342,288.7 344.4,288.2 346.7,287.8 349.1,287.3 351.5,286.9 353.8,286.4 356.2,286 358.6,285.5 360.9,285 363.3,284.6 365.7,284.1 368,283.7 370.4,283.2 372.8,282.7 375.1,282.3 377.5,281.8 379.9,281.4 382.2,280.9 384.6,280.5 387,280 389.3,279.5 391.7,278.8 394.1,278.2 396.4,277.6 398.8,277 401.2,276.6 403.5,276.3 405.9,275.9 408.3,275.5 410.6,275.4 413,275.2 415.4,275.1 417.7,274.9 420.1,274.7 422.5,274.4 424.8,274.1 427.2,273.8 429.6,273.5 431.9,273.3 434.3,273"/>
<polyline class="mc" points="224.7,284.6 228.2,286.7 231.8,289 235.3,291.2 238.9,293.1 242.4,294.6 246,296.1 249.5,297.6 253.1,299 256.6,300.2"/>
<polyline class="mp" points="78.7,223.7 81.1,225.3 83.4,226.7 85.8,228 88.2,229.2 90.5,230.4 92.9,231.6 95.3,232.8 97.6,234 100,235.2 102.4,236.3 104.7,237.5 107.1,238.7 109.5,239.8 111.8,241 114.2,242.2 116.6,243.3 118.9,244.4 121.3,245.6 123.7,246.6 126,247.6 128.4,248.6 130.8,249.5 133.1,250.5 135.5,251.5 137.9,252.4 140.2,253.3 142.6,254.2 145,255.1 147.3,256 149.7,256.9 152.1,257.8 154.4,258.8 156.8,259.7 159.2,260.6 161.5,261.6 163.9,262.6 166.3,263.6 168.6,264.6 171,265.6 173.4,266.6 175.7,267.6 178.1,268.6 180.5,269.4 182.8,270.1 185.2,270.9 187.6,271.6 189.9,272.3 192.3,273.1 194.7,273.8 197,274.6 199.4,275.3 201.8,276 204.1,276.6 206.5,277.3 208.9,278.1 211.2,278.9 213.6,279.7 216,280.6 218.3,281.6 220.7,283"/>
<polyline class="mp" points="256.2,300.8 258.6,301.1 260.9,301.4 263.3,301.6 265.7,301.7 268,301.7 270.4,301.7 272.8,301.6 275.1,301.6 277.5,301.5"/>
<polyline class="mo" points="279.9,301.4 282.2,301.4 284.6,301.3 287,301.3 289.3,301 291.7,300.6 294.1,300.3 296.4,299.9 298.8,299.6 301.2,299.2 303.5,298.5 305.9,297.7 308.3,296.9"/>
<polyline class="mp" points="310.6,296.3 313,295.6 315.4,295 317.7,294.4 320.1,293.8 322.5,293.3 324.8,292.8 327.2,292.2 329.6,291.7 331.9,291.3 334.3,290.8 336.7,290.4 339,289.9 341.4,289.4 343.8,289 346.1,288.5 348.5,288.1 350.9,287.6 353.2,287.1 355.6,286.7 358,286.2 360.3,285.8 362.7,285.3 365.1,284.8 367.4,284.4 369.8,283.9 372.2,283.5 374.5,283 376.9,282.6 379.3,282.1 381.6,281.6 384,281.2 386.4,280.7 388.7,280.2 391.1,279.6 393.5,278.9 395.8,278.3 398.2,277.7 400.6,277.3 402.9,277 405.3,276.6 407.7,276.2 410,276.1 412.4,275.9 414.8,275.8 417.1,275.6 419.5,275.4 421.9,275.1 424.2,274.8 426.6,274.5 429,274.3 431.3,274 433.7,273.7"/>
<polyline class="mc" points="220.4,283.3 224,285.5 227.5,287.6 231.1,289.9 234.6,292.1 238.2,294.1 241.7,295.6 245.3,297.1 248.8,298.6 252.4,300"/>
<polyline class="mp" points="78.1,224.5 80.5,226.1 82.8,227.6 85.2,228.8 87.6,230 89.9,231.2 92.3,232.5 94.7,233.7 97,234.8 99.4,236 101.8,237.2 104.1,238.3 106.5,239.5 108.9,240.7 111.2,241.8 113.6,243 116,244.1 118.3,245.3 120.7,246.4 123.1,247.5 125.4,248.4 127.8,249.4 130.2,250.4 132.5,251.3 134.9,252.3 137.3,253.3 139.6,254.1 142,255 144.4,255.9 146.7,256.8 149.1,257.7 151.5,258.6 153.8,259.6 156.2,260.5 158.6,261.4 160.9,262.4 163.3,263.4 165.7,264.4 168,265.4 170.4,266.4 172.8,267.4 175.1,268.4 177.5,269.4 179.9,270.2 182.2,270.9 184.6,271.6 187,272.4 189.3,273.1 191.7,273.8 194.1,274.6 196.4,275.3 198.8,276 201.2,276.7 203.5,277.4 205.9,278.1 208.3,278.8 210.6,279.6 213,280.4 215.4,281.3 217.7,282.3"/>
<polyline class="mp" points="255.6,301.7 258,301.9 260.3,302.2 262.7,302.4 265.1,302.5 267.4,302.5 269.8,302.5 272.2,302.4"/>
<polyline class="mo" points="274.5,302.3 276.9,302.3 279.3,302.2 281.6,302.2 284,302.1 286.4,302.1 288.7,301.8 291.1,301.4 293.5,301.1 295.8,300.7 298.2,300.4 300.6,300 302.9,299.3 305.3,298.4 307.7,297.7"/>
<polyline class="mp" points="310,297 312.4,296.4 314.8,295.8 317.1,295.1 319.5,294.6 321.9,294 324.2,293.5 326.6,293 329,292.5 331.3,292 333.7,291.6 336.1,291.1 338.4,290.6 340.8,290.2 343.2,289.7 345.5,289.3 347.9,288.8 350.3,288.3 352.6,287.9 355,287.4 357.4,287 359.7,286.5 362.1,286 364.5,285.6 366.8,285.1 369.2,284.7 371.6,284.2 373.9,283.7 376.3,283.3 378.7,282.8 381,282.4 383.4,281.9 385.8,281.4 388.1,280.9 390.5,280.3 392.9,279.6 395.2,279 397.6,278.4 400,278.1 402.3,277.7 404.7,277.3 407.1,277 409.4,276.8 411.8,276.6 414.2,276.5 416.5,276.3 418.9,276.1 421.3,275.8 423.6,275.5 426,275.2 428.4,275 430.7,274.7 433.1,274.4"/>
<polyline class="mc" points="219.7,284.2 223.2,286.4 226.8,288.5 230.3,290.8 233.9,293.1 237.4,295.1 241,296.6 244.5,298.1 248.1,299.6 251.6,301"/>
<polyline class="mp" points="77.5,225.3 79.9,226.9 82.2,228.4 84.6,229.6 87,230.9 89.3,232.1 91.7,233.3 94.1,234.5 96.4,235.7 98.8,236.8 101.2,238 103.5,239.2 105.9,240.3 108.3,241.5 110.6,242.7 113,243.8 115.4,245 117.7,246.1 120.1,247.3 122.5,248.3 124.8,249.3 127.2,250.3 129.6,251.2 131.9,252.2 134.3,253.2 136.7,254.1 139,255 141.4,255.9 143.8,256.8 146.1,257.7 148.5,258.6 150.9,259.5 153.2,260.4 155.6,261.3 158,262.2 160.3,263.2 162.7,264.2 165.1,265.2 167.4,266.2 169.8,267.2 172.2,268.2 174.5,269.2 176.9,270.1 179.3,270.9 181.6,271.7 184,272.4 186.4,273.1 188.7,273.9 191.1,274.6 193.5,275.3 195.8,276.1 198.2,276.8 200.6,277.5 202.9,278.1 205.3,278.8 207.7,279.6 210,280.4 212.4,281.2 214.8,282 217.1,283"/>
<polyline class="mp" points="255,302.5 257.4,302.7 259.7,303 262.1,303.2 264.5,303.3 266.8,303.3 269.2,303.2"/>
<polyline class="mo" points="271.6,303.2 273.9,303.1 276.3,303.1 278.7,303 281,303 283.4,302.9 285.8,302.9 288.1,302.6 290.5,302.2 292.9,301.9 295.2,301.5 297.6,301.2 300,300.8 302.3,300.1 304.7,299.2 307.1,298.4 309.4,297.8"/>
<polyline class="mp" points="311.8,297.2 314.2,296.5 316.5,295.9 318.9,295.3 321.3,294.8 323.6,294.2 326,293.7 328.4,293.2 330.7,292.8 333.1,292.3 335.5,291.8 337.8,291.4 340.2,290.9 342.6,290.5 344.9,290 347.3,289.5 349.7,289.1 352,288.6 354.4,288.2 356.8,287.7 359.1,287.2 361.5,286.8 363.9,286.3 366.2,285.8 368.6,285.4 371,284.9 373.3,284.5 375.7,284 378.1,283.5 380.4,283.1 382.8,282.6 385.2,282.2 387.5,281.6 389.9,281 392.3,280.3 394.6,279.7 397,279.1 399.4,278.8 401.7,278.4 404.1,278 406.5,277.7 408.8,277.5 411.2,277.4 413.6,277.2 415.9,277.1 418.3,276.8 420.7,276.5 423,276.2 425.4,276 427.8,275.7 430.1,275.4 432.5,275.1"/>
<polyline class="mc" points="218.9,285.1 222.5,287.3 226,289.5 229.6,291.8 233.1,294 236.7,296.1 240.2,297.6 243.8,299.1 247.3,300.6 250.9,302"/>
<polyline class="mp" points="76.9,226.2 79.3,227.8 81.7,229.3 84,230.5 86.4,231.7 88.8,232.9 91.1,234.1 93.5,235.3 95.9,236.5 98.2,237.7 100.6,238.8 103,240 105.3,241.2 107.7,242.4 110.1,243.5 112.4,244.7 114.8,245.8 117.2,247 119.5,248.1 121.9,249.2 124.3,250.1 126.6,251.1 129,252.1 131.4,253 133.7,254 136.1,255 138.5,255.8 140.8,256.7 143.2,257.6 145.6,258.5 147.9,259.4 150.3,260.3 152.7,261.2 155,262.1 157.4,263 159.8,264 162.1,265 164.5,266 166.9,267 169.2,268 171.6,269 174,270 176.3,270.9 178.7,271.7 181.1,272.4 183.4,273.2 185.8,273.9 188.2,274.6 190.5,275.4 192.9,276.1 195.3,276.8 197.6,277.5 200,278.2 202.4,278.9 204.7,279.6 207.1,280.3 209.5,281.1 211.8,281.9 214.2,282.7 216.6,283.7"/>
<polyline class="mp" points="254.4,303.3 256.8,303.5 259.2,303.8 261.5,304 263.9,304.1 266.3,304.1"/>
<polyline class="mo" points="268.6,304 271,304 273.4,303.9 275.7,303.9 278.1,303.8 280.5,303.8 282.8,303.7 285.2,303.7 287.6,303.4 289.9,303 292.3,302.7 294.7,302.3 297,302 299.4,301.6 301.8,300.9 304.1,300 306.5,299.2 308.9,298.6"/>
<polyline class="mp" points="311.2,297.9 313.6,297.3 316,296.7 318.3,296.1 320.7,295.5 323.1,295 325.4,294.4 327.8,294 330.2,293.5 332.5,293 334.9,292.6 337.3,292.1 339.6,291.7 342,291.2 344.4,290.7 346.7,290.3 349.1,289.8 351.5,289.4 353.8,288.9 356.2,288.4 358.6,288 360.9,287.5 363.3,287 365.7,286.6 368,286.1 370.4,285.7 372.8,285.2 375.1,284.7 377.5,284.3 379.9,283.8 382.2,283.4 384.6,282.9 387,282.4 389.3,281.7 391.7,281.1 394.1,280.4 396.4,279.8 398.8,279.5 401.2,279.1 403.5,278.7 405.9,278.4 408.3,278.2 410.6,278.1 413,277.9 415.4,277.8 417.7,277.5 420.1,277.2 422.5,277 424.8,276.7 427.2,276.4 429.6,276.1 431.9,275.8"/>
<polyline class="mp" points="76.3,227 78.7,228.6 81.1,230.1 83.4,231.3 85.8,232.5 88.2,233.8 90.5,235 92.9,236.2 95.3,237.3 97.6,238.5 100,239.7 102.4,240.9 104.7,242 107.1,243.2 109.5,244.4 111.8,245.5 114.2,246.7 116.6,247.8 118.9,249 121.3,250 123.7,251 126,252 128.4,252.9 130.8,253.9 133.1,254.9 135.5,255.8 137.9,256.7 140.2,257.6 142.6,258.4 145,259.3 147.3,260.2 149.7,261.1 152.1,262 154.4,262.9 156.8,263.8 159.2,264.8 161.5,265.8 163.9,266.8 166.3,267.8 168.6,268.8 171,269.8 173.4,270.8 175.7,271.7 178.1,272.5 180.5,273.2 182.8,274 185.2,274.7 187.6,275.4 189.9,276.1 192.3,276.9 194.7,277.6 197,278.3 199.4,279 201.8,279.7 204.1,280.3 206.5,281.1 208.9,281.8 211.2,282.6 213.6,283.4"/>
<polyline class="mp" points="253.8,304.1 256.2,304.4 258.6,304.6 260.9,304.8"/>
<polyline class="mo" points="263.3,304.9 265.7,304.9 268,304.9 270.4,304.8 272.8,304.7 275.1,304.7 277.5,304.6 279.9,304.6 282.2,304.5 284.6,304.5 287,304.2 289.3,303.8 291.7,303.5 294.1,303.1 296.4,302.8 298.8,302.4 301.2,301.7 303.5,300.8 305.9,300 308.3,299.4 310.6,298.7"/>
<polyline class="mp" points="313,298.1 315.4,297.4 317.7,296.9 320.1,296.3 322.5,295.8 324.8,295.2 327.2,294.7 329.6,294.3 331.9,293.8 334.3,293.3 336.7,292.9 339,292.4 341.4,291.9 343.8,291.5 346.1,291 348.5,290.6 350.9,290.1 353.2,289.6 355.6,289.2 358,288.7 360.3,288.2 362.7,287.8 365.1,287.3 367.4,286.9 369.8,286.4 372.2,285.9 374.5,285.5 376.9,285 379.3,284.5 381.6,284.1 384,283.6 386.4,283.1 388.7,282.4 391.1,281.8 393.5,281.1 395.8,280.5 398.2,280.2 400.6,279.8 402.9,279.4 405.3,279.1 407.7,278.9 410,278.8 412.4,278.6 414.8,278.5 417.1,278.3 419.5,278 421.9,277.7 424.2,277.4 426.6,277.1 429,276.8 431.3,276.5"/>
<polyline class="mc" points="218.2,286 221.7,288.2 225.3,290.4 228.8,292.7 232.4,295 235.9,297.1 239.5,298.6 243,300.1 246.6,301.6 250.1,303.1"/>
<polyline class="mp" points="75.7,227.9 78.1,229.5 80.5,231 82.8,232.2 85.2,233.4 87.6,234.6 89.9,235.8 92.3,237 94.7,238.2 97,239.4 99.4,240.5 101.8,241.7 104.1,242.9 106.5,244.1 108.9,245.2 111.2,246.4 113.6,247.6 116,248.7 118.3,249.8 120.7,250.9 123.1,251.9 125.4,252.8 127.8,253.8 130.2,254.8 132.5,255.7 134.9,256.7 137.3,257.5 139.6,258.4 142,259.3 144.4,260.2 146.7,261.1 149.1,262 151.5,262.8 153.8,263.7 156.2,264.7 158.6,265.7 160.9,266.6 163.3,267.6 165.7,268.6 168,269.6 170.4,270.6 172.8,271.6 175.1,272.5 177.5,273.3 179.9,274 182.2,274.7 184.6,275.5 187,276.2 189.3,276.9 191.7,277.7 194.1,278.4 196.4,279.1 198.8,279.8 201.2,280.4 203.5,281.1 205.9,281.8 208.3,282.6 210.6,283.4 213,284.1"/>
<polyline class="mp" points="253.2,305 255.6,305.2 258,305.4"/>
<polyline class="mo" points="260.3,305.6 262.7,305.7 265.1,305.7 267.4,305.7 269.8,305.6 272.2,305.6 274.5,305.5 276.9,305.4 279.3,305.4 281.6,305.3 284,305.3 286.4,305 288.7,304.7 291.1,304.3 293.5,304 295.8,303.6 298.2,303.2 300.6,302.5 302.9,301.6 305.3,300.8 307.7,300.1 310,299.5"/>
<polyline class="mp" points="312.4,298.8 314.8,298.2 317.1,297.6 319.5,297.1 321.9,296.5 324.2,296 326.6,295.5 329,295 331.3,294.5 333.7,294.1 336.1,293.6 338.4,293.2 340.8,292.7 343.2,292.2 345.5,291.8 347.9,291.3 350.3,290.8 352.6,290.4 355,289.9 357.4,289.5 359.7,289 362.1,288.5 364.5,288.1 366.8,287.6 369.2,287.1 371.6,286.7 373.9,286.2 376.3,285.7 378.7,285.3 381,284.8 383.4,284.4 385.8,283.8 388.1,283.2 390.5,282.5 392.9,281.9 395.2,281.3 397.6,280.9 400,280.5 402.3,280.2 404.7,279.8 407.1,279.7 409.4,279.5 411.8,279.4 414.2,279.2 416.5,279 418.9,278.7 421.3,278.4 423.6,278.1 426,277.8 428.4,277.6 430.7,277.3"/>
<polyline class="mc" points="217.4,286.9 221,289.1 224.5,291.3 228.1,293.7 231.6,296 235.2,298.1 238.7,299.6 242.3,301.1 245.8,302.6 249.4,304.1"/>
<polyline class="mp" points="75.1,228.7 77.5,230.4 79.9,231.9 82.2,233.1 84.6,234.3 87,235.5 89.3,236.7 91.7,237.9 94.1,239.1 96.4,240.2 98.8,241.4 101.2,242.6 103.5,243.8 105.9,244.9 108.3,246.1 110.6,247.3 113,248.4 115.4,249.6 117.7,250.7 120.1,251.8 122.5,252.8 124.8,253.7 127.2,254.7 129.6,255.6 131.9,256.6 134.3,257.6 136.7,258.4 139,259.3 141.4,260.2 143.8,261 146.1,261.9 148.5,262.8 150.9,263.7 153.2,264.6 155.6,265.5 158,266.5 160.3,267.5 162.7,268.4 165.1,269.4 167.4,270.4 169.8,271.4 172.2,272.4 174.5,273.3 176.9,274.1 179.3,274.8 181.6,275.5 184,276.3 186.4,277 188.7,277.7 191.1,278.4 193.5,279.2 195.8,279.9 198.2,280.5 200.6,281.2 202.9,281.9 205.3,282.6 207.7,283.4 210,284.1 212.4,284.9"/>
<polyline class="mp" points="252.6,305.8 255,306"/>
<polyline class="mo" points="257.4,306.2 259.7,306.4 262.1,306.5 264.5,306.5 266.8,306.5 269.2,306.4 271.6,306.4 273.9,306.3 276.3,306.3 278.7,306.2 281,306.2 283.4,306.1 285.8,305.8 288.1,305.5 290.5,305.1 292.9,304.8 295.2,304.4 297.6,304.1 300,303.3 302.3,302.4 304.7,301.6 307.1,300.9 309.4,300.3 311.8,299.6"/>
<polyline class="mp" points="314.2,299 316.5,298.4 318.9,297.8 321.3,297.3 323.6,296.7 326,296.2 328.4,295.8 330.7,295.3 333.1,294.8 335.5,294.4 337.8,293.9 340.2,293.5 342.6,293 344.9,292.5 347.3,292.1 349.7,291.6 352,291.1 354.4,290.7 356.8,290.2 359.1,289.7 361.5,289.3 363.9,288.8 366.2,288.4 368.6,287.9 371,287.4 373.3,287 375.7,286.5 378.1,286 380.4,285.6 382.8,285.1 385.2,284.6 387.5,283.9 389.9,283.2 392.3,282.6 394.6,282 397,281.6 399.4,281.2 401.7,280.9 404.1,280.5 406.5,280.4 408.8,280.2 411.2,280.1 413.6,280 415.9,279.7 418.3,279.4 420.7,279.1 423,278.9 425.4,278.6 427.8,278.3 430.1,278"/>
<polyline class="mc" points="216.7,287.9 220.3,290.1 223.8,292.3 227.4,294.7 230.9,297 234.5,299.1 238,300.6 241.6,302.2 245.1,303.7 248.7,305.2"/>
<polyline class="mp" points="74.6,229.6 76.9,231.2 79.3,232.7 81.7,233.9 84,235.2 86.4,236.4 88.8,237.6 91.1,238.8 93.5,239.9 95.9,241.1 98.2,242.3 100.6,243.5 103,244.6 105.3,245.8 107.7,247 110.1,248.2 112.4,249.3 114.8,250.5 117.2,251.6 119.5,252.7 121.9,253.7 124.3,254.6 126.6,255.6 129,256.5 131.4,257.5 133.7,258.4 136.1,259.3 138.5,260.2 140.8,261 143.2,261.9 145.6,262.8 147.9,263.7 150.3,264.5 152.7,265.4 155,266.3 157.4,267.3 159.8,268.3 162.1,269.3 164.5,270.2 166.9,271.2 169.2,272.2 171.6,273.2 174,274.1 176.3,274.9 178.7,275.6 181.1,276.3 183.4,277.1 185.8,277.8 188.2,278.5 190.5,279.2 192.9,280 195.3,280.7 197.6,281.3 200,282 202.4,282.7 204.7,283.4 207.1,284.1 209.5,284.9 211.8,285.6"/>
<polyline class="mo" points="252.1,306.7 254.4,306.9 256.8,307.1 259.2,307.2 261.5,307.3 263.9,307.4 266.3,307.3 268.6,307.3 271,307.2 273.4,307.2 275.7,307.1 278.1,307 280.5,307 282.8,306.9 285.2,306.7 287.6,306.3 289.9,306 292.3,305.6 294.7,305.3 297,304.9 299.4,304.1 301.8,303.2 304.1,302.4 306.5,301.7 308.9,301.1 311.2,300.4 313.6,299.8"/>
<polyline class="mp" points="316,299.2 318.3,298.6 320.7,298.1 323.1,297.5 325.4,297 327.8,296.6 330.2,296.1 332.5,295.6 334.9,295.2 337.3,294.7 339.6,294.2 342,293.8 344.4,293.3 346.7,292.8 349.1,292.4 351.5,291.9 353.8,291.4 356.2,291 358.6,290.5 360.9,290 363.3,289.6 365.7,289.1 368,288.6 370.4,288.2 372.8,287.7 375.1,287.3 377.5,286.8 379.9,286.3 382.2,285.9 384.6,285.3 387,284.6 389.3,284 391.7,283.3 394.1,282.7 396.4,282.3 398.8,282 401.2,281.6 403.5,281.3 405.9,281.1 408.3,281 410.6,280.8 413,280.7 415.4,280.5 417.7,280.2 420.1,279.9 422.5,279.6 424.8,279.3 427.2,279 429.6,278.7"/>
<polyline class="mc" points="212.4,286.8 216,288.8 219.5,291 223.1,293.3 226.6,295.7 230.2,298 233.7,300.1 237.3,301.7 240.8,303.2 244.4,304.8 247.9,306.2"/>
<polyline class="mp" points="74,230.5 76.3,232.1 78.7,233.7 81.1,234.9 83.4,236.1 85.8,237.3 88.2,238.5 90.5,239.7 92.9,240.8 95.3,242 97.6,243.2 100,244.4 102.4,245.5 104.7,246.7 107.1,247.9 109.5,249.1 111.8,250.2 114.2,251.4 116.6,252.5 118.9,253.6 121.3,254.6 123.7,255.5 126,256.5 128.4,257.4 130.8,258.4 133.1,259.4 135.5,260.2 137.9,261.1 140.2,261.9 142.6,262.8 145,263.7 147.3,264.5 149.7,265.4 152.1,266.3 154.4,267.2 156.8,268.2 159.2,269.2 161.5,270.1 163.9,271.1 166.3,272.1 168.6,273.1 171,274 173.4,275 175.7,275.7 178.1,276.4 180.5,277.2 182.8,277.9 185.2,278.6 187.6,279.3 189.9,280.1 192.3,280.8 194.7,281.5 197,282.1 199.4,282.8 201.8,283.5 204.1,284.2 206.5,284.9 208.9,285.7 211.2,286.4"/>
<polyline class="mo" points="251.5,307.6 253.8,307.7 256.2,307.9 258.6,308.1 260.9,308.2 263.3,308.2 265.7,308.2 268,308.1 270.4,308.1 272.8,308 275.1,307.9 277.5,307.9 279.9,307.8 282.2,307.8 284.6,307.5 287,307.2 289.3,306.8 291.7,306.5 294.1,306.1 296.4,305.8 298.8,305 301.2,304.1 303.5,303.2 305.9,302.6 308.3,301.9 310.6,301.2 313,300.6"/>
<polyline class="mp" points="315.4,300 317.7,299.4 320.1,298.9 322.5,298.3 324.8,297.8 327.2,297.3 329.6,296.9 331.9,296.4 334.3,295.9 336.7,295.5 339,295 341.4,294.6 343.8,294.1 346.1,293.6 348.5,293.2 350.9,292.7 353.2,292.2 355.6,291.8 358,291.3 360.3,290.8 362.7,290.4 365.1,289.9 367.4,289.4 369.8,289 372.2,288.5 374.5,288 376.9,287.6 379.3,287.1 381.6,286.6 384,286.1 386.4,285.4 388.7,284.7 391.1,284.1 393.5,283.5 395.8,283.1 398.2,282.7 400.6,282.4 402.9,282 405.3,281.9 407.7,281.7 410,281.6 412.4,281.5 414.8,281.2 417.1,280.9 419.5,280.6 421.9,280.4 424.2,280.1 426.6,279.8 429,279.5"/>
<polyline class="mp" points="73.4,231.5 75.7,233.1 78.1,234.6 80.5,235.8 82.8,237 85.2,238.2 87.6,239.4 89.9,240.6 92.3,241.8 94.7,243 97,244.1 99.4,245.3 101.8,246.5 104.1,247.7 106.5,248.8 108.9,250 111.2,251.2 113.6,252.3 116,253.5 118.3,254.6 120.7,255.5 123.1,256.5 125.4,257.4 127.8,258.4 130.2,259.4 132.5,260.3 134.9,261.2 137.3,262 139.6,262.9 142,263.7 144.4,264.6 146.7,265.5 149.1,266.3 151.5,267.2 153.8,268.1 156.2,269.1 158.6,270.1 160.9,271 163.3,272 165.7,273 168,273.9 170.4,274.9 172.8,275.8 175.1,276.6 177.5,277.3 179.9,278 182.2,278.8 184.6,279.5 187,280.2 189.3,280.9 191.7,281.6 194.1,282.3 196.4,283 198.8,283.7 201.2,284.3 203.5,285 205.9,285.7 208.3,286.5 210.6,287.2"/>
<polyline class="mo" points="250.9,308.5 253.2,308.7 255.6,308.8 258,309 260.3,309.1 262.7,309.1 265.1,309.1 267.4,309 269.8,309 272.2,308.9 274.5,308.8 276.9,308.8 279.3,308.7 281.6,308.7 284,308.4 286.4,308.1 288.7,307.7 291.1,307.4 293.5,307 295.8,306.7 298.2,305.9 300.6,305 302.9,304.1 305.3,303.4 307.7,302.8 310,302.1 312.4,301.4 314.8,300.8"/>
<polyline class="mp" points="317.1,300.3 319.5,299.7 321.9,299.1 324.2,298.6 326.6,298.2 329,297.7 331.3,297.2 333.7,296.8 336.1,296.3 338.4,295.8 340.8,295.4 343.2,294.9 345.5,294.4 347.9,294 350.3,293.5 352.6,293 355,292.6 357.4,292.1 359.7,291.6 362.1,291.2 364.5,290.7 366.8,290.2 369.2,289.8 371.6,289.3 373.9,288.8 376.3,288.4 378.7,287.9 381,287.4 383.4,286.9 385.8,286.2 388.1,285.5 390.5,284.9 392.9,284.3 395.2,283.9 397.6,283.5 400,283.2 402.3,282.8 404.7,282.7 407.1,282.5 409.4,282.4 411.8,282.3 414.2,282 416.5,281.7 418.9,281.4 421.3,281.2 423.6,280.9 426,280.6 428.4,280.3"/>
<polyline class="mc" points="215.2,289.8 218.8,292.1 222.3,294.3 225.9,296.7 229.4,299.1 233,301.3 236.5,302.8 240.1,304.4 243.6,305.9 247.2,307.4"/>
<polyline class="mp" points="72.8,232.5 75.1,234.1 77.5,235.6 79.9,236.8 82.2,238 84.6,239.2 87,240.4 89.3,241.6 91.7,242.8 94.1,244 96.4,245.2 98.8,246.3 101.2,247.5 103.5,248.7 105.9,249.9 108.3,251 110.6,252.2 113,253.4 115.4,254.5 117.7,255.6 120.1,256.6 122.5,257.5 124.8,258.5 127.2,259.4 129.6,260.4 131.9,261.3 134.3,262.2 136.7,263 139,263.9 141.4,264.7 143.8,265.6 146.1,266.5 148.5,267.3 150.9,268.2 153.2,269.1 155.6,270.1 158,271 160.3,272 162.7,273 165.1,273.9 167.4,274.9 169.8,275.9 172.2,276.8 174.5,277.5 176.9,278.3 179.3,279 181.6,279.7 184,280.4 186.4,281.1 188.7,281.9 191.1,282.6 193.5,283.3 195.8,283.9 198.2,284.6 200.6,285.3 202.9,285.9 205.3,286.7 207.7,287.4 210,288.1"/>
<polyline class="mo" points="250.3,309.5 252.6,309.6 255,309.8 257.4,309.9 259.7,310 262.1,310.1 264.5,310 266.8,310 269.2,309.9 271.6,309.9 273.9,309.8 276.3,309.8 278.7,309.7 281,309.6 283.4,309.4 285.8,309 288.1,308.7 290.5,308.3 292.9,308 295.2,307.7 297.6,306.9 300,305.9 302.3,305.1 304.7,304.4 307.1,303.7 309.4,303 311.8,302.3 314.2,301.8"/>
<polyline class="mp" points="316.5,301.2 318.9,300.6 321.3,300 323.6,299.6 326,299.1 328.4,298.6 330.7,298.2 333.1,297.7 335.5,297.2 337.8,296.7 340.2,296.3 342.6,295.8 344.9,295.3 347.3,294.9 349.7,294.4 352,293.9 354.4,293.5 356.8,293 359.1,292.5 361.5,292.1 363.9,291.6 366.2,291.1 368.6,290.7 371,290.2 373.3,289.7 375.7,289.3 378.1,288.8 380.4,288.3 382.8,287.8 385.2,287.1 387.5,286.4 389.9,285.7 392.3,285.1 394.6,284.8 397,284.4 399.4,284 401.7,283.7 404.1,283.5 406.5,283.4 408.8,283.3 411.2,283.1 413.6,282.9 415.9,282.6 418.3,282.3 420.7,282 423,281.7 425.4,281.4 427.8,281.2"/>
<polyline class="mc" points="214.5,291 218,293.2 221.6,295.5 225.1,297.9 228.7,300.3 232.2,302.5 235.8,304.1 239.3,305.7 242.9,307.2 246.4,308.7"/>
<polyline class="mp" points="72.2,233.7 74.6,235.3 76.9,236.8 79.3,238 81.7,239.2 84,240.4 86.4,241.6 88.8,242.8 91.1,244 93.5,245.2 95.9,246.3 98.2,247.5 100.6,248.7 103,249.9 105.3,251.1 107.7,252.2 110.1,253.4 112.4,254.6 114.8,255.7 117.2,256.8 119.5,257.8 121.9,258.7 124.3,259.7 126.6,260.6 129,261.6 131.4,262.5 133.7,263.4 136.1,264.2 138.5,265.1 140.8,265.9 143.2,266.8 145.6,267.6 147.9,268.5 150.3,269.3 152.7,270.2 155,271.2 157.4,272.2 159.8,273.1 162.1,274.1 164.5,275.1 166.9,276 169.2,277 171.6,277.9 174,278.6 176.3,279.4 178.7,280.1 181.1,280.8 183.4,281.5 185.8,282.2 188.2,282.9 190.5,283.7 192.9,284.3 195.3,285 197.6,285.7 200,286.3 202.4,287 204.7,287.7 207.1,288.4 209.5,289.1"/>
<polyline class="mo" points="249.7,310.6 252.1,310.8 254.4,310.9 256.8,311.1 259.2,311.2 261.5,311.2 263.9,311.2 266.3,311.1 268.6,311.1 271,311 273.4,310.9 275.7,310.9 278.1,310.8 280.5,310.8 282.8,310.5 285.2,310.2 287.6,309.8 289.9,309.5 292.3,309.1 294.7,308.8 297,308 299.4,307 301.8,306.2 304.1,305.5 306.5,304.8 308.9,304.1 311.2,303.4 313.6,302.8 316,302.3 318.3,301.7 320.7,301.1 323.1,300.6 325.4,300.1 327.8,299.7 330.2,299.2 332.5,298.7"/>
<polyline class="mp" points="334.9,298.3 337.3,297.8 339.6,297.3 342,296.9 344.4,296.4 346.7,295.9 349.1,295.5 351.5,295 353.8,294.5 356.2,294.1 358.6,293.6 360.9,293.1 363.3,292.6 365.7,292.2 368,291.7 370.4,291.2 372.8,290.8 375.1,290.3 377.5,289.8 379.9,289.4 382.2,288.8 384.6,288.1 387,287.4 389.3,286.7 391.7,286.1 394.1,285.8 396.4,285.4 398.8,285 401.2,284.7 403.5,284.6 405.9,284.4 408.3,284.3 410.6,284.2 413,283.9 415.4,283.6 417.7,283.3 420.1,283 422.5,282.8 424.8,282.5 427.2,282.2"/>
<polyline class="mc" points="213.7,292.5 217.3,294.7 220.8,297 224.4,299.5 227.9,301.9 231.5,304.1 235,305.7 238.6,307.3 242.1,308.9 245.7,310.4"/>
<polyline class="mp" points="71.6,235.2 74,236.9 76.3,238.4 78.7,239.6 81.1,240.8 83.4,242 85.8,243.1 88.2,244.3 90.5,245.5 92.9,246.7 95.3,247.9 97.6,249.1 100,250.2 102.4,251.4 104.7,252.6 107.1,253.8 109.5,255 111.8,256.1 114.2,257.3 116.6,258.4 118.9,259.3 121.3,260.3 123.7,261.2 126,262.2 128.4,263.1 130.8,264.1 133.1,264.9 135.5,265.8 137.9,266.6 140.2,267.4 142.6,268.3 145,269.1 147.3,270 149.7,270.8 152.1,271.7 154.4,272.7 156.8,273.6 159.2,274.6 161.5,275.5 163.9,276.5 166.3,277.5 168.6,278.4 171,279.3 173.4,280.1 175.7,280.8 178.1,281.5 180.5,282.2 182.8,282.9 185.2,283.6 187.6,284.4 189.9,285.1 192.3,285.7 194.7,286.4 197,287.1 199.4,287.7 201.8,288.4 204.1,289.1 206.5,289.7 208.9,290.4"/>
<polyline class="mo" points="249.1,312.2 251.5,312.3 253.8,312.4 256.2,312.5 258.6,312.6 260.9,312.7 263.3,312.6 265.7,312.6 268,312.5 270.4,312.5 272.8,312.4 275.1,312.3 277.5,312.3 279.9,312.2 282.2,312 284.6,311.6 287,311.3 289.3,310.9 291.7,310.6 294.1,310.3 296.4,309.4 298.8,308.5 301.2,307.6 303.5,306.9 305.9,306.2 308.3,305.5 310.6,304.8 313,304.2 315.4,303.6 317.7,303.1 320.1,302.5 322.5,302 324.8,301.5 327.2,301 329.6,300.6 331.9,300.1 334.3,299.6 336.7,299.2 339,298.7 341.4,298.2 343.8,297.7 346.1,297.3 348.5,296.8 350.9,296.3 353.2,295.9 355.6,295.4 358,294.9"/>
<polyline class="mp" points="360.3,294.5 362.7,294 365.1,293.5 367.4,293 369.8,292.6 372.2,292.1 374.5,291.6 376.9,291.2 379.3,290.7 381.6,290.1 384,289.4 386.4,288.7 388.7,288 391.1,287.4 393.5,287 395.8,286.7 398.2,286.3 400.6,286 402.9,285.8 405.3,285.7 407.7,285.6 410,285.5 412.4,285.2 414.8,284.9 417.1,284.6 419.5,284.3 421.9,284.1 424.2,283.8 426.6,283.5"/>
<polyline class="mc" points="220.1,299.4 223.7,301.9"/>
<polyline class="mc" points="237.9,309.9 241.4,311.4 245,313"/>
<polyline class="mo" points="71,237.5 73.4,239.2 75.7,240.7 78.1,241.9 80.5,243.1 82.8,244.3 85.2,245.4 87.6,246.6 89.9,247.8 92.3,249 94.7,250.2 97,251.4 99.4,252.5 101.8,253.7 104.1,254.9 106.5,256.1 108.9,257.3 111.2,258.5 113.6,259.6 116,260.7 118.3,261.7 120.7,262.6 123.1,263.6 125.4,264.5 127.8,265.5 130.2,266.4 132.5,267.2 134.9,268.1 137.3,268.9 139.6,269.7 142,270.5 144.4,271.4 146.7,272.2 149.1,273 151.5,273.9 153.8,274.9 156.2,275.8 158.6,276.8 160.9,277.7 163.3,278.7 165.7,279.6 168,280.6 170.4,281.5 172.8,282.2 175.1,282.9 177.5,283.6 179.9,284.3 182.2,285 184.6,285.7 187,286.4 189.3,287.1 191.7,287.8 194.1,288.5 196.4,289.1 198.8,289.8 201.2,290.4 203.5,291.1 205.9,291.7 208.3,292.4 210.6,293.3 213,294.8 215.4,296.3"/>
<polyline class="mo" points="227.2,304.4 229.6,306 231.9,307.2 234.3,308.3 236.7,309.3"/>
<polyline class="mo" points="248.5,314.4 250.9,314.5 253.2,314.6 255.6,314.7 258,314.8 260.3,314.8 262.7,314.8 265.1,314.7 267.4,314.7 269.8,314.6 272.2,314.5 274.5,314.5 276.9,314.4 279.3,314.4 281.6,314.1 284,313.8 286.4,313.4 288.7,313.1 291.1,312.8 293.5,312.4 295.8,311.6 298.2,310.6 300.6,309.7 302.9,309 305.3,308.2 307.7,307.5 310,306.8 312.4,306.2 314.8,305.6 317.1,305.1 319.5,304.5 321.9,304 324.2,303.5 326.6,303 329,302.5 331.3,302.1 333.7,301.6 336.1,301.1 338.4,300.7 340.8,300.2 343.2,299.7 345.5,299.2 347.9,298.8 350.3,298.3 352.6,297.8 355,297.3 357.4,296.9 359.7,296.4 362.1,295.9 364.5,295.4 366.8,295 369.2,294.5 371.6,294 373.9,293.6 376.3,293.1 378.7,292.6 381,292 383.4,291.3 385.8,290.6 388.1,289.9 390.5,289.3 392.9,288.9 395.2,288.6 397.6,288.2 400,287.8 402.3,287.7 404.7,287.6 407.1,287.5 409.4,287.4 411.8,287.1 414.2,286.8 416.5,286.5 418.9,286.2 421.3,285.9 423.6,285.6 426,285.3"/>
</g>
<g><line class="a" x1="71.2" y1="339.4" x2="426.0" y2="382.4"/><line class="a" x1="426.0" y1="382.4" x2="500.0" y2="182.4"/><line class="a" x1="71.2" y1="339.4" x2="71.2" y2="231.5"/><line class="a" x1="426.0" y1="382.4" x2="423.2" y2="390.1"/><line class="a" x1="426.0" y1="382.4" x2="434.1" y2="383.4"/><line class="a" x1="355.0" y1="373.8" x2="352.2" y2="381.5"/><line class="a" x1="440.8" y1="342.4" x2="448.9" y2="343.4"/><line class="a" x1="284.1" y1="365.2" x2="281.2" y2="372.9"/><line class="a" x1="455.6" y1="302.4" x2="463.7" y2="303.4"/><line class="a" x1="213.1" y1="356.6" x2="210.3" y2="364.3"/><line class="a" x1="470.4" y1="262.4" x2="478.5" y2="263.4"/><line class="a" x1="142.2" y1="348.0" x2="139.3" y2="355.7"/><line class="a" x1="485.2" y1="222.4" x2="493.3" y2="223.4"/><line class="a" x1="71.2" y1="339.4" x2="68.4" y2="347.1"/><line class="a" x1="500.0" y1="182.4" x2="508.1" y2="183.4"/><line class="a" x1="71.2" y1="334.4" x2="63.2" y2="334.4"/><line class="a" x1="71.2" y1="304.4" x2="63.2" y2="304.4"/><line class="a" x1="71.2" y1="274.4" x2="63.2" y2="274.4"/><line class="a" x1="71.2" y1="244.4" x2="63.2" y2="244.4"/></g>
<g><text class="t" text-anchor="end" x="420.7" y="410.0">0</text><text class="t" x="440.3" y="397.5">0</text><text class="t" text-anchor="end" x="349.7" y="401.4">200</text><text class="t" x="455.1" y="357.5">200</text><text class="t" text-anchor="end" x="278.8" y="392.8">400</text><text class="t" x="469.9" y="317.5">400</text><text class="t" text-anchor="end" x="207.8" y="384.2">600</text><text class="t" x="484.7" y="277.5">600</text><text class="t" text-anchor="end" x="136.9" y="375.6">800</text><text class="t" x="499.5" y="237.5">800</text><text class="t" text-anchor="end" x="65.9" y="367.0">1000</text><text class="t" x="514.3" y="197.5">1000</text><text class="t" text-anchor="end" x="56.4" y="339.3">700</text><text class="t" text-anchor="end" x="56.4" y="309.3">800</text><text class="t" text-anchor="end" x="56.4" y="279.3">900</text><text class="t" text-anchor="end" x="56.4" y="249.3">1000</text></g>
<text class="l" text-anchor="middle" transform="translate(19.4,285) rotate(-90)">z (m)</text>
<text class="l" x="248.6" y="412.3">y (m)</text>
<text class="l" x="499.8" y="374">x (m)</text>
<text class="ti" text-anchor="middle" x="286" y="22.6">NLE and TLE</text>
<rect x="363.5" y="15.5" width="125" height="51.5" fill="#fff" stroke="#262626" stroke-width="1"/>
<rect x="367.5" y="18.6" width="40.5" height="12.9" fill="#000f00"/>
<circle cx="387.4" cy="41.7" r="3.6" fill="#0072bd" stroke="#ff00ff" stroke-width="1"/>
<circle cx="387.4" cy="58.4" r="3.6" fill="#ff4500" stroke="#fa6a4a" stroke-width="1"/>
<text class="lg" x="411.5" y="29.4">Base Surface</text>
<text class="lg" x="411.5" y="46.4">TLE</text>
<text class="lg" x="411.5" y="63">NLE</text>
</svg>
</body></html>
